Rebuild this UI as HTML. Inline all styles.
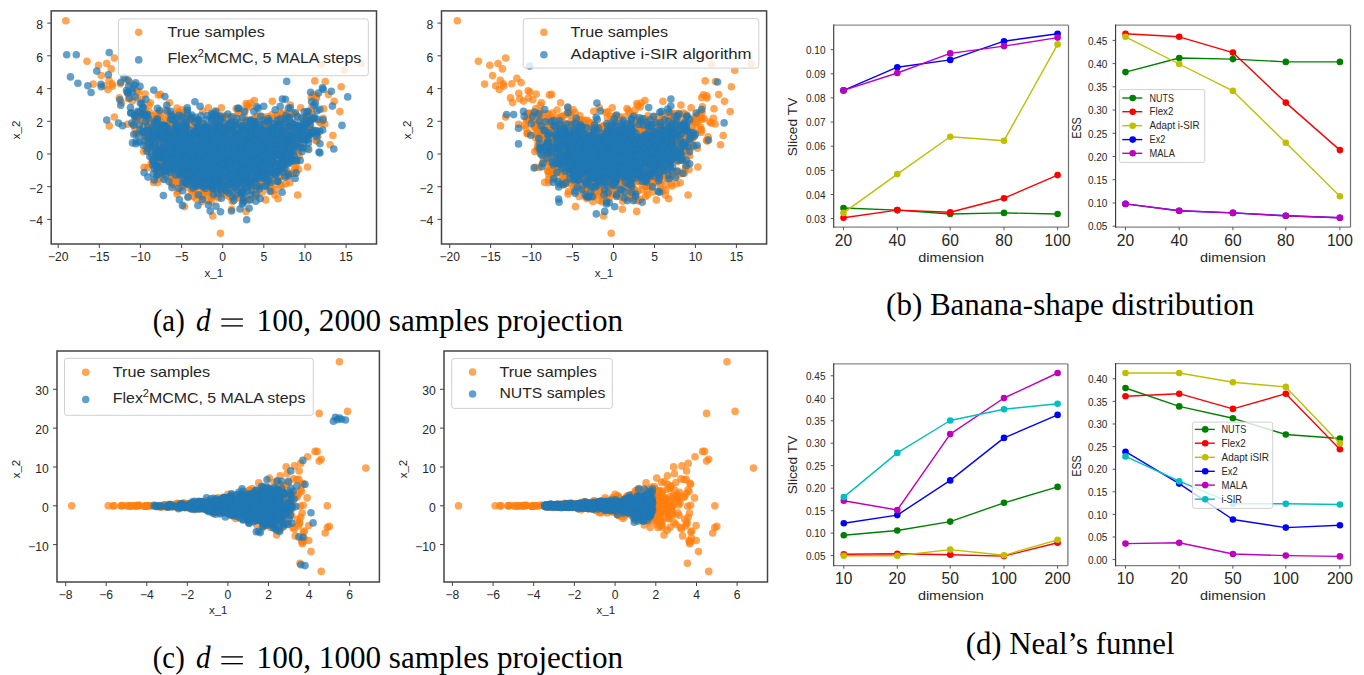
<!DOCTYPE html>
<html><head><meta charset="utf-8"><style>
html,body{margin:0;padding:0;background:#fff;width:1364px;height:675px;overflow:hidden}
svg{display:block}
text{font-family:"Liberation Sans", sans-serif}
.ser{font-family:"Liberation Serif", serif}
g circle{r:3.8px}
</style></head><body>
<svg width="1364" height="675" viewBox="0 0 1364 675">
<g fill="#ff7f0e" fill-opacity=".7"><circle cx="273.1" cy="158.7"/><circle cx="201" cy="195.7"/><circle cx="253.4" cy="178"/><circle cx="146.7" cy="146.1"/><circle cx="287.1" cy="130"/><circle cx="250.7" cy="129.1"/><circle cx="160.4" cy="130.6"/><circle cx="143.7" cy="126.1"/><circle cx="189.2" cy="158.5"/><circle cx="203.5" cy="147.4"/><circle cx="173.6" cy="179.6"/><circle cx="161.3" cy="150.9"/><circle cx="224.2" cy="134"/><circle cx="259.6" cy="178.2"/><circle cx="252.2" cy="155"/><circle cx="169.9" cy="136.6"/><circle cx="151.4" cy="136"/><circle cx="279.7" cy="125.9"/><circle cx="167.9" cy="168.3"/><circle cx="150" cy="130.2"/><circle cx="254.8" cy="196.6"/><circle cx="186.7" cy="120.2"/><circle cx="218.4" cy="198"/><circle cx="267.4" cy="122.8"/><circle cx="274.5" cy="184.6"/><circle cx="296.4" cy="151.7"/><circle cx="158" cy="171.7"/><circle cx="259" cy="175.5"/><circle cx="170.8" cy="159.3"/><circle cx="276.2" cy="141"/><circle cx="156.9" cy="159.8"/><circle cx="168.9" cy="158.8"/><circle cx="285" cy="123.9"/><circle cx="305.9" cy="119.8"/><circle cx="149.6" cy="119.6"/><circle cx="287.7" cy="141.4"/><circle cx="222" cy="181.5"/><circle cx="238.6" cy="112.4"/><circle cx="218.9" cy="186.5"/><circle cx="169.9" cy="162.4"/><circle cx="202.7" cy="181.4"/><circle cx="272.3" cy="101.2"/><circle cx="214.9" cy="112.5"/><circle cx="163.5" cy="147.9"/><circle cx="277.6" cy="149.5"/><circle cx="309.4" cy="112.1"/><circle cx="163.2" cy="167.2"/><circle cx="328.4" cy="94.6"/><circle cx="196.1" cy="183.2"/><circle cx="188.5" cy="135.2"/><circle cx="211.6" cy="197.2"/><circle cx="208.3" cy="127.7"/><circle cx="267.7" cy="123.5"/><circle cx="134.8" cy="127.7"/><circle cx="163.1" cy="143.7"/><circle cx="198.4" cy="183.9"/><circle cx="245" cy="200.5"/><circle cx="277.1" cy="178.4"/><circle cx="256.1" cy="169.3"/><circle cx="264.5" cy="143.7"/><circle cx="202.6" cy="177.9"/><circle cx="176.2" cy="136"/><circle cx="218.9" cy="179.8"/><circle cx="143.6" cy="151.6"/><circle cx="246.5" cy="138.3"/><circle cx="305.4" cy="122.2"/><circle cx="253.8" cy="119"/><circle cx="298" cy="153"/><circle cx="310.3" cy="127.3"/><circle cx="245.7" cy="124.3"/><circle cx="160.9" cy="113.1"/><circle cx="256.4" cy="186.2"/><circle cx="235.7" cy="132.2"/><circle cx="238.7" cy="139.1"/><circle cx="246.6" cy="180.3"/><circle cx="192.5" cy="189.6"/><circle cx="214.6" cy="128.4"/><circle cx="199.1" cy="174.5"/><circle cx="276.7" cy="140"/><circle cx="174.7" cy="179.3"/><circle cx="158.7" cy="144.4"/><circle cx="296.3" cy="143.2"/><circle cx="245.1" cy="132.4"/><circle cx="163.1" cy="169.8"/><circle cx="248.7" cy="176.6"/><circle cx="184" cy="112.9"/><circle cx="201.9" cy="201.5"/><circle cx="177.8" cy="170.1"/><circle cx="292.3" cy="114.4"/><circle cx="262.3" cy="116.9"/><circle cx="201.5" cy="175.1"/><circle cx="251.4" cy="141.5"/><circle cx="127.4" cy="124.3"/><circle cx="180.4" cy="158.1"/><circle cx="162.1" cy="171.4"/><circle cx="160.3" cy="117.7"/><circle cx="256.7" cy="138.4"/><circle cx="291.2" cy="160.4"/><circle cx="221.7" cy="178.9"/><circle cx="267.6" cy="129.9"/><circle cx="144.1" cy="167.2"/><circle cx="241" cy="185.9"/><circle cx="205.1" cy="147.4"/><circle cx="235.1" cy="141.8"/><circle cx="187.2" cy="159.3"/><circle cx="162" cy="148.9"/><circle cx="293.7" cy="173.4"/><circle cx="251.4" cy="121.2"/><circle cx="252" cy="157.6"/><circle cx="253.1" cy="129.1"/><circle cx="306" cy="116.4"/><circle cx="255.8" cy="169.7"/><circle cx="247.7" cy="126.9"/><circle cx="286.2" cy="175.9"/><circle cx="171.3" cy="132.4"/><circle cx="173.6" cy="125.7"/><circle cx="272.9" cy="150.6"/><circle cx="174.7" cy="141.5"/><circle cx="247.4" cy="177.4"/><circle cx="204.9" cy="191.9"/><circle cx="144.4" cy="137.7"/><circle cx="242" cy="192.9"/><circle cx="214" cy="188.1"/><circle cx="271.1" cy="166.8"/><circle cx="179.2" cy="113"/><circle cx="193.5" cy="172.6"/><circle cx="285.6" cy="125.6"/><circle cx="234.2" cy="140.1"/><circle cx="195.3" cy="126.2"/><circle cx="234.1" cy="116.7"/><circle cx="157.8" cy="167.3"/><circle cx="277.4" cy="148.8"/><circle cx="157.7" cy="123.3"/><circle cx="229" cy="116.9"/><circle cx="175.6" cy="165.5"/><circle cx="239" cy="136.5"/><circle cx="170.1" cy="154.7"/><circle cx="148.2" cy="119.4"/><circle cx="175.4" cy="146.6"/><circle cx="290" cy="136.8"/><circle cx="229.9" cy="134.5"/><circle cx="191.2" cy="178"/><circle cx="220.9" cy="181.8"/><circle cx="257.4" cy="115.7"/><circle cx="275" cy="164.2"/><circle cx="302.2" cy="126.1"/><circle cx="261" cy="146"/><circle cx="230.4" cy="132.2"/><circle cx="275.1" cy="142.3"/><circle cx="230.6" cy="178.6"/><circle cx="264.5" cy="120.8"/><circle cx="246" cy="211.4"/><circle cx="265.7" cy="154.5"/><circle cx="244.6" cy="128.8"/><circle cx="288.9" cy="137.7"/><circle cx="298.4" cy="147.6"/><circle cx="281.3" cy="157.1"/><circle cx="174.9" cy="145.3"/><circle cx="132.3" cy="101.1"/><circle cx="262.3" cy="191.9"/><circle cx="161" cy="141.9"/><circle cx="241.6" cy="126.8"/><circle cx="235.7" cy="141.7"/><circle cx="253.9" cy="172.3"/><circle cx="294.4" cy="146.8"/><circle cx="199.5" cy="192.1"/><circle cx="191.9" cy="130.5"/><circle cx="170.6" cy="120.8"/><circle cx="198.2" cy="180.4"/><circle cx="288.5" cy="136.9"/><circle cx="125.6" cy="78.4"/><circle cx="240.8" cy="140.9"/><circle cx="200.5" cy="175.7"/><circle cx="240.4" cy="186.8"/><circle cx="202.5" cy="196.6"/><circle cx="287.1" cy="136.8"/><circle cx="240.5" cy="164.7"/><circle cx="191.8" cy="181.8"/><circle cx="245" cy="133.5"/><circle cx="214.1" cy="130.7"/><circle cx="189.3" cy="132.4"/><circle cx="213.4" cy="125.5"/><circle cx="253.7" cy="181.8"/><circle cx="220.9" cy="177.5"/><circle cx="282.6" cy="147.5"/><circle cx="274.9" cy="140.6"/><circle cx="218.2" cy="127.7"/><circle cx="211.2" cy="201.8"/><circle cx="161.7" cy="174"/><circle cx="164.5" cy="166.4"/><circle cx="229.5" cy="192.8"/><circle cx="170.7" cy="116.3"/><circle cx="219.5" cy="122.8"/><circle cx="154.4" cy="130.2"/><circle cx="253.5" cy="120.9"/><circle cx="311.7" cy="112.6"/><circle cx="161.8" cy="135.3"/><circle cx="297.6" cy="195"/><circle cx="194.4" cy="181.8"/><circle cx="202.4" cy="183.2"/><circle cx="163.3" cy="129.9"/><circle cx="276.1" cy="136.5"/><circle cx="191.8" cy="192"/><circle cx="160.3" cy="150.5"/><circle cx="152.2" cy="158.9"/><circle cx="204.8" cy="185.7"/><circle cx="265.8" cy="172.5"/><circle cx="267.1" cy="169.8"/><circle cx="292.2" cy="141.3"/><circle cx="233.6" cy="187.1"/><circle cx="246.2" cy="181.2"/><circle cx="145.1" cy="94"/><circle cx="221.9" cy="192.8"/><circle cx="179.1" cy="163.3"/><circle cx="321" cy="123.1"/><circle cx="228.5" cy="182.9"/><circle cx="119.3" cy="97.9"/><circle cx="252" cy="128.5"/><circle cx="289.7" cy="120.5"/><circle cx="192.7" cy="121.7"/><circle cx="159" cy="119.8"/><circle cx="278.4" cy="143.2"/><circle cx="159.3" cy="137.9"/><circle cx="266.1" cy="136.7"/><circle cx="171.6" cy="138.1"/><circle cx="205.5" cy="180.6"/><circle cx="137.1" cy="120.8"/><circle cx="218.4" cy="126.2"/><circle cx="174.5" cy="183"/><circle cx="237.4" cy="139.8"/><circle cx="271.7" cy="114.9"/><circle cx="231.6" cy="209.3"/><circle cx="206.5" cy="184.9"/><circle cx="171.2" cy="129.6"/><circle cx="270.4" cy="126.7"/><circle cx="252.8" cy="122.3"/><circle cx="232.7" cy="183.7"/><circle cx="180.4" cy="180.2"/><circle cx="181" cy="170.8"/><circle cx="237.2" cy="164.6"/><circle cx="253" cy="159.2"/><circle cx="229.8" cy="129.9"/><circle cx="221.3" cy="179.9"/><circle cx="171.2" cy="137.6"/><circle cx="281.3" cy="186"/><circle cx="190.6" cy="120.4"/><circle cx="166" cy="151.6"/><circle cx="266.8" cy="144.5"/><circle cx="257" cy="173.1"/><circle cx="158.7" cy="142.3"/><circle cx="190.5" cy="171"/><circle cx="242.8" cy="164.3"/><circle cx="183.6" cy="159.1"/><circle cx="185.3" cy="124.3"/><circle cx="186.4" cy="126.9"/><circle cx="236.7" cy="197.9"/><circle cx="267.1" cy="116.8"/><circle cx="166.9" cy="152.4"/><circle cx="167.2" cy="141.7"/><circle cx="268.1" cy="155.5"/><circle cx="267" cy="156.6"/><circle cx="214" cy="182.8"/><circle cx="267.1" cy="130.4"/><circle cx="277.2" cy="161.5"/><circle cx="207.6" cy="194.2"/><circle cx="247.3" cy="200.8"/><circle cx="242.5" cy="134.2"/><circle cx="229.1" cy="128.6"/><circle cx="156.9" cy="134.4"/><circle cx="187.4" cy="125.6"/><circle cx="184.5" cy="206.6"/><circle cx="167.5" cy="125"/><circle cx="173" cy="184.7"/><circle cx="215.4" cy="127.7"/><circle cx="180.6" cy="167.6"/><circle cx="232.4" cy="185.5"/><circle cx="292.5" cy="144.7"/><circle cx="275.1" cy="190"/><circle cx="234.6" cy="130"/><circle cx="176.6" cy="152.5"/><circle cx="175.3" cy="126.5"/><circle cx="139.5" cy="116"/><circle cx="286.6" cy="133.3"/><circle cx="263.2" cy="144.6"/><circle cx="148.7" cy="127.2"/><circle cx="154.4" cy="132.9"/><circle cx="149.2" cy="111.8"/><circle cx="114.4" cy="58.1"/><circle cx="316.8" cy="141.1"/><circle cx="256.8" cy="171.3"/><circle cx="227.3" cy="173.3"/><circle cx="290.3" cy="150"/><circle cx="171.9" cy="170.5"/><circle cx="236.9" cy="132.6"/><circle cx="164.1" cy="136.9"/><circle cx="289.1" cy="140.6"/><circle cx="302.9" cy="130.6"/><circle cx="183.5" cy="128.3"/><circle cx="294.2" cy="125.8"/><circle cx="216" cy="196.5"/><circle cx="284.5" cy="133.4"/><circle cx="285.1" cy="124.8"/><circle cx="275.7" cy="164"/><circle cx="158" cy="171.2"/><circle cx="178.5" cy="141.7"/><circle cx="170.1" cy="135.2"/><circle cx="289.7" cy="182.7"/><circle cx="180.8" cy="160.3"/><circle cx="272.3" cy="118"/><circle cx="164.3" cy="133.8"/><circle cx="244.5" cy="126"/><circle cx="203.6" cy="147.4"/><circle cx="282.9" cy="145.1"/><circle cx="137.2" cy="98.1"/><circle cx="151" cy="119.5"/><circle cx="238.8" cy="165.2"/><circle cx="272.4" cy="140"/><circle cx="127.5" cy="93.3"/><circle cx="264.6" cy="172.3"/><circle cx="169.3" cy="159.8"/><circle cx="268.7" cy="170.1"/><circle cx="159.4" cy="143.9"/><circle cx="282.4" cy="137.6"/><circle cx="177.7" cy="145.7"/><circle cx="173.5" cy="164.8"/><circle cx="255.9" cy="135.9"/><circle cx="204.9" cy="137.1"/><circle cx="144.9" cy="128.3"/><circle cx="250.6" cy="134.3"/><circle cx="171.1" cy="167.6"/><circle cx="293.2" cy="131"/><circle cx="209.9" cy="191.4"/><circle cx="279.7" cy="166.8"/><circle cx="291.1" cy="131.5"/><circle cx="209.9" cy="139.7"/><circle cx="286.8" cy="161.8"/><circle cx="238.8" cy="132.3"/><circle cx="257.3" cy="128.2"/><circle cx="258.9" cy="185.7"/><circle cx="207.5" cy="138.2"/><circle cx="227" cy="135.3"/><circle cx="215.1" cy="182"/><circle cx="307" cy="148.3"/><circle cx="177.6" cy="191.5"/><circle cx="250.4" cy="134.7"/><circle cx="185.7" cy="120.8"/><circle cx="202.2" cy="179.8"/><circle cx="270.7" cy="159.7"/><circle cx="306.5" cy="119"/><circle cx="284" cy="120.3"/><circle cx="276.8" cy="120.2"/><circle cx="164.3" cy="172.3"/><circle cx="241.3" cy="167.9"/><circle cx="262.5" cy="142.9"/><circle cx="225.7" cy="132.6"/><circle cx="272.2" cy="161"/><circle cx="279.9" cy="124.4"/><circle cx="179.3" cy="173.4"/><circle cx="281.5" cy="140.9"/><circle cx="299.9" cy="143.6"/><circle cx="149.1" cy="105.3"/><circle cx="216.9" cy="182.2"/><circle cx="162.8" cy="141.6"/><circle cx="184.1" cy="184"/><circle cx="207.5" cy="177.2"/><circle cx="197.9" cy="178.9"/><circle cx="183.8" cy="156.1"/><circle cx="262.5" cy="125.5"/><circle cx="146.9" cy="147.2"/><circle cx="289" cy="135.3"/><circle cx="190.3" cy="177"/><circle cx="277.8" cy="157.1"/><circle cx="224.4" cy="116.1"/><circle cx="158.5" cy="163.3"/><circle cx="230.3" cy="187.9"/><circle cx="271.9" cy="147.3"/><circle cx="278.8" cy="172.5"/><circle cx="243.5" cy="176.5"/><circle cx="180.3" cy="127.2"/><circle cx="145.9" cy="149.8"/><circle cx="173.2" cy="170.5"/><circle cx="178.4" cy="131.4"/><circle cx="164" cy="154.6"/><circle cx="195.4" cy="172"/><circle cx="140.9" cy="118.1"/><circle cx="324.8" cy="124"/><circle cx="171.1" cy="182.7"/><circle cx="273.7" cy="175.3"/><circle cx="270.6" cy="158"/><circle cx="175.3" cy="176.9"/><circle cx="162.1" cy="155.1"/><circle cx="181.6" cy="132.5"/><circle cx="269.2" cy="149.1"/><circle cx="209.9" cy="137"/><circle cx="189.4" cy="172.2"/><circle cx="165.5" cy="133.7"/><circle cx="206.9" cy="177.3"/><circle cx="312" cy="106.7"/><circle cx="297.5" cy="135.5"/><circle cx="261.8" cy="147.8"/><circle cx="249.8" cy="199.3"/><circle cx="136.2" cy="133.6"/><circle cx="167.7" cy="131.5"/><circle cx="168.2" cy="146.2"/><circle cx="193.7" cy="173.6"/><circle cx="208.3" cy="139.6"/><circle cx="251.5" cy="184.9"/><circle cx="233.5" cy="132.7"/><circle cx="183.9" cy="145.5"/><circle cx="250.5" cy="103.1"/><circle cx="271.2" cy="179.4"/><circle cx="185" cy="131.8"/><circle cx="109" cy="80.4"/><circle cx="311.2" cy="119.3"/><circle cx="259" cy="170.6"/><circle cx="201.6" cy="177.9"/><circle cx="225.8" cy="133"/><circle cx="196.3" cy="120.2"/><circle cx="176.7" cy="123.7"/><circle cx="249.3" cy="174.3"/><circle cx="243.4" cy="190.9"/><circle cx="233.4" cy="177.7"/><circle cx="303.2" cy="122.6"/><circle cx="265.6" cy="132.9"/><circle cx="292.1" cy="151.1"/><circle cx="237.6" cy="168.5"/><circle cx="173.1" cy="183.4"/><circle cx="268.7" cy="166.4"/><circle cx="212.3" cy="130.7"/><circle cx="152" cy="137.1"/><circle cx="151.7" cy="127.2"/><circle cx="181.4" cy="147.2"/><circle cx="266.9" cy="170.8"/><circle cx="283.1" cy="118.9"/><circle cx="226.3" cy="133.5"/><circle cx="269.9" cy="188.8"/><circle cx="212.3" cy="127"/><circle cx="310.9" cy="117.4"/><circle cx="196.1" cy="198.8"/><circle cx="241.7" cy="126.3"/><circle cx="263.6" cy="139.7"/><circle cx="172.5" cy="153"/><circle cx="232.8" cy="181.5"/><circle cx="174.6" cy="150.7"/><circle cx="220.7" cy="185.9"/><circle cx="280.6" cy="184.2"/><circle cx="280.9" cy="113.5"/><circle cx="137.2" cy="133.2"/><circle cx="274" cy="173.5"/><circle cx="311.2" cy="130.3"/><circle cx="168.6" cy="125.2"/><circle cx="325.2" cy="81.6"/><circle cx="287.6" cy="159.2"/><circle cx="257.8" cy="186.2"/><circle cx="323.1" cy="118.2"/><circle cx="226.6" cy="137.5"/><circle cx="167" cy="164.3"/><circle cx="179.7" cy="115.4"/><circle cx="277.4" cy="115.6"/><circle cx="181.5" cy="125.4"/><circle cx="259.8" cy="183.8"/><circle cx="157.8" cy="132.7"/><circle cx="238.6" cy="171.2"/><circle cx="133.5" cy="125.1"/><circle cx="177.5" cy="170.4"/><circle cx="249" cy="132"/><circle cx="162.9" cy="160.7"/><circle cx="135.9" cy="133.5"/><circle cx="187.5" cy="156.3"/><circle cx="190" cy="134.7"/><circle cx="253.8" cy="171"/><circle cx="184.8" cy="159.3"/><circle cx="164.6" cy="139.2"/><circle cx="281.6" cy="149.1"/><circle cx="254.7" cy="172.2"/><circle cx="272.7" cy="131.6"/><circle cx="252.9" cy="141.3"/><circle cx="171.3" cy="168.3"/><circle cx="264.6" cy="149.8"/><circle cx="239.7" cy="165.9"/><circle cx="282.6" cy="158.5"/><circle cx="276.7" cy="142.5"/><circle cx="260.9" cy="173.9"/><circle cx="216.6" cy="127.1"/><circle cx="279.1" cy="167.1"/><circle cx="160.5" cy="128.3"/><circle cx="184.3" cy="157.7"/><circle cx="183.2" cy="140.1"/><circle cx="144.6" cy="108.5"/><circle cx="311.3" cy="97.5"/><circle cx="244.2" cy="110"/><circle cx="167.2" cy="126.7"/><circle cx="166.1" cy="110"/><circle cx="146.9" cy="142.8"/><circle cx="181.3" cy="148.9"/><circle cx="253.4" cy="135.8"/><circle cx="239.6" cy="137"/><circle cx="140" cy="117.3"/><circle cx="112.4" cy="86.1"/><circle cx="209.3" cy="191.4"/><circle cx="174.2" cy="145.1"/><circle cx="316.1" cy="140.3"/><circle cx="227.8" cy="137"/><circle cx="181.9" cy="143.1"/><circle cx="246.1" cy="134.6"/><circle cx="239" cy="139.6"/><circle cx="225" cy="125.8"/><circle cx="145.4" cy="113.4"/><circle cx="317.8" cy="136.9"/><circle cx="256.9" cy="194.7"/><circle cx="220.4" cy="126.9"/><circle cx="151.2" cy="163.8"/><circle cx="170.2" cy="174.6"/><circle cx="278.5" cy="157.4"/><circle cx="108" cy="89.5"/><circle cx="321.1" cy="64.2"/><circle cx="180.4" cy="177.1"/><circle cx="166.7" cy="145.8"/><circle cx="234" cy="134.5"/><circle cx="281.5" cy="145.8"/><circle cx="220.4" cy="186.3"/><circle cx="265.8" cy="151.6"/><circle cx="173.9" cy="162.8"/><circle cx="280.3" cy="176.5"/><circle cx="287.2" cy="144.7"/><circle cx="285.8" cy="183.8"/><circle cx="175.2" cy="136.1"/><circle cx="174.6" cy="146.9"/><circle cx="243.6" cy="129.7"/><circle cx="163.7" cy="124.1"/><circle cx="221.7" cy="133.4"/><circle cx="247.1" cy="176.9"/><circle cx="135.7" cy="114"/><circle cx="231.4" cy="122.7"/><circle cx="222.2" cy="186.6"/><circle cx="148.9" cy="115"/><circle cx="298.5" cy="169.6"/><circle cx="157.8" cy="174.4"/><circle cx="249.6" cy="106.9"/><circle cx="274.7" cy="159.7"/><circle cx="234.9" cy="180.1"/><circle cx="181" cy="163.6"/><circle cx="234.5" cy="141.5"/><circle cx="282.7" cy="158.5"/><circle cx="303.2" cy="121.8"/><circle cx="232.1" cy="187.3"/><circle cx="166.6" cy="169.1"/><circle cx="205" cy="170.2"/><circle cx="292.2" cy="145.1"/><circle cx="251.3" cy="189.7"/><circle cx="261.2" cy="148.3"/><circle cx="211.1" cy="190.6"/><circle cx="235" cy="139.1"/><circle cx="197.3" cy="174.6"/><circle cx="168.5" cy="118.1"/><circle cx="281.3" cy="133.8"/><circle cx="180" cy="149.1"/><circle cx="265.2" cy="123.6"/><circle cx="212.8" cy="216"/><circle cx="275.9" cy="155"/><circle cx="252" cy="157.7"/><circle cx="281.3" cy="134.5"/><circle cx="278.1" cy="198.7"/><circle cx="261.5" cy="185.6"/><circle cx="165.8" cy="150.4"/><circle cx="257.5" cy="178"/><circle cx="239.9" cy="141.1"/><circle cx="203.6" cy="191.5"/><circle cx="232.2" cy="131.9"/><circle cx="205.2" cy="146"/><circle cx="245.1" cy="128.3"/><circle cx="143.8" cy="123.1"/><circle cx="153.4" cy="135"/><circle cx="202.8" cy="111.2"/><circle cx="244" cy="115.7"/><circle cx="287.3" cy="171"/><circle cx="177.2" cy="160"/><circle cx="160.5" cy="158.9"/><circle cx="229.4" cy="178.9"/><circle cx="187.7" cy="155.3"/><circle cx="231.1" cy="139"/><circle cx="252.7" cy="153.4"/><circle cx="173.6" cy="135.2"/><circle cx="142.9" cy="127.1"/><circle cx="215" cy="189.3"/><circle cx="292.6" cy="135.4"/><circle cx="302.4" cy="118.2"/><circle cx="259.8" cy="174.1"/><circle cx="280.4" cy="136.4"/><circle cx="294" cy="146.3"/><circle cx="208.4" cy="107.7"/><circle cx="171.3" cy="134.1"/><circle cx="208.3" cy="200.5"/><circle cx="150.1" cy="131.9"/><circle cx="252.7" cy="136.6"/><circle cx="162.7" cy="136.1"/><circle cx="216.2" cy="126.1"/><circle cx="179.6" cy="165.8"/><circle cx="175.2" cy="155.4"/><circle cx="177.9" cy="142.3"/><circle cx="323.7" cy="108.8"/><circle cx="178.4" cy="140.4"/><circle cx="121.4" cy="102.6"/><circle cx="160.6" cy="140.4"/><circle cx="172.7" cy="132.5"/><circle cx="242.4" cy="181.5"/><circle cx="169.5" cy="102.7"/><circle cx="247.6" cy="137.8"/><circle cx="185.7" cy="140.8"/><circle cx="177" cy="194.1"/><circle cx="257" cy="169.5"/><circle cx="129.8" cy="82.6"/><circle cx="252.6" cy="168.4"/><circle cx="307.5" cy="167"/><circle cx="296.4" cy="163.3"/><circle cx="243.2" cy="136.4"/><circle cx="177.3" cy="141.9"/><circle cx="253.3" cy="156.9"/><circle cx="167.6" cy="159.8"/><circle cx="166.7" cy="141.1"/><circle cx="279.9" cy="123.8"/><circle cx="303.5" cy="136.4"/><circle cx="220.7" cy="132.1"/><circle cx="281.7" cy="129.4"/><circle cx="281.4" cy="125.7"/><circle cx="251.5" cy="156.1"/><circle cx="188.2" cy="196.5"/><circle cx="135.3" cy="120"/><circle cx="205.9" cy="145"/><circle cx="239.8" cy="122.2"/><circle cx="250.4" cy="172.5"/><circle cx="257" cy="126.2"/><circle cx="188.9" cy="123.1"/><circle cx="223" cy="182.3"/><circle cx="160.5" cy="162.8"/><circle cx="310.6" cy="132.4"/><circle cx="299.2" cy="155.8"/><circle cx="220.5" cy="177.6"/><circle cx="267.2" cy="164.7"/><circle cx="288.5" cy="124.5"/><circle cx="185.5" cy="133.2"/><circle cx="114.3" cy="117"/><circle cx="270.4" cy="130"/><circle cx="146.1" cy="114.4"/><circle cx="263.2" cy="177.6"/><circle cx="259.5" cy="124.7"/><circle cx="148" cy="167.5"/><circle cx="267.8" cy="134.9"/><circle cx="229.6" cy="182.7"/><circle cx="266.6" cy="165.7"/><circle cx="265.7" cy="199.9"/><circle cx="186" cy="179.8"/><circle cx="137" cy="90.7"/><circle cx="216.6" cy="117.5"/><circle cx="177.3" cy="177.4"/><circle cx="240.7" cy="194.7"/><circle cx="149.4" cy="135.6"/><circle cx="247.1" cy="191.3"/><circle cx="139.3" cy="113.5"/><circle cx="160.5" cy="94.4"/><circle cx="155.7" cy="113.9"/><circle cx="271.7" cy="149"/><circle cx="189.3" cy="183.8"/><circle cx="93.2" cy="84.1"/><circle cx="235.9" cy="124.4"/><circle cx="276.2" cy="144.6"/><circle cx="270.1" cy="163.8"/><circle cx="148" cy="139.8"/><circle cx="195" cy="128.2"/><circle cx="287.6" cy="113.3"/><circle cx="195.7" cy="186.9"/><circle cx="287.1" cy="148.7"/><circle cx="223.1" cy="193.8"/><circle cx="153.6" cy="182.4"/><circle cx="313.8" cy="118.8"/><circle cx="182.6" cy="186.9"/><circle cx="292.9" cy="159.1"/><circle cx="172.1" cy="127.9"/><circle cx="265.5" cy="182.3"/><circle cx="172.2" cy="150.8"/><circle cx="178.2" cy="142.5"/><circle cx="262.4" cy="130.5"/><circle cx="210.9" cy="139.1"/><circle cx="249.6" cy="156.9"/><circle cx="290.7" cy="173.8"/><circle cx="274.9" cy="195.1"/><circle cx="281.8" cy="129.2"/><circle cx="273.4" cy="147.1"/><circle cx="156.5" cy="171.1"/><circle cx="273" cy="168.8"/><circle cx="236.2" cy="108.6"/><circle cx="217.6" cy="178.8"/><circle cx="178.1" cy="145.9"/><circle cx="157.3" cy="119.9"/><circle cx="177" cy="108"/><circle cx="174.4" cy="141.8"/><circle cx="189.1" cy="177"/><circle cx="216.7" cy="179.6"/><circle cx="277.2" cy="125.5"/><circle cx="247.3" cy="105.6"/><circle cx="179.2" cy="158.9"/><circle cx="236.2" cy="195.7"/><circle cx="227.6" cy="119.2"/><circle cx="203.5" cy="124.2"/><circle cx="180.3" cy="165.5"/><circle cx="203.5" cy="127.8"/><circle cx="173.3" cy="150.6"/><circle cx="248.5" cy="138.4"/><circle cx="162.2" cy="150.3"/><circle cx="264.5" cy="154.1"/><circle cx="172.3" cy="131.7"/><circle cx="144.9" cy="134"/><circle cx="174.1" cy="164.4"/><circle cx="207.7" cy="183.1"/><circle cx="248.2" cy="176"/><circle cx="283.1" cy="141.1"/><circle cx="279.4" cy="144.3"/><circle cx="270.6" cy="175.3"/><circle cx="204.8" cy="170.3"/><circle cx="154.1" cy="140.4"/><circle cx="319.6" cy="122"/><circle cx="281.6" cy="159.8"/><circle cx="255" cy="182.2"/><circle cx="292.2" cy="151.6"/><circle cx="179.7" cy="129.5"/><circle cx="294.5" cy="135.3"/><circle cx="246.1" cy="103.5"/><circle cx="279.3" cy="156.3"/><circle cx="255" cy="186.1"/><circle cx="203.4" cy="194.2"/><circle cx="184" cy="145.3"/><circle cx="280.8" cy="136.1"/><circle cx="239.6" cy="170.9"/><circle cx="252.3" cy="138.5"/><circle cx="201.3" cy="183.8"/><circle cx="300.9" cy="138.7"/><circle cx="238.4" cy="190.6"/><circle cx="237.7" cy="110.6"/><circle cx="185.9" cy="132.9"/><circle cx="175.1" cy="114.3"/><circle cx="232.4" cy="184.2"/><circle cx="278.8" cy="125.6"/><circle cx="242" cy="165.1"/><circle cx="178.7" cy="111.7"/><circle cx="245.1" cy="176.2"/><circle cx="264.8" cy="158.8"/><circle cx="237.2" cy="187.7"/><circle cx="193.4" cy="174.9"/><circle cx="158.8" cy="126.1"/><circle cx="254.9" cy="137.6"/><circle cx="268" cy="137.3"/><circle cx="296" cy="114.9"/><circle cx="175.4" cy="163.8"/><circle cx="250.2" cy="130.9"/><circle cx="292.9" cy="144.9"/><circle cx="221.1" cy="183.2"/><circle cx="147" cy="124.7"/><circle cx="168.8" cy="145.7"/><circle cx="194.7" cy="176"/><circle cx="174.4" cy="133.8"/><circle cx="266" cy="171.6"/><circle cx="254.3" cy="100.5"/><circle cx="228.8" cy="176.2"/><circle cx="295.2" cy="167.1"/><circle cx="255.6" cy="172.7"/><circle cx="203.9" cy="130.7"/><circle cx="189" cy="159.3"/><circle cx="272.8" cy="132.3"/><circle cx="228.7" cy="127.8"/><circle cx="232.2" cy="136.3"/><circle cx="257.8" cy="132.7"/><circle cx="174.7" cy="128.3"/><circle cx="256.2" cy="173.1"/><circle cx="205.6" cy="145.4"/><circle cx="214.7" cy="131.8"/><circle cx="173" cy="183.8"/><circle cx="163.4" cy="178.6"/><circle cx="219" cy="184.5"/><circle cx="150.8" cy="152.1"/><circle cx="182" cy="154.3"/><circle cx="178.9" cy="166.7"/><circle cx="180.4" cy="120.9"/><circle cx="191.4" cy="133"/><circle cx="229.4" cy="178.8"/><circle cx="228.2" cy="177.6"/><circle cx="287.2" cy="155.5"/><circle cx="211.9" cy="183.5"/><circle cx="173.6" cy="176"/><circle cx="184.5" cy="139"/><circle cx="147" cy="135.3"/><circle cx="220" cy="116.3"/><circle cx="159.5" cy="146.1"/><circle cx="206.5" cy="148.1"/><circle cx="210.2" cy="137.2"/><circle cx="241.9" cy="133.2"/><circle cx="204.5" cy="175"/><circle cx="282.8" cy="153.4"/><circle cx="240.3" cy="197.5"/><circle cx="171.6" cy="179.5"/><circle cx="246" cy="142"/><circle cx="167.3" cy="144.3"/><circle cx="174.5" cy="154.1"/><circle cx="300.7" cy="107.8"/><circle cx="151.1" cy="130.2"/><circle cx="270.6" cy="157"/><circle cx="253.2" cy="182.1"/><circle cx="147.3" cy="132.7"/><circle cx="279.6" cy="151.1"/><circle cx="266.9" cy="165.6"/><circle cx="152" cy="115.7"/><circle cx="178" cy="124.4"/><circle cx="193.7" cy="196.6"/><circle cx="295.9" cy="149.6"/><circle cx="225.6" cy="187.1"/><circle cx="210.8" cy="126.3"/><circle cx="182.3" cy="137.4"/><circle cx="280.4" cy="135.9"/><circle cx="208.7" cy="137.8"/><circle cx="290.4" cy="105.1"/><circle cx="205.8" cy="176.1"/><circle cx="273.6" cy="134.2"/><circle cx="245.7" cy="139.2"/><circle cx="266.4" cy="160.5"/><circle cx="262.7" cy="126.6"/><circle cx="230.7" cy="138.2"/><circle cx="246" cy="122.1"/><circle cx="218.9" cy="133"/><circle cx="285.8" cy="145.8"/><circle cx="138.3" cy="113.4"/><circle cx="182.2" cy="136.7"/><circle cx="193.5" cy="120.3"/><circle cx="264.7" cy="140.4"/><circle cx="197.1" cy="128.6"/><circle cx="251.6" cy="125"/><circle cx="265.8" cy="161.1"/><circle cx="174" cy="149.3"/><circle cx="247.3" cy="181.1"/><circle cx="169.9" cy="159.8"/><circle cx="155.1" cy="146.6"/><circle cx="243.5" cy="188.9"/><circle cx="220.1" cy="129.9"/><circle cx="225.9" cy="125.8"/><circle cx="180.1" cy="129.7"/><circle cx="339.9" cy="111.6"/><circle cx="179.6" cy="151.9"/><circle cx="161.6" cy="145.8"/><circle cx="282.9" cy="138.7"/><circle cx="294.7" cy="169.7"/><circle cx="225.8" cy="174.8"/><circle cx="182.9" cy="144.2"/><circle cx="158.3" cy="94.9"/><circle cx="136.9" cy="118.8"/><circle cx="167.6" cy="146.3"/><circle cx="277.5" cy="147.6"/><circle cx="159.7" cy="125.9"/><circle cx="198.3" cy="122.2"/><circle cx="217" cy="111.7"/><circle cx="194" cy="180.9"/><circle cx="291.6" cy="149.1"/><circle cx="228.4" cy="183.4"/><circle cx="192.9" cy="189.5"/><circle cx="177.8" cy="154.3"/><circle cx="153.3" cy="159.5"/><circle cx="179.8" cy="125.3"/><circle cx="172.8" cy="167.8"/><circle cx="273" cy="140.8"/><circle cx="157.5" cy="179.2"/><circle cx="293.1" cy="113.1"/><circle cx="184.4" cy="184.6"/><circle cx="165.9" cy="155.5"/><circle cx="273.5" cy="143.9"/><circle cx="227.5" cy="132.4"/><circle cx="268" cy="152.5"/><circle cx="308.1" cy="120.8"/><circle cx="273.2" cy="155.3"/><circle cx="181.4" cy="165.5"/><circle cx="188.3" cy="178.4"/><circle cx="256.2" cy="190.1"/><circle cx="206" cy="148.5"/><circle cx="170.9" cy="166.7"/><circle cx="182.2" cy="109.9"/><circle cx="231.5" cy="127.8"/><circle cx="136.6" cy="113.4"/><circle cx="229.9" cy="196.9"/><circle cx="180.4" cy="140.3"/><circle cx="234.2" cy="178.9"/><circle cx="205.4" cy="184.4"/><circle cx="269.6" cy="184.3"/><circle cx="166" cy="117.6"/><circle cx="246.2" cy="142"/><circle cx="205.4" cy="185.4"/><circle cx="158.3" cy="170.5"/><circle cx="284.4" cy="118.5"/><circle cx="173.8" cy="154.9"/><circle cx="263.3" cy="136.3"/><circle cx="147.5" cy="132.9"/><circle cx="214.1" cy="181"/><circle cx="139.3" cy="116"/><circle cx="156" cy="135.6"/><circle cx="169.4" cy="156.7"/><circle cx="267.7" cy="164.2"/><circle cx="299.9" cy="147.4"/><circle cx="179.5" cy="162"/><circle cx="306.1" cy="123.7"/><circle cx="120.4" cy="83.8"/><circle cx="224.8" cy="116.4"/><circle cx="245.5" cy="137.4"/><circle cx="158.1" cy="160.9"/><circle cx="236" cy="138.6"/><circle cx="194" cy="189.5"/><circle cx="243.8" cy="193.2"/><circle cx="203.3" cy="144.4"/><circle cx="160.6" cy="128"/><circle cx="286.6" cy="142.9"/><circle cx="264.4" cy="124.8"/><circle cx="204.4" cy="127.6"/><circle cx="287.5" cy="137.6"/><circle cx="249.4" cy="169.2"/><circle cx="220.7" cy="176.1"/><circle cx="180" cy="184"/><circle cx="270.5" cy="126.2"/><circle cx="154.3" cy="137.9"/><circle cx="264.7" cy="158.9"/><circle cx="188.6" cy="119.9"/><circle cx="104.4" cy="85.8"/><circle cx="171" cy="161.1"/><circle cx="158" cy="141.5"/><circle cx="171.8" cy="116.4"/><circle cx="316.3" cy="95.9"/><circle cx="208.7" cy="134.6"/><circle cx="164" cy="160"/><circle cx="235" cy="131.5"/><circle cx="285" cy="172.1"/><circle cx="201.6" cy="175.3"/><circle cx="217.9" cy="129.8"/><circle cx="168.7" cy="158.2"/><circle cx="206.5" cy="176.2"/><circle cx="219.5" cy="188.9"/><circle cx="141.7" cy="99.8"/><circle cx="221.4" cy="107.7"/><circle cx="278.5" cy="145.9"/><circle cx="144.8" cy="124.6"/><circle cx="189.1" cy="115.8"/><circle cx="165.8" cy="141.6"/><circle cx="166.2" cy="138.6"/><circle cx="168.4" cy="166.8"/><circle cx="180.2" cy="158.4"/><circle cx="256.6" cy="133.3"/><circle cx="254.2" cy="118.9"/><circle cx="240" cy="123"/><circle cx="277.6" cy="117.1"/><circle cx="270" cy="155.3"/><circle cx="274.8" cy="157.7"/><circle cx="248.6" cy="129.1"/><circle cx="265.4" cy="178.4"/><circle cx="237.3" cy="185.2"/><circle cx="252" cy="121.5"/><circle cx="150.4" cy="102.7"/><circle cx="310.1" cy="129.4"/><circle cx="146.8" cy="132"/><circle cx="286.1" cy="117"/><circle cx="260.9" cy="124.8"/><circle cx="269.3" cy="145.4"/><circle cx="226.3" cy="186.4"/><circle cx="266.2" cy="161.7"/><circle cx="279.1" cy="177.7"/><circle cx="175" cy="155.6"/><circle cx="154.8" cy="126.6"/><circle cx="292.5" cy="123.8"/><circle cx="266.3" cy="142.7"/><circle cx="277.7" cy="135.1"/><circle cx="274.7" cy="161.2"/><circle cx="228.2" cy="174.5"/><circle cx="159.5" cy="133.4"/><circle cx="138.8" cy="92.1"/><circle cx="170.1" cy="172.3"/><circle cx="232.6" cy="127.9"/><circle cx="271.7" cy="191.2"/><circle cx="330.1" cy="144.8"/><circle cx="282.7" cy="113.3"/><circle cx="161.5" cy="121.8"/><circle cx="128.5" cy="98.7"/><circle cx="157.6" cy="182.6"/><circle cx="225.9" cy="195"/><circle cx="245.9" cy="140.8"/><circle cx="268.2" cy="125.1"/><circle cx="255.8" cy="157.4"/><circle cx="306.9" cy="115.8"/><circle cx="246.1" cy="119.8"/><circle cx="301.4" cy="139.8"/><circle cx="232.2" cy="201.3"/><circle cx="212.8" cy="183.7"/><circle cx="199.8" cy="127.7"/><circle cx="242" cy="169"/><circle cx="282.5" cy="126.7"/><circle cx="269.9" cy="145.7"/><circle cx="201.5" cy="123"/><circle cx="156.4" cy="136.9"/><circle cx="267.1" cy="147.9"/><circle cx="261.1" cy="129.8"/><circle cx="208.5" cy="192"/><circle cx="156.2" cy="154.1"/><circle cx="313.1" cy="94.9"/><circle cx="158" cy="114.6"/><circle cx="256.9" cy="176.8"/><circle cx="237.8" cy="130.6"/><circle cx="269.1" cy="174.8"/><circle cx="196.7" cy="178.2"/><circle cx="217.6" cy="194.8"/><circle cx="293" cy="124.4"/><circle cx="189.9" cy="188.2"/><circle cx="269.4" cy="154.2"/><circle cx="287.7" cy="139.4"/><circle cx="263.2" cy="146.5"/><circle cx="168.3" cy="132.7"/><circle cx="249.1" cy="172.1"/><circle cx="250.8" cy="170.7"/><circle cx="180.2" cy="151.7"/><circle cx="165.9" cy="162.4"/><circle cx="65.8" cy="20.8"/><circle cx="87" cy="61.2"/><circle cx="98.5" cy="65.3"/><circle cx="106.7" cy="63.5"/><circle cx="101.3" cy="75.6"/><circle cx="111.2" cy="68.9"/><circle cx="112.1" cy="83.7"/><circle cx="109.2" cy="125.9"/><circle cx="220.4" cy="233.3"/><circle cx="344.4" cy="70.2"/><circle cx="360.9" cy="63.5"/><circle cx="341.2" cy="86.8"/><circle cx="314.8" cy="80.9"/><circle cx="334.2" cy="101.3"/><circle cx="332.9" cy="135.5"/><circle cx="316.5" cy="97.9"/></g>
<g fill="#1f77b4" fill-opacity=".7"><circle cx="265.7" cy="177.4"/><circle cx="252.5" cy="140.7"/><circle cx="289.3" cy="143.3"/><circle cx="173.1" cy="151"/><circle cx="168.4" cy="167"/><circle cx="218.3" cy="164.5"/><circle cx="243.1" cy="202.4"/><circle cx="144.1" cy="172.6"/><circle cx="228.7" cy="162.6"/><circle cx="185.4" cy="173.2"/><circle cx="295.7" cy="137.9"/><circle cx="261.7" cy="162.5"/><circle cx="220.3" cy="154.1"/><circle cx="249.8" cy="168.1"/><circle cx="208.5" cy="204.9"/><circle cx="218" cy="167.6"/><circle cx="197.8" cy="137.6"/><circle cx="198.3" cy="120.1"/><circle cx="192.7" cy="164.4"/><circle cx="157.1" cy="155"/><circle cx="256.6" cy="149.3"/><circle cx="167.1" cy="156"/><circle cx="212.5" cy="171.7"/><circle cx="297.5" cy="116.6"/><circle cx="239.5" cy="181.9"/><circle cx="199.1" cy="165.4"/><circle cx="261.9" cy="174"/><circle cx="217.4" cy="146.3"/><circle cx="247.1" cy="133.1"/><circle cx="143.3" cy="145.3"/><circle cx="208.4" cy="154.7"/><circle cx="245.4" cy="141.3"/><circle cx="207.1" cy="163.6"/><circle cx="240.8" cy="183.2"/><circle cx="263" cy="138.2"/><circle cx="273.3" cy="145.3"/><circle cx="289.4" cy="126.4"/><circle cx="267.1" cy="160.3"/><circle cx="270.6" cy="141.4"/><circle cx="267.8" cy="170.5"/><circle cx="315.4" cy="103.1"/><circle cx="247.5" cy="187.8"/><circle cx="185.3" cy="182.7"/><circle cx="158.8" cy="151.1"/><circle cx="186.4" cy="140.5"/><circle cx="238" cy="133.2"/><circle cx="242.2" cy="127.4"/><circle cx="159.5" cy="157.8"/><circle cx="145.2" cy="135.7"/><circle cx="209.7" cy="153.1"/><circle cx="220.7" cy="132.3"/><circle cx="250.3" cy="120"/><circle cx="273.2" cy="162.7"/><circle cx="247.9" cy="154.1"/><circle cx="177.7" cy="133.7"/><circle cx="232.4" cy="179.7"/><circle cx="250" cy="169.2"/><circle cx="247.1" cy="173.6"/><circle cx="150.6" cy="145.4"/><circle cx="192.5" cy="163"/><circle cx="160.5" cy="157.9"/><circle cx="270.9" cy="156.4"/><circle cx="234" cy="149.7"/><circle cx="163.8" cy="150.2"/><circle cx="263.4" cy="167.8"/><circle cx="225.9" cy="135.9"/><circle cx="191" cy="117.4"/><circle cx="132.8" cy="88.8"/><circle cx="193.5" cy="134.7"/><circle cx="224.7" cy="135.7"/><circle cx="264.7" cy="175.3"/><circle cx="221.7" cy="169.3"/><circle cx="212" cy="165.2"/><circle cx="244.9" cy="168.8"/><circle cx="308.1" cy="111.2"/><circle cx="208.6" cy="150"/><circle cx="157.8" cy="167.8"/><circle cx="278" cy="149.9"/><circle cx="249.8" cy="129.9"/><circle cx="277.5" cy="120.1"/><circle cx="220.3" cy="158.6"/><circle cx="179.8" cy="175"/><circle cx="259.1" cy="130.8"/><circle cx="253.7" cy="140.8"/><circle cx="187" cy="166"/><circle cx="162.1" cy="136.7"/><circle cx="241.2" cy="193.4"/><circle cx="215.7" cy="128"/><circle cx="197.4" cy="153.3"/><circle cx="201" cy="170.6"/><circle cx="154.2" cy="180"/><circle cx="290.3" cy="107.9"/><circle cx="217.3" cy="154.2"/><circle cx="170.4" cy="153.3"/><circle cx="246.6" cy="143.6"/><circle cx="249.8" cy="158.3"/><circle cx="233.2" cy="160.7"/><circle cx="238.4" cy="145.8"/><circle cx="194.7" cy="151.4"/><circle cx="135.7" cy="82.9"/><circle cx="169.7" cy="147.5"/><circle cx="218.2" cy="138.9"/><circle cx="174.8" cy="155.4"/><circle cx="236.2" cy="153.8"/><circle cx="266.1" cy="142.1"/><circle cx="241.3" cy="151.9"/><circle cx="231.9" cy="117.1"/><circle cx="256.8" cy="166.8"/><circle cx="239.3" cy="171.8"/><circle cx="175.7" cy="159.2"/><circle cx="275.8" cy="148.8"/><circle cx="175.9" cy="124.8"/><circle cx="225.3" cy="151.2"/><circle cx="206.7" cy="126.2"/><circle cx="181.1" cy="150.2"/><circle cx="163.2" cy="139.7"/><circle cx="210.8" cy="129.5"/><circle cx="236.9" cy="151.4"/><circle cx="250.4" cy="195.1"/><circle cx="256.9" cy="106.8"/><circle cx="267.8" cy="162.2"/><circle cx="256.6" cy="157"/><circle cx="189.2" cy="155.2"/><circle cx="225.1" cy="123.9"/><circle cx="153.6" cy="146.7"/><circle cx="308.6" cy="133.3"/><circle cx="176.7" cy="168.6"/><circle cx="130.5" cy="107.5"/><circle cx="285.2" cy="138.7"/><circle cx="239.5" cy="142.9"/><circle cx="211.6" cy="113.6"/><circle cx="274.8" cy="150.3"/><circle cx="255.4" cy="134.3"/><circle cx="259.4" cy="189"/><circle cx="266.9" cy="150.3"/><circle cx="213.7" cy="156"/><circle cx="233.8" cy="147.5"/><circle cx="233.2" cy="166.7"/><circle cx="195.2" cy="131.1"/><circle cx="270" cy="172.4"/><circle cx="197.2" cy="155.7"/><circle cx="153.8" cy="90.1"/><circle cx="285.4" cy="119.4"/><circle cx="175.8" cy="175.3"/><circle cx="207.6" cy="155.3"/><circle cx="247.5" cy="160"/><circle cx="190.8" cy="156.3"/><circle cx="210.7" cy="159"/><circle cx="226.8" cy="161.5"/><circle cx="227.4" cy="137.5"/><circle cx="221.5" cy="126.8"/><circle cx="248.6" cy="139.6"/><circle cx="276.9" cy="143.2"/><circle cx="192.3" cy="171.5"/><circle cx="239" cy="133.4"/><circle cx="298.6" cy="125.7"/><circle cx="222.2" cy="158.9"/><circle cx="186.2" cy="173.4"/><circle cx="210.8" cy="183.9"/><circle cx="288.5" cy="176"/><circle cx="235.2" cy="182.6"/><circle cx="199.2" cy="144.4"/><circle cx="302.1" cy="151.4"/><circle cx="168.1" cy="139.5"/><circle cx="258.1" cy="149.7"/><circle cx="264.5" cy="173.8"/><circle cx="208.6" cy="147"/><circle cx="255" cy="158.7"/><circle cx="201.7" cy="136.9"/><circle cx="228.9" cy="192.7"/><circle cx="198.8" cy="147.2"/><circle cx="147.9" cy="177.1"/><circle cx="212.7" cy="159.9"/><circle cx="255.6" cy="123.6"/><circle cx="280.2" cy="143.2"/><circle cx="225.6" cy="157.4"/><circle cx="143.1" cy="113.3"/><circle cx="214.6" cy="150.2"/><circle cx="184.7" cy="147.5"/><circle cx="250.8" cy="146.5"/><circle cx="292.3" cy="126.2"/><circle cx="235.8" cy="185.5"/><circle cx="306.4" cy="134.3"/><circle cx="285" cy="177.1"/><circle cx="251.3" cy="144.9"/><circle cx="231.3" cy="159.3"/><circle cx="167.6" cy="131.2"/><circle cx="270" cy="161.2"/><circle cx="284.3" cy="140"/><circle cx="148.5" cy="138.4"/><circle cx="255.1" cy="147.1"/><circle cx="266.9" cy="131.6"/><circle cx="297.1" cy="129.3"/><circle cx="188.7" cy="163.5"/><circle cx="190.8" cy="144.6"/><circle cx="231.4" cy="179.3"/><circle cx="185.3" cy="127.2"/><circle cx="172" cy="158.9"/><circle cx="183.5" cy="138.5"/><circle cx="202.2" cy="142.2"/><circle cx="186.1" cy="122.9"/><circle cx="209.1" cy="172.9"/><circle cx="280.2" cy="147.1"/><circle cx="265.9" cy="161.3"/><circle cx="259.4" cy="158.7"/><circle cx="164.9" cy="125.6"/><circle cx="310.7" cy="134.4"/><circle cx="208" cy="132.7"/><circle cx="268.5" cy="134.8"/><circle cx="223" cy="136.4"/><circle cx="170" cy="144"/><circle cx="242.2" cy="177.4"/><circle cx="260.6" cy="146.6"/><circle cx="246.8" cy="143"/><circle cx="145.5" cy="121.6"/><circle cx="290.2" cy="131.1"/><circle cx="259" cy="186.4"/><circle cx="217.5" cy="124.7"/><circle cx="198.5" cy="137.2"/><circle cx="310.4" cy="124"/><circle cx="240.9" cy="176.2"/><circle cx="287.7" cy="150.5"/><circle cx="248" cy="154.6"/><circle cx="214" cy="145.7"/><circle cx="133.8" cy="134.2"/><circle cx="229.9" cy="138.3"/><circle cx="161.7" cy="130.2"/><circle cx="134.7" cy="115.5"/><circle cx="277.1" cy="154.1"/><circle cx="255.8" cy="201.2"/><circle cx="252.5" cy="159.6"/><circle cx="228.1" cy="129.3"/><circle cx="243.4" cy="200.4"/><circle cx="232.4" cy="128.8"/><circle cx="256.4" cy="167.9"/><circle cx="262.6" cy="151.3"/><circle cx="199.8" cy="158.6"/><circle cx="274.1" cy="137.6"/><circle cx="258.1" cy="146.3"/><circle cx="202.6" cy="199.5"/><circle cx="228.7" cy="182.7"/><circle cx="132.1" cy="91.9"/><circle cx="205.2" cy="188.4"/><circle cx="231.1" cy="143.9"/><circle cx="204.9" cy="149.1"/><circle cx="157.4" cy="118.7"/><circle cx="285.6" cy="164.5"/><circle cx="218.2" cy="142.9"/><circle cx="189.9" cy="170.2"/><circle cx="223.6" cy="149.4"/><circle cx="195.1" cy="164.8"/><circle cx="248.6" cy="140.5"/><circle cx="261.4" cy="151"/><circle cx="122.5" cy="125.8"/><circle cx="263.1" cy="157.3"/><circle cx="228.5" cy="176.8"/><circle cx="270.2" cy="162.6"/><circle cx="241" cy="138.5"/><circle cx="290.4" cy="123.3"/><circle cx="288.3" cy="174"/><circle cx="230.7" cy="129"/><circle cx="147.8" cy="126.2"/><circle cx="180.5" cy="128.5"/><circle cx="264.1" cy="154.6"/><circle cx="263.7" cy="106.2"/><circle cx="253.4" cy="142.8"/><circle cx="257" cy="143.2"/><circle cx="255.3" cy="168.6"/><circle cx="255.2" cy="174.1"/><circle cx="166.5" cy="130.7"/><circle cx="217.8" cy="134.3"/><circle cx="207.2" cy="171.1"/><circle cx="157.4" cy="108.2"/><circle cx="230.7" cy="140.7"/><circle cx="285.4" cy="99.2"/><circle cx="197.8" cy="127.2"/><circle cx="204.9" cy="137.5"/><circle cx="199.2" cy="173"/><circle cx="209.7" cy="176.2"/><circle cx="197.9" cy="162.4"/><circle cx="145.8" cy="99.3"/><circle cx="236.9" cy="118.2"/><circle cx="263.4" cy="178.8"/><circle cx="268.8" cy="145.1"/><circle cx="178" cy="163.9"/><circle cx="214.8" cy="137.4"/><circle cx="298.8" cy="135.2"/><circle cx="216.5" cy="168.3"/><circle cx="264.1" cy="154.2"/><circle cx="262.6" cy="132.5"/><circle cx="318.5" cy="93.1"/><circle cx="243.3" cy="164.8"/><circle cx="172.8" cy="146.7"/><circle cx="205.9" cy="181.6"/><circle cx="209.2" cy="166.2"/><circle cx="168.8" cy="140.5"/><circle cx="272.8" cy="159.1"/><circle cx="179.4" cy="199.8"/><circle cx="170.9" cy="168.6"/><circle cx="290.9" cy="135.8"/><circle cx="189" cy="158"/><circle cx="240" cy="170.4"/><circle cx="196.6" cy="169.1"/><circle cx="215.3" cy="177.2"/><circle cx="198.5" cy="119.7"/><circle cx="188.8" cy="171.4"/><circle cx="172.2" cy="147"/><circle cx="262.4" cy="159.3"/><circle cx="250.1" cy="165.4"/><circle cx="181.6" cy="152.6"/><circle cx="265.8" cy="177.7"/><circle cx="187.3" cy="110.2"/><circle cx="248.6" cy="125.8"/><circle cx="282.7" cy="130.7"/><circle cx="193.3" cy="132.7"/><circle cx="183.9" cy="161.5"/><circle cx="317.2" cy="131.1"/><circle cx="207.3" cy="127.5"/><circle cx="170.7" cy="157.3"/><circle cx="256.2" cy="178.8"/><circle cx="221.2" cy="165.8"/><circle cx="131" cy="112.9"/><circle cx="179.4" cy="165.5"/><circle cx="155.7" cy="153.1"/><circle cx="177.6" cy="141.2"/><circle cx="183.3" cy="159.8"/><circle cx="251.3" cy="171.9"/><circle cx="243.5" cy="198.2"/><circle cx="200.3" cy="180.8"/><circle cx="170.5" cy="172.4"/><circle cx="234.5" cy="125.1"/><circle cx="241.2" cy="127.8"/><circle cx="263.5" cy="160.9"/><circle cx="216.9" cy="148.9"/><circle cx="235" cy="187.6"/><circle cx="170.5" cy="119.7"/><circle cx="219" cy="131.7"/><circle cx="254.5" cy="162.8"/><circle cx="240.1" cy="125.2"/><circle cx="176.8" cy="149.4"/><circle cx="247.4" cy="155.2"/><circle cx="239.9" cy="162.9"/><circle cx="301" cy="130.4"/><circle cx="245.3" cy="180.6"/><circle cx="197.9" cy="205.4"/><circle cx="221.7" cy="139.9"/><circle cx="199.7" cy="133.6"/><circle cx="290.6" cy="141.1"/><circle cx="246.7" cy="219.7"/><circle cx="210.7" cy="133.9"/><circle cx="212.2" cy="188.8"/><circle cx="277.5" cy="181.2"/><circle cx="258.2" cy="127.7"/><circle cx="221.4" cy="173.2"/><circle cx="147.1" cy="151.2"/><circle cx="255.1" cy="126.3"/><circle cx="214.8" cy="174.1"/><circle cx="280.5" cy="155.2"/><circle cx="204" cy="137.5"/><circle cx="232.8" cy="126.3"/><circle cx="236" cy="175"/><circle cx="238.1" cy="136.3"/><circle cx="209.9" cy="145.6"/><circle cx="244.2" cy="171.8"/><circle cx="231.7" cy="123.8"/><circle cx="296.8" cy="143.8"/><circle cx="206.1" cy="166.1"/><circle cx="212.6" cy="118.4"/><circle cx="278.6" cy="124.1"/><circle cx="265.8" cy="185.7"/><circle cx="215.2" cy="143.8"/><circle cx="147" cy="115.7"/><circle cx="260.4" cy="127.6"/><circle cx="311.1" cy="132.9"/><circle cx="217" cy="116.9"/><circle cx="285.5" cy="145.3"/><circle cx="261.5" cy="139.2"/><circle cx="198.4" cy="194.7"/><circle cx="189.8" cy="159.7"/><circle cx="214.4" cy="164.7"/><circle cx="276.9" cy="155.4"/><circle cx="233.3" cy="135.3"/><circle cx="178.6" cy="140.9"/><circle cx="284.9" cy="149.9"/><circle cx="181.6" cy="145.5"/><circle cx="220.2" cy="189.5"/><circle cx="212.6" cy="188.1"/><circle cx="191.8" cy="115"/><circle cx="159.6" cy="155.5"/><circle cx="303.1" cy="144.6"/><circle cx="187.9" cy="141.2"/><circle cx="126.5" cy="90.6"/><circle cx="230.4" cy="157.9"/><circle cx="279.7" cy="169.6"/><circle cx="284.3" cy="143.1"/><circle cx="288.4" cy="117.1"/><circle cx="286" cy="115.3"/><circle cx="225.6" cy="174.5"/><circle cx="187.7" cy="179.2"/><circle cx="308.2" cy="116.3"/><circle cx="224.1" cy="164"/><circle cx="128.2" cy="93"/><circle cx="282.3" cy="151.1"/><circle cx="242.3" cy="140.7"/><circle cx="284.8" cy="168.4"/><circle cx="236.7" cy="172.3"/><circle cx="170.5" cy="111.4"/><circle cx="246.9" cy="164.2"/><circle cx="224.9" cy="138.7"/><circle cx="185.7" cy="166.4"/><circle cx="199.2" cy="138"/><circle cx="254.5" cy="152.7"/><circle cx="207.9" cy="164.5"/><circle cx="174.2" cy="131.7"/><circle cx="200.9" cy="163.9"/><circle cx="284.3" cy="131"/><circle cx="169" cy="134.2"/><circle cx="220.5" cy="119.5"/><circle cx="179.5" cy="156.6"/><circle cx="172.1" cy="136.7"/><circle cx="155.4" cy="143.5"/><circle cx="176.1" cy="127.5"/><circle cx="216.4" cy="162"/><circle cx="164" cy="179.4"/><circle cx="282.9" cy="144.4"/><circle cx="181.6" cy="132.8"/><circle cx="156.2" cy="135.4"/><circle cx="272.2" cy="168.3"/><circle cx="191" cy="136.2"/><circle cx="255.1" cy="127.2"/><circle cx="259.2" cy="173.8"/><circle cx="203.9" cy="183.3"/><circle cx="247.2" cy="131.1"/><circle cx="182.7" cy="190.8"/><circle cx="232.7" cy="156.8"/><circle cx="237.1" cy="164.2"/><circle cx="183" cy="169.8"/><circle cx="305" cy="126.5"/><circle cx="161.6" cy="149.9"/><circle cx="252.1" cy="130.3"/><circle cx="212.6" cy="138"/><circle cx="279" cy="126.6"/><circle cx="184.6" cy="131.8"/><circle cx="143.1" cy="108.1"/><circle cx="237.8" cy="163"/><circle cx="153.5" cy="160.3"/><circle cx="241.5" cy="192.9"/><circle cx="201.5" cy="147.2"/><circle cx="171.7" cy="167.7"/><circle cx="118.5" cy="123.1"/><circle cx="300.6" cy="139.2"/><circle cx="202" cy="165.4"/><circle cx="237.9" cy="108.3"/><circle cx="217.1" cy="157.5"/><circle cx="224.5" cy="132.6"/><circle cx="184.7" cy="118.3"/><circle cx="323.2" cy="89.4"/><circle cx="332.4" cy="106.1"/><circle cx="233.3" cy="138"/><circle cx="294" cy="142.8"/><circle cx="186.8" cy="173.7"/><circle cx="267.2" cy="143.1"/><circle cx="173.2" cy="148.5"/><circle cx="167.1" cy="158.1"/><circle cx="234.8" cy="141.5"/><circle cx="139.3" cy="125.1"/><circle cx="291.7" cy="157.3"/><circle cx="251.8" cy="163.2"/><circle cx="249" cy="177.7"/><circle cx="184.3" cy="133"/><circle cx="183" cy="149.5"/><circle cx="260.7" cy="142.3"/><circle cx="228.1" cy="184.6"/><circle cx="220.3" cy="161.3"/><circle cx="200.2" cy="130.8"/><circle cx="279.7" cy="127.1"/><circle cx="161.4" cy="156.9"/><circle cx="187.2" cy="137.8"/><circle cx="159.7" cy="166"/><circle cx="167.9" cy="163.4"/><circle cx="180.2" cy="155.5"/><circle cx="264.2" cy="170.1"/><circle cx="296.9" cy="160.1"/><circle cx="237" cy="177"/><circle cx="156" cy="132.6"/><circle cx="197.7" cy="177"/><circle cx="217.1" cy="177.6"/><circle cx="211.6" cy="119.5"/><circle cx="207.4" cy="143.5"/><circle cx="244" cy="162.6"/><circle cx="142.8" cy="107"/><circle cx="231.6" cy="158.9"/><circle cx="252.3" cy="124.3"/><circle cx="223.8" cy="156.5"/><circle cx="217.4" cy="180.8"/><circle cx="195.8" cy="152.8"/><circle cx="227" cy="149.8"/><circle cx="194.6" cy="140.8"/><circle cx="273.2" cy="123.8"/><circle cx="272.6" cy="148"/><circle cx="249.3" cy="154.4"/><circle cx="273.3" cy="128.1"/><circle cx="235.1" cy="181.3"/><circle cx="229.4" cy="139.7"/><circle cx="156.5" cy="167.8"/><circle cx="165.6" cy="151.3"/><circle cx="235.8" cy="122.6"/><circle cx="280.7" cy="156.7"/><circle cx="204.1" cy="161.5"/><circle cx="269.7" cy="143.7"/><circle cx="268.2" cy="141.9"/><circle cx="305.7" cy="139.6"/><circle cx="191.7" cy="149.2"/><circle cx="210.1" cy="164.4"/><circle cx="236" cy="160.2"/><circle cx="235.7" cy="194.7"/><circle cx="201.4" cy="154.6"/><circle cx="171.3" cy="114.9"/><circle cx="319.7" cy="131.3"/><circle cx="224.4" cy="127.8"/><circle cx="257.2" cy="150.7"/><circle cx="314.1" cy="105.3"/><circle cx="262.8" cy="159.2"/><circle cx="234.6" cy="125.6"/><circle cx="223.9" cy="168"/><circle cx="197.1" cy="174.7"/><circle cx="194.7" cy="157"/><circle cx="207.7" cy="139.9"/><circle cx="180.3" cy="133.4"/><circle cx="232.1" cy="163.6"/><circle cx="198.2" cy="164.9"/><circle cx="155.4" cy="150.2"/><circle cx="262.7" cy="130.7"/><circle cx="218.9" cy="182.2"/><circle cx="304.3" cy="111.8"/><circle cx="238.4" cy="156.6"/><circle cx="260.8" cy="129.5"/><circle cx="156.8" cy="175.6"/><circle cx="249.3" cy="147.6"/><circle cx="156.2" cy="152.8"/><circle cx="203" cy="186.7"/><circle cx="207.6" cy="177.7"/><circle cx="319" cy="152"/><circle cx="221.8" cy="146.4"/><circle cx="155.3" cy="121.4"/><circle cx="158.4" cy="166.4"/><circle cx="215.3" cy="123.2"/><circle cx="270.2" cy="153.1"/><circle cx="158.4" cy="174.1"/><circle cx="228.2" cy="149.4"/><circle cx="257.5" cy="136.6"/><circle cx="173.2" cy="163.4"/><circle cx="300.4" cy="130.4"/><circle cx="242.5" cy="155.2"/><circle cx="159.1" cy="133.8"/><circle cx="233" cy="127.9"/><circle cx="187.3" cy="162"/><circle cx="191.4" cy="177.9"/><circle cx="169.6" cy="129.1"/><circle cx="197.5" cy="130.5"/><circle cx="157.2" cy="137.2"/><circle cx="189" cy="138.1"/><circle cx="251" cy="135.3"/><circle cx="155.2" cy="164.5"/><circle cx="229.7" cy="170.3"/><circle cx="215.2" cy="132.6"/><circle cx="246" cy="187.2"/><circle cx="247.7" cy="147.8"/><circle cx="222.1" cy="135"/><circle cx="230.2" cy="156.8"/><circle cx="190.8" cy="119.3"/><circle cx="256.7" cy="179.6"/><circle cx="195.3" cy="131.9"/><circle cx="261.9" cy="153.7"/><circle cx="260.9" cy="168.4"/><circle cx="187.2" cy="107.9"/><circle cx="243" cy="125.9"/><circle cx="186.7" cy="151.9"/><circle cx="188.2" cy="148.6"/><circle cx="227.1" cy="152"/><circle cx="177.5" cy="141.5"/><circle cx="304.4" cy="139.4"/><circle cx="259.8" cy="155.1"/><circle cx="154.7" cy="123.9"/><circle cx="234.7" cy="142.4"/><circle cx="304.6" cy="127.6"/><circle cx="218.2" cy="150.9"/><circle cx="236.8" cy="169.7"/><circle cx="213.3" cy="173.7"/><circle cx="246.7" cy="121.3"/><circle cx="198.8" cy="170.1"/><circle cx="184" cy="153.9"/><circle cx="203.5" cy="184.7"/><circle cx="246.6" cy="179.4"/><circle cx="183.5" cy="162.3"/><circle cx="226.3" cy="190.9"/><circle cx="137.7" cy="111.2"/><circle cx="269.7" cy="152.3"/><circle cx="206.3" cy="178"/><circle cx="194.3" cy="174"/><circle cx="223" cy="176.6"/><circle cx="190.1" cy="185.1"/><circle cx="195.2" cy="168.9"/><circle cx="301.6" cy="138"/><circle cx="217.1" cy="178.2"/><circle cx="210.8" cy="131.4"/><circle cx="128.2" cy="80.3"/><circle cx="231.3" cy="130.2"/><circle cx="257.8" cy="145.8"/><circle cx="203.6" cy="132.8"/><circle cx="246.6" cy="173.3"/><circle cx="216" cy="206.2"/><circle cx="235.7" cy="148.2"/><circle cx="264" cy="169.5"/><circle cx="240.2" cy="162.2"/><circle cx="205.8" cy="173.3"/><circle cx="155.6" cy="133.5"/><circle cx="226.8" cy="144.1"/><circle cx="216.2" cy="160.9"/><circle cx="132.5" cy="142.9"/><circle cx="151.2" cy="137.3"/><circle cx="295.4" cy="122.2"/><circle cx="225.7" cy="143.3"/><circle cx="276.7" cy="150.4"/><circle cx="284.6" cy="149.8"/><circle cx="193.5" cy="138.8"/><circle cx="286.1" cy="151.4"/><circle cx="320" cy="143.7"/><circle cx="243" cy="143.4"/><circle cx="203.5" cy="155.1"/><circle cx="250.2" cy="121"/><circle cx="267" cy="180"/><circle cx="228" cy="145.8"/><circle cx="255.9" cy="134.6"/><circle cx="238.6" cy="135.9"/><circle cx="159.7" cy="110.6"/><circle cx="300.2" cy="160.5"/><circle cx="222" cy="176.9"/><circle cx="322.4" cy="87.9"/><circle cx="238.6" cy="134.9"/><circle cx="211" cy="139.6"/><circle cx="232.8" cy="173.4"/><circle cx="282.6" cy="135.8"/><circle cx="204.1" cy="130.2"/><circle cx="227.7" cy="149.5"/><circle cx="161" cy="172.4"/><circle cx="166.6" cy="148.8"/><circle cx="219" cy="149.2"/><circle cx="185.2" cy="144"/><circle cx="232.4" cy="174.3"/><circle cx="245.8" cy="185.8"/><circle cx="164.9" cy="96.6"/><circle cx="250" cy="199.9"/><circle cx="194.9" cy="101.8"/><circle cx="169.2" cy="133.7"/><circle cx="194.3" cy="142.5"/><circle cx="289.5" cy="117.8"/><circle cx="223.5" cy="134.3"/><circle cx="286.8" cy="158.7"/><circle cx="271.7" cy="152.3"/><circle cx="163.3" cy="125.1"/><circle cx="212.3" cy="185.1"/><circle cx="295" cy="160.8"/><circle cx="242.1" cy="176.6"/><circle cx="268.8" cy="180.5"/><circle cx="205.7" cy="174.8"/><circle cx="275.2" cy="173.6"/><circle cx="281.5" cy="134.8"/><circle cx="273.4" cy="127.8"/><circle cx="272.3" cy="160"/><circle cx="201.4" cy="159.4"/><circle cx="311.6" cy="101.5"/><circle cx="230" cy="153.2"/><circle cx="253.9" cy="111.6"/><circle cx="150.8" cy="141.9"/><circle cx="143.1" cy="131.7"/><circle cx="157.1" cy="120"/><circle cx="269" cy="163.2"/><circle cx="212.8" cy="169.7"/><circle cx="257.7" cy="138.5"/><circle cx="172.2" cy="151.1"/><circle cx="197.4" cy="126.5"/><circle cx="175.6" cy="137.6"/><circle cx="218.7" cy="143.4"/><circle cx="203.9" cy="132.5"/><circle cx="186.1" cy="152.2"/><circle cx="204.2" cy="182.5"/><circle cx="172.6" cy="154.8"/><circle cx="180.3" cy="148.8"/><circle cx="236.9" cy="133.4"/><circle cx="163.6" cy="134.5"/><circle cx="211.3" cy="173.4"/><circle cx="241.5" cy="148.9"/><circle cx="255.9" cy="194.4"/><circle cx="263.3" cy="120.4"/><circle cx="221.3" cy="162.9"/><circle cx="222.3" cy="183.9"/><circle cx="268.2" cy="121.4"/><circle cx="258.3" cy="175.8"/><circle cx="296.4" cy="146"/><circle cx="269.1" cy="166.6"/><circle cx="189.6" cy="167.8"/><circle cx="162.2" cy="127"/><circle cx="165.7" cy="175.4"/><circle cx="186.1" cy="171.8"/><circle cx="165.2" cy="152"/><circle cx="139.3" cy="112.1"/><circle cx="256" cy="164.7"/><circle cx="254.7" cy="154"/><circle cx="291.4" cy="136.2"/><circle cx="199.4" cy="167.2"/><circle cx="167.1" cy="127.1"/><circle cx="194.4" cy="151.2"/><circle cx="275" cy="138.1"/><circle cx="308.5" cy="142.9"/><circle cx="274.4" cy="162.7"/><circle cx="234.1" cy="137.3"/><circle cx="211.9" cy="130.2"/><circle cx="231.9" cy="169.7"/><circle cx="143.9" cy="114.5"/><circle cx="245.5" cy="166.7"/><circle cx="254" cy="147.7"/><circle cx="216.1" cy="131.3"/><circle cx="222.4" cy="118"/><circle cx="151.6" cy="140.3"/><circle cx="254" cy="128.7"/><circle cx="197.4" cy="185.9"/><circle cx="290.3" cy="135.5"/><circle cx="185.8" cy="125.1"/><circle cx="219.8" cy="145.8"/><circle cx="282.1" cy="192.2"/><circle cx="212.5" cy="142.9"/><circle cx="203.2" cy="139.3"/><circle cx="222.9" cy="150.1"/><circle cx="188.8" cy="149.9"/><circle cx="263.6" cy="173.1"/><circle cx="260.8" cy="173"/><circle cx="272.5" cy="154.6"/><circle cx="228.1" cy="181.8"/><circle cx="224.5" cy="188.1"/><circle cx="228.4" cy="183.7"/><circle cx="270.4" cy="128.6"/><circle cx="221.1" cy="155.9"/><circle cx="305" cy="124.3"/><circle cx="199" cy="145.7"/><circle cx="178" cy="126.8"/><circle cx="256.7" cy="133.4"/><circle cx="242.8" cy="156.8"/><circle cx="226.5" cy="164.8"/><circle cx="308.4" cy="135.8"/><circle cx="291.7" cy="160.9"/><circle cx="241.2" cy="170.8"/><circle cx="199.7" cy="173.5"/><circle cx="224.1" cy="133.9"/><circle cx="191.9" cy="181"/><circle cx="169.1" cy="146.5"/><circle cx="185.5" cy="134.5"/><circle cx="231.9" cy="179.7"/><circle cx="178.8" cy="188.3"/><circle cx="166.1" cy="163.9"/><circle cx="266.1" cy="130.7"/><circle cx="193.4" cy="145.5"/><circle cx="264.5" cy="162.4"/><circle cx="234.1" cy="177.2"/><circle cx="206.2" cy="134.5"/><circle cx="303.4" cy="148"/><circle cx="262.6" cy="177.6"/><circle cx="231.1" cy="124.5"/><circle cx="160" cy="128.5"/><circle cx="295.2" cy="112.8"/><circle cx="281.9" cy="157.7"/><circle cx="264.4" cy="144.7"/><circle cx="243.6" cy="152.8"/><circle cx="258.1" cy="108.4"/><circle cx="183.5" cy="156.9"/><circle cx="194.8" cy="159.5"/><circle cx="260.5" cy="166.4"/><circle cx="224.1" cy="166.1"/><circle cx="195.2" cy="178.5"/><circle cx="237.7" cy="146.1"/><circle cx="171.8" cy="146.8"/><circle cx="308.7" cy="138.8"/><circle cx="235.2" cy="173.6"/><circle cx="181.9" cy="162.4"/><circle cx="229.5" cy="172"/><circle cx="267.2" cy="151.8"/><circle cx="245" cy="149.7"/><circle cx="306.9" cy="140"/><circle cx="163.9" cy="147.5"/><circle cx="288.4" cy="134.8"/><circle cx="293.6" cy="151"/><circle cx="173" cy="169.6"/><circle cx="164.1" cy="159.1"/><circle cx="153.9" cy="136.8"/><circle cx="139.3" cy="142"/><circle cx="226.1" cy="129"/><circle cx="270.8" cy="182.5"/><circle cx="202.9" cy="149.1"/><circle cx="243.5" cy="190.3"/><circle cx="236.7" cy="167.9"/><circle cx="210.2" cy="181.7"/><circle cx="216.2" cy="132.2"/><circle cx="240.7" cy="162.6"/><circle cx="251.6" cy="129.7"/><circle cx="232.1" cy="142.6"/><circle cx="229.3" cy="124.1"/><circle cx="219.8" cy="156.3"/><circle cx="184.7" cy="175"/><circle cx="165.9" cy="161.6"/><circle cx="207.1" cy="133.9"/><circle cx="220" cy="173"/><circle cx="207.1" cy="185.4"/><circle cx="316.7" cy="133.5"/><circle cx="273.4" cy="129.5"/><circle cx="180.8" cy="145.3"/><circle cx="264.9" cy="166.4"/><circle cx="271.8" cy="133.8"/><circle cx="241.8" cy="191.3"/><circle cx="275.2" cy="109.9"/><circle cx="158.8" cy="150.3"/><circle cx="156.1" cy="165.2"/><circle cx="225.8" cy="144.1"/><circle cx="202.8" cy="168.5"/><circle cx="256.4" cy="176.4"/><circle cx="279.8" cy="130.1"/><circle cx="227.8" cy="154.9"/><circle cx="223.5" cy="142.7"/><circle cx="190.5" cy="178.5"/><circle cx="188.7" cy="174"/><circle cx="192.9" cy="143.2"/><circle cx="187.9" cy="145.1"/><circle cx="219.3" cy="171.7"/><circle cx="124" cy="77.2"/><circle cx="186.4" cy="158.9"/><circle cx="181.5" cy="154.2"/><circle cx="222" cy="151.9"/><circle cx="160.6" cy="156.2"/><circle cx="194.5" cy="160"/><circle cx="316.8" cy="136.7"/><circle cx="165.4" cy="170.5"/><circle cx="230.4" cy="190.2"/><circle cx="172" cy="145.8"/><circle cx="142.3" cy="114.6"/><circle cx="181.4" cy="169.2"/><circle cx="211.8" cy="156.9"/><circle cx="269.3" cy="152.3"/><circle cx="207.5" cy="137.8"/><circle cx="299.1" cy="126.4"/><circle cx="219.7" cy="173.9"/><circle cx="209.2" cy="153.4"/><circle cx="207.4" cy="126"/><circle cx="261.6" cy="166.2"/><circle cx="196.6" cy="146.4"/><circle cx="186.1" cy="127.5"/><circle cx="134.4" cy="85.1"/><circle cx="241.2" cy="179.5"/><circle cx="168.9" cy="181.6"/><circle cx="238.3" cy="184.3"/><circle cx="140" cy="86.4"/><circle cx="179.9" cy="149.5"/><circle cx="261.7" cy="154.7"/><circle cx="233.8" cy="200.6"/><circle cx="158.5" cy="145.8"/><circle cx="281.4" cy="168.9"/><circle cx="200.1" cy="106.3"/><circle cx="185.9" cy="138.7"/><circle cx="186.2" cy="182.4"/><circle cx="205.1" cy="149.8"/><circle cx="260.1" cy="134.7"/><circle cx="178.9" cy="135.4"/><circle cx="136.3" cy="141.1"/><circle cx="257" cy="140.4"/><circle cx="243" cy="167.4"/><circle cx="243.9" cy="150.3"/><circle cx="177.1" cy="130.3"/><circle cx="201.5" cy="185.4"/><circle cx="223" cy="144.2"/><circle cx="180.2" cy="161"/><circle cx="176.9" cy="117.7"/><circle cx="194.5" cy="182"/><circle cx="264.7" cy="123.9"/><circle cx="313.8" cy="118.6"/><circle cx="246.1" cy="157.5"/><circle cx="288.8" cy="141.5"/><circle cx="247.5" cy="173.4"/><circle cx="198.8" cy="162.4"/><circle cx="285" cy="143.6"/><circle cx="212.4" cy="158.7"/><circle cx="228.7" cy="124.7"/><circle cx="133.6" cy="125.1"/><circle cx="311.9" cy="130.4"/><circle cx="253.5" cy="164.5"/><circle cx="189.5" cy="147.4"/><circle cx="151.6" cy="154.8"/><circle cx="186.1" cy="136.4"/><circle cx="239.8" cy="164.9"/><circle cx="301.6" cy="132.9"/><circle cx="231.2" cy="121.7"/><circle cx="234.6" cy="162.6"/><circle cx="196.9" cy="132.7"/><circle cx="212.5" cy="115"/><circle cx="236.2" cy="170.1"/><circle cx="270.8" cy="130"/><circle cx="253.9" cy="168.9"/><circle cx="212.2" cy="140.6"/><circle cx="273.8" cy="138.3"/><circle cx="208" cy="143.3"/><circle cx="288.6" cy="163.8"/><circle cx="174.6" cy="156.1"/><circle cx="294.4" cy="125.4"/><circle cx="222.5" cy="141.5"/><circle cx="317" cy="110.7"/><circle cx="272.3" cy="128"/><circle cx="227.1" cy="137.7"/><circle cx="208.1" cy="162.8"/><circle cx="175.9" cy="127.4"/><circle cx="174.6" cy="142.2"/><circle cx="240.8" cy="160"/><circle cx="277.5" cy="152.7"/><circle cx="232.6" cy="152.1"/><circle cx="228.2" cy="168.5"/><circle cx="188.5" cy="153.3"/><circle cx="273" cy="160.6"/><circle cx="269.7" cy="137.3"/><circle cx="178.4" cy="133.3"/><circle cx="164.6" cy="171.1"/><circle cx="293" cy="138.2"/><circle cx="275.4" cy="175.2"/><circle cx="239.7" cy="148.6"/><circle cx="285" cy="122.3"/><circle cx="205.5" cy="156.6"/><circle cx="238.1" cy="153.5"/><circle cx="282.4" cy="99.1"/><circle cx="239.2" cy="180"/><circle cx="274.4" cy="145.2"/><circle cx="283.8" cy="137.7"/><circle cx="191.3" cy="174.6"/><circle cx="272.6" cy="133.7"/><circle cx="162.2" cy="166.2"/><circle cx="218.3" cy="135.6"/><circle cx="279.2" cy="170.7"/><circle cx="213.3" cy="136.9"/><circle cx="260.2" cy="198.6"/><circle cx="174.9" cy="144.4"/><circle cx="309.5" cy="121.4"/><circle cx="244.4" cy="167.4"/><circle cx="208.7" cy="130.8"/><circle cx="227.8" cy="114.1"/><circle cx="173.4" cy="166.9"/><circle cx="152.7" cy="128.9"/><circle cx="280.2" cy="163"/><circle cx="176.8" cy="141"/><circle cx="192.9" cy="156.4"/><circle cx="190.3" cy="168.8"/><circle cx="214.7" cy="172.8"/><circle cx="282" cy="159.3"/><circle cx="203.9" cy="177.2"/><circle cx="220.1" cy="143.9"/><circle cx="208.7" cy="133.3"/><circle cx="268.7" cy="131.5"/><circle cx="273.4" cy="134.4"/><circle cx="276.8" cy="155"/><circle cx="165.7" cy="139.6"/><circle cx="175.2" cy="162.4"/><circle cx="148.4" cy="118.5"/><circle cx="247.3" cy="128.1"/><circle cx="280" cy="165.6"/><circle cx="294.1" cy="156"/><circle cx="197" cy="159"/><circle cx="232.3" cy="132.5"/><circle cx="150.5" cy="147.3"/><circle cx="214.8" cy="188.1"/><circle cx="217.7" cy="171.3"/><circle cx="218.8" cy="166.8"/><circle cx="288.4" cy="153.6"/><circle cx="265.9" cy="138.2"/><circle cx="290.9" cy="152.2"/><circle cx="177.8" cy="153"/><circle cx="250.1" cy="148.7"/><circle cx="277" cy="137.1"/><circle cx="212.4" cy="153.3"/><circle cx="213.3" cy="151.8"/><circle cx="195.1" cy="186.1"/><circle cx="229.5" cy="184.6"/><circle cx="210.4" cy="159.3"/><circle cx="183.4" cy="163"/><circle cx="204.7" cy="168"/><circle cx="272.7" cy="153.5"/><circle cx="120.7" cy="105.3"/><circle cx="182.5" cy="182.7"/><circle cx="210.9" cy="179.5"/><circle cx="297.6" cy="130.1"/><circle cx="159.8" cy="153.8"/><circle cx="173.3" cy="158.4"/><circle cx="218.5" cy="139.2"/><circle cx="202" cy="145.1"/><circle cx="243.3" cy="159.9"/><circle cx="236.3" cy="157"/><circle cx="207.1" cy="166.1"/><circle cx="214.3" cy="178.4"/><circle cx="333.8" cy="149"/><circle cx="230.6" cy="164.3"/><circle cx="276.4" cy="124.9"/><circle cx="169.3" cy="160.4"/><circle cx="231.1" cy="150.2"/><circle cx="235.9" cy="166"/><circle cx="227.3" cy="167.8"/><circle cx="131.8" cy="123"/><circle cx="203.7" cy="134.4"/><circle cx="281" cy="165.2"/><circle cx="257" cy="155.4"/><circle cx="143.8" cy="140.9"/><circle cx="235.2" cy="184.6"/><circle cx="195.7" cy="117.2"/><circle cx="179" cy="165.4"/><circle cx="152.6" cy="160.8"/><circle cx="211.8" cy="145.2"/><circle cx="292.2" cy="144.9"/><circle cx="256.5" cy="170.7"/><circle cx="237.8" cy="142.1"/><circle cx="196.6" cy="171.2"/><circle cx="100.9" cy="84.3"/><circle cx="200.9" cy="115.7"/><circle cx="217.8" cy="124.7"/><circle cx="213.5" cy="162.6"/><circle cx="256.2" cy="177"/><circle cx="225" cy="141.2"/><circle cx="255.2" cy="122"/><circle cx="239.1" cy="134.2"/><circle cx="195.3" cy="146.3"/><circle cx="166.4" cy="154.2"/><circle cx="222" cy="185.4"/><circle cx="235.5" cy="178.8"/><circle cx="208.5" cy="171"/><circle cx="213.1" cy="185.6"/><circle cx="278.2" cy="163.5"/><circle cx="202.3" cy="181.1"/><circle cx="256.5" cy="160.7"/><circle cx="145" cy="115.4"/><circle cx="301.1" cy="136"/><circle cx="267.4" cy="150"/><circle cx="168.8" cy="170.1"/><circle cx="267.6" cy="147.5"/><circle cx="203.1" cy="149.9"/><circle cx="215.3" cy="155.9"/><circle cx="180" cy="162.1"/><circle cx="186.8" cy="180.9"/><circle cx="204.7" cy="141.8"/><circle cx="224.3" cy="156.8"/><circle cx="175" cy="140.5"/><circle cx="191.6" cy="151.6"/><circle cx="184.4" cy="153.5"/><circle cx="195" cy="122.6"/><circle cx="286.6" cy="139.8"/><circle cx="154.3" cy="161.8"/><circle cx="166.7" cy="105.2"/><circle cx="200.2" cy="144.3"/><circle cx="237.4" cy="182.8"/><circle cx="172.5" cy="119.1"/><circle cx="259.6" cy="130.8"/><circle cx="243.8" cy="145.7"/><circle cx="227.6" cy="161.8"/><circle cx="181.3" cy="167.3"/><circle cx="272.6" cy="154.8"/><circle cx="251.4" cy="183.7"/><circle cx="297.1" cy="127.1"/><circle cx="255.1" cy="143.1"/><circle cx="262.8" cy="156.7"/><circle cx="202.3" cy="140.4"/><circle cx="297.1" cy="134.3"/><circle cx="201.8" cy="158.9"/><circle cx="249.1" cy="208.2"/><circle cx="224.2" cy="160"/><circle cx="283" cy="145.4"/><circle cx="191.8" cy="154.4"/><circle cx="240.5" cy="172.6"/><circle cx="203.8" cy="154.3"/><circle cx="164.7" cy="134.4"/><circle cx="203.3" cy="184.1"/><circle cx="210.8" cy="179.2"/><circle cx="243.5" cy="164.3"/><circle cx="246.7" cy="136.4"/><circle cx="183.2" cy="177.9"/><circle cx="206.5" cy="183.8"/><circle cx="210.5" cy="180.3"/><circle cx="195.7" cy="184"/><circle cx="287.4" cy="128.6"/><circle cx="259.7" cy="172.5"/><circle cx="213.4" cy="194.8"/><circle cx="161.2" cy="158.3"/><circle cx="244.7" cy="111.6"/><circle cx="140" cy="129.9"/><circle cx="322.7" cy="130"/><circle cx="217.2" cy="153.1"/><circle cx="218.3" cy="139"/><circle cx="246.6" cy="179.9"/><circle cx="161.6" cy="137.8"/><circle cx="220.2" cy="164.7"/><circle cx="249.8" cy="131.9"/><circle cx="178.9" cy="115.4"/><circle cx="246.3" cy="175"/><circle cx="269.6" cy="157.8"/><circle cx="147.4" cy="114.2"/><circle cx="197" cy="137.1"/><circle cx="241.4" cy="158.6"/><circle cx="282.5" cy="145.1"/><circle cx="270.1" cy="191.3"/><circle cx="201.2" cy="145.9"/><circle cx="203" cy="168.1"/><circle cx="157.4" cy="139.5"/><circle cx="193" cy="187.9"/><circle cx="174.1" cy="142.8"/><circle cx="248.5" cy="182.3"/><circle cx="283.1" cy="165"/><circle cx="265.4" cy="148.3"/><circle cx="150.8" cy="137.4"/><circle cx="292.7" cy="140.7"/><circle cx="161.4" cy="157.2"/><circle cx="262.1" cy="169.7"/><circle cx="274.9" cy="168.5"/><circle cx="230" cy="143.6"/><circle cx="244.1" cy="193"/><circle cx="164.5" cy="167.7"/><circle cx="174.1" cy="120.6"/><circle cx="269.5" cy="170"/><circle cx="188.9" cy="173.2"/><circle cx="193.8" cy="166"/><circle cx="152.4" cy="130.9"/><circle cx="270" cy="142.3"/><circle cx="283.2" cy="151.1"/><circle cx="198" cy="140.2"/><circle cx="222.9" cy="165.2"/><circle cx="249.6" cy="181.8"/><circle cx="229.7" cy="173"/><circle cx="317.4" cy="119.3"/><circle cx="203.6" cy="127.6"/><circle cx="257.4" cy="122.1"/><circle cx="198.9" cy="175.3"/><circle cx="279.6" cy="133.7"/><circle cx="210.3" cy="158.5"/><circle cx="180.4" cy="127.2"/><circle cx="252.1" cy="143.8"/><circle cx="205.3" cy="159.9"/><circle cx="211.8" cy="120.5"/><circle cx="242.5" cy="145.5"/><circle cx="234.7" cy="145.1"/><circle cx="289.8" cy="126.4"/><circle cx="280.2" cy="106.4"/><circle cx="162.8" cy="136.2"/><circle cx="283.1" cy="158.7"/><circle cx="148" cy="148.7"/><circle cx="242.2" cy="183"/><circle cx="144.4" cy="131.7"/><circle cx="232.6" cy="197.1"/><circle cx="210.2" cy="211.1"/><circle cx="142.5" cy="131.9"/><circle cx="270.7" cy="145.7"/><circle cx="219.5" cy="121.3"/><circle cx="217.1" cy="184.3"/><circle cx="282.7" cy="155.3"/><circle cx="268.2" cy="118.9"/><circle cx="162" cy="126.6"/><circle cx="159.4" cy="157.1"/><circle cx="280.1" cy="166.8"/><circle cx="187.5" cy="113"/><circle cx="215.9" cy="115.1"/><circle cx="250.7" cy="148.2"/><circle cx="247.5" cy="135.9"/><circle cx="291.8" cy="151.7"/><circle cx="262.4" cy="145.1"/><circle cx="226.6" cy="173.3"/><circle cx="231.5" cy="211"/><circle cx="303.5" cy="123.1"/><circle cx="119.9" cy="99.8"/><circle cx="300.6" cy="147.8"/><circle cx="209.1" cy="177.3"/><circle cx="176.7" cy="137.7"/><circle cx="301.1" cy="138.5"/><circle cx="276.9" cy="142.5"/><circle cx="245" cy="151.9"/><circle cx="250.8" cy="122"/><circle cx="189.1" cy="133.2"/><circle cx="226.6" cy="176.9"/><circle cx="189.8" cy="137.5"/><circle cx="194" cy="137.3"/><circle cx="268.7" cy="150.8"/><circle cx="200.5" cy="151.7"/><circle cx="212.7" cy="166.9"/><circle cx="129.5" cy="98.1"/><circle cx="180.9" cy="173.2"/><circle cx="323.1" cy="119.9"/><circle cx="205.1" cy="160.6"/><circle cx="154.4" cy="123.5"/><circle cx="220.4" cy="116.1"/><circle cx="199.8" cy="151.9"/><circle cx="208.4" cy="141"/><circle cx="201.1" cy="157.7"/><circle cx="259.5" cy="162.8"/><circle cx="229.6" cy="123.8"/><circle cx="183.6" cy="145"/><circle cx="314.6" cy="130.3"/><circle cx="223" cy="129.6"/><circle cx="253.3" cy="152.4"/><circle cx="154.4" cy="168.7"/><circle cx="244.8" cy="142.8"/><circle cx="312.6" cy="132.9"/><circle cx="256" cy="158.9"/><circle cx="183.4" cy="123.8"/><circle cx="254.3" cy="121.5"/><circle cx="189.9" cy="129.7"/><circle cx="203.8" cy="152.8"/><circle cx="301.8" cy="118.1"/><circle cx="198.2" cy="131.5"/><circle cx="142" cy="103.5"/><circle cx="228.2" cy="148.8"/><circle cx="250.6" cy="137.7"/><circle cx="232.8" cy="153.4"/><circle cx="280.5" cy="118.7"/><circle cx="260.6" cy="116"/><circle cx="258.9" cy="139.5"/><circle cx="206.5" cy="119.2"/><circle cx="163.5" cy="126.9"/><circle cx="291.4" cy="142.4"/><circle cx="277.9" cy="181.2"/><circle cx="273.5" cy="171.1"/><circle cx="176.2" cy="161"/><circle cx="242.4" cy="203.9"/><circle cx="265.3" cy="135.2"/><circle cx="185.3" cy="141.6"/><circle cx="212.9" cy="132.1"/><circle cx="174.4" cy="141.4"/><circle cx="228.7" cy="162.1"/><circle cx="140.4" cy="103.2"/><circle cx="241.3" cy="130.9"/><circle cx="207.9" cy="148.6"/><circle cx="169" cy="152.7"/><circle cx="254" cy="154.3"/><circle cx="236.8" cy="154.6"/><circle cx="236.6" cy="151.2"/><circle cx="221.4" cy="198.3"/><circle cx="238.9" cy="108.4"/><circle cx="290" cy="155.2"/><circle cx="231.6" cy="145.2"/><circle cx="233.9" cy="137"/><circle cx="205.3" cy="131.3"/><circle cx="251.5" cy="184.7"/><circle cx="214.2" cy="126"/><circle cx="217.2" cy="161.6"/><circle cx="188" cy="197.2"/><circle cx="194.7" cy="168.8"/><circle cx="179.3" cy="122.4"/><circle cx="284.1" cy="152.1"/><circle cx="248.6" cy="166.8"/><circle cx="167.6" cy="139.4"/><circle cx="272.8" cy="128.6"/><circle cx="208.8" cy="158.2"/><circle cx="208.2" cy="182.1"/><circle cx="213.6" cy="114.6"/><circle cx="161.6" cy="135.7"/><circle cx="205.8" cy="184.7"/><circle cx="213.2" cy="136.9"/><circle cx="136" cy="143.8"/><circle cx="250" cy="160.2"/><circle cx="219.3" cy="177.1"/><circle cx="240.1" cy="142.6"/><circle cx="249.6" cy="170.3"/><circle cx="263.2" cy="140.5"/><circle cx="224.8" cy="175.9"/><circle cx="228.5" cy="178"/><circle cx="252" cy="148.4"/><circle cx="250.3" cy="181"/><circle cx="164.3" cy="125.8"/><circle cx="127.5" cy="92.3"/><circle cx="199.5" cy="128.6"/><circle cx="157.2" cy="122.6"/><circle cx="260.5" cy="146"/><circle cx="283.3" cy="161.7"/><circle cx="173.8" cy="160"/><circle cx="181.8" cy="150.3"/><circle cx="192.7" cy="162.1"/><circle cx="187.7" cy="167.2"/><circle cx="215.5" cy="111.1"/><circle cx="174" cy="131.7"/><circle cx="263.4" cy="153.7"/><circle cx="215.9" cy="180.7"/><circle cx="256.9" cy="186.4"/><circle cx="282.1" cy="125.1"/><circle cx="241.7" cy="147.7"/><circle cx="247" cy="142.5"/><circle cx="220.5" cy="211.8"/><circle cx="314.5" cy="117.3"/><circle cx="276.9" cy="172.7"/><circle cx="221.8" cy="177.9"/><circle cx="265.2" cy="186.2"/><circle cx="135.1" cy="96.8"/><circle cx="230.3" cy="167.6"/><circle cx="165.4" cy="159.4"/><circle cx="278.8" cy="155.1"/><circle cx="160.6" cy="132.8"/><circle cx="257.8" cy="137.7"/><circle cx="288.4" cy="108.2"/><circle cx="248.3" cy="136.3"/><circle cx="236.1" cy="174.2"/><circle cx="172.2" cy="152.6"/><circle cx="218.5" cy="132"/><circle cx="260.7" cy="136.6"/><circle cx="234.8" cy="184.9"/><circle cx="284.8" cy="160.3"/><circle cx="295.1" cy="178.5"/><circle cx="250" cy="153.9"/><circle cx="162.1" cy="125.5"/><circle cx="181.6" cy="151.8"/><circle cx="224.5" cy="169.7"/><circle cx="271.2" cy="160.8"/><circle cx="235.9" cy="158.2"/><circle cx="231.7" cy="168.7"/><circle cx="261.8" cy="150.1"/><circle cx="171.9" cy="187.6"/><circle cx="196.5" cy="151.2"/><circle cx="267.5" cy="163.2"/><circle cx="192.7" cy="146.5"/><circle cx="289.3" cy="162.1"/><circle cx="306.9" cy="112.1"/><circle cx="134.6" cy="116.4"/><circle cx="156.6" cy="125.9"/><circle cx="274.1" cy="141.9"/><circle cx="186.7" cy="183.9"/><circle cx="249" cy="135.9"/><circle cx="236" cy="164.9"/><circle cx="184.2" cy="167.4"/><circle cx="159.7" cy="149.4"/><circle cx="269.4" cy="120.8"/><circle cx="282.3" cy="131.5"/><circle cx="221.8" cy="186.1"/><circle cx="180.6" cy="134.5"/><circle cx="242.4" cy="117.7"/><circle cx="189" cy="142.4"/><circle cx="152.9" cy="165.2"/><circle cx="196.8" cy="179.9"/><circle cx="155.3" cy="132.2"/><circle cx="256.6" cy="177.8"/><circle cx="246.7" cy="146.8"/><circle cx="307.2" cy="132.4"/><circle cx="270.1" cy="166.8"/><circle cx="138.3" cy="135"/><circle cx="274" cy="151.6"/><circle cx="212" cy="145.5"/><circle cx="283.1" cy="165"/><circle cx="185" cy="145.5"/><circle cx="294.5" cy="131"/><circle cx="221.6" cy="191.3"/><circle cx="305.5" cy="119.2"/><circle cx="208.7" cy="172.1"/><circle cx="148.6" cy="130.5"/><circle cx="281.4" cy="144.8"/><circle cx="209.3" cy="166.1"/><circle cx="292.6" cy="145.7"/><circle cx="214.9" cy="140.2"/><circle cx="303.2" cy="126.3"/><circle cx="130.7" cy="113"/><circle cx="319.8" cy="109.4"/><circle cx="137.3" cy="118.2"/><circle cx="173.2" cy="133.2"/><circle cx="236.7" cy="189.2"/><circle cx="214.1" cy="169.5"/><circle cx="250" cy="159.5"/><circle cx="264" cy="164.2"/><circle cx="275.5" cy="148.7"/><circle cx="149.8" cy="156.5"/><circle cx="178" cy="144.3"/><circle cx="165.2" cy="127.7"/><circle cx="261.6" cy="165.1"/><circle cx="204.9" cy="163.2"/><circle cx="195.8" cy="139.6"/><circle cx="172.1" cy="157.7"/><circle cx="251.6" cy="190.8"/><circle cx="271.3" cy="174.9"/><circle cx="205.6" cy="145.4"/><circle cx="221.7" cy="186.2"/><circle cx="242.3" cy="174.2"/><circle cx="128.6" cy="86"/><circle cx="199.8" cy="155.1"/><circle cx="257.3" cy="141.5"/><circle cx="184.1" cy="137.7"/><circle cx="276.7" cy="132.9"/><circle cx="282.9" cy="171.9"/><circle cx="182.8" cy="173.7"/><circle cx="278.9" cy="138.8"/><circle cx="153.3" cy="173.9"/><circle cx="178.3" cy="172.8"/><circle cx="153.8" cy="137.1"/><circle cx="238.1" cy="181.6"/><circle cx="235" cy="142.4"/><circle cx="163.4" cy="195.6"/><circle cx="273.1" cy="135.6"/><circle cx="296" cy="172.9"/><circle cx="228.1" cy="153"/><circle cx="237.9" cy="138.1"/><circle cx="258.5" cy="150.6"/><circle cx="308.6" cy="149.4"/><circle cx="252.1" cy="161.2"/><circle cx="181.1" cy="137.1"/><circle cx="310.4" cy="120.3"/><circle cx="307.5" cy="122.8"/><circle cx="216.1" cy="158.3"/><circle cx="184.5" cy="134.1"/><circle cx="164.3" cy="144.7"/><circle cx="148.8" cy="143"/><circle cx="217.7" cy="193.3"/><circle cx="169.7" cy="148.6"/><circle cx="166.8" cy="137"/><circle cx="172.4" cy="116.9"/><circle cx="246.4" cy="161.1"/><circle cx="147.7" cy="132.9"/><circle cx="207.3" cy="115.6"/><circle cx="258.5" cy="161.9"/><circle cx="205" cy="172.8"/><circle cx="275" cy="139.6"/><circle cx="319.9" cy="152.9"/><circle cx="241.4" cy="153.5"/><circle cx="288.7" cy="153.9"/><circle cx="264.4" cy="175.8"/><circle cx="242.1" cy="141.4"/><circle cx="214.1" cy="147"/><circle cx="310.6" cy="92.2"/><circle cx="190.8" cy="162.2"/><circle cx="202.7" cy="123.4"/><circle cx="256.8" cy="130.3"/><circle cx="196.8" cy="172.2"/><circle cx="262.7" cy="132.9"/><circle cx="294.6" cy="146.7"/><circle cx="168.9" cy="138.2"/><circle cx="200.9" cy="174.5"/><circle cx="216.8" cy="134.5"/><circle cx="240.8" cy="130.6"/><circle cx="166.9" cy="167.7"/><circle cx="199.8" cy="126.8"/><circle cx="279" cy="150.3"/><circle cx="262.6" cy="133"/><circle cx="244.9" cy="134"/><circle cx="278.4" cy="127.3"/><circle cx="220.8" cy="148.9"/><circle cx="167.3" cy="111"/><circle cx="189.7" cy="163.7"/><circle cx="211.3" cy="150.4"/><circle cx="182.4" cy="116.3"/><circle cx="251.3" cy="165.4"/><circle cx="177.2" cy="159.7"/><circle cx="263.6" cy="137.7"/><circle cx="177.3" cy="136.6"/><circle cx="180.7" cy="131.7"/><circle cx="252.1" cy="175.4"/><circle cx="223.8" cy="170.9"/><circle cx="232.4" cy="174.1"/><circle cx="266.1" cy="168.5"/><circle cx="186.8" cy="159.3"/><circle cx="164.1" cy="144"/><circle cx="271.2" cy="170.8"/><circle cx="292.7" cy="124.2"/><circle cx="221.5" cy="184.1"/><circle cx="147.5" cy="130.3"/><circle cx="66.7" cy="54.7"/><circle cx="76.3" cy="54.7"/><circle cx="70.5" cy="76.9"/><circle cx="77.9" cy="83.2"/><circle cx="87.8" cy="85.8"/><circle cx="91.1" cy="92.5"/><circle cx="109.2" cy="52.6"/><circle cx="96.8" cy="71.1"/><circle cx="108.4" cy="74.7"/><circle cx="101.3" cy="86.8"/><circle cx="120.7" cy="82.2"/><circle cx="286.7" cy="81.4"/><circle cx="347.7" cy="96.9"/><circle cx="331.3" cy="91.2"/><circle cx="342" cy="125.4"/><circle cx="240" cy="209"/><circle cx="182.4" cy="205.4"/><circle cx="106.7" cy="120"/></g>
<rect x="51.2" y="10.9" width="325.3" height="233.1" fill="none" stroke="#444" stroke-width="1.5"/>
<path d="M58.2 244v4M99.3 244v4M140.4 244v4M181.6 244v4M222.7 244v4M263.8 244v4M305 244v4M346.1 244v4" stroke="#444" stroke-width="1.0"/>
<text x="58.2" y="260.8" font-size="12.1" text-anchor="middle" fill="#262626" >−20</text>
<text x="99.3" y="260.8" font-size="12.1" text-anchor="middle" fill="#262626" >−15</text>
<text x="140.4" y="260.8" font-size="12.1" text-anchor="middle" fill="#262626" >−10</text>
<text x="181.6" y="260.8" font-size="12.1" text-anchor="middle" fill="#262626" >−5</text>
<text x="222.7" y="260.8" font-size="12.1" text-anchor="middle" fill="#262626" >0</text>
<text x="263.8" y="260.8" font-size="12.1" text-anchor="middle" fill="#262626" >5</text>
<text x="305" y="260.8" font-size="12.1" text-anchor="middle" fill="#262626" >10</text>
<text x="346.1" y="260.8" font-size="12.1" text-anchor="middle" fill="#262626" >15</text>
<path d="M51.2 219.4h-4M51.2 186.7h-4M51.2 154h-4M51.2 121.3h-4M51.2 88.6h-4M51.2 55.8h-4M51.2 23.1h-4" stroke="#444" stroke-width="1.0"/>
<text x="42.9" y="225.3" font-size="12.1" text-anchor="end" fill="#262626" >−4</text>
<text x="42.9" y="192.6" font-size="12.1" text-anchor="end" fill="#262626" >−2</text>
<text x="42.9" y="159.9" font-size="12.1" text-anchor="end" fill="#262626" >0</text>
<text x="42.9" y="127.2" font-size="12.1" text-anchor="end" fill="#262626" >2</text>
<text x="42.9" y="94.5" font-size="12.1" text-anchor="end" fill="#262626" >4</text>
<text x="42.9" y="61.7" font-size="12.1" text-anchor="end" fill="#262626" >6</text>
<text x="42.9" y="29" font-size="12.1" text-anchor="end" fill="#262626" >8</text>
<text x="213.8" y="276.7" font-size="11.5" text-anchor="middle" fill="#262626" >x_1</text>
<text x="20" y="129.9" font-size="11.5" text-anchor="middle" fill="#262626" transform="rotate(-90 20 129.9)">x_2</text>
<rect x="118.5" y="18.9" width="249.8" height="56.8" rx="2.5" fill="#fff" fill-opacity="0.8" stroke="#d0d0d0" stroke-width="1"/>
<circle cx="138.7" cy="32.2" r="3.8" fill="#ff7f0e" fill-opacity="0.7"/>
<text x="167.4" y="36.7" font-size="14.5" text-anchor="start" fill="#262626" textLength="97.4" lengthAdjust="spacingAndGlyphs" >True samples</text>
<circle cx="138.7" cy="59.9" r="3.8" fill="#1f77b4" fill-opacity="0.7"/>
<text x="167.4" y="63" font-size="14.5" text-anchor="start" fill="#262626" textLength="194" lengthAdjust="spacingAndGlyphs" >Flex<tspan font-size="10" dy="-6">2</tspan><tspan dy="6">MCMC, 5 MALA steps</tspan></text>
<g fill="#ff7f0e" fill-opacity=".7"><circle cx="669.2" cy="145.2"/><circle cx="591.9" cy="195.7"/><circle cx="644.1" cy="178"/><circle cx="537.9" cy="146.1"/><circle cx="677.7" cy="130"/><circle cx="641.4" cy="129.1"/><circle cx="551.5" cy="130.6"/><circle cx="586" cy="162.9"/><circle cx="534.9" cy="126.1"/><circle cx="580.2" cy="158.5"/><circle cx="564.6" cy="179.6"/><circle cx="552.4" cy="150.9"/><circle cx="615" cy="134"/><circle cx="650.2" cy="178.2"/><circle cx="629.3" cy="180.8"/><circle cx="580.2" cy="163.7"/><circle cx="658.5" cy="144"/><circle cx="560.9" cy="136.6"/><circle cx="579.2" cy="142.3"/><circle cx="542.5" cy="136"/><circle cx="670.2" cy="125.9"/><circle cx="647.2" cy="164"/><circle cx="559" cy="168.3"/><circle cx="541.1" cy="130.2"/><circle cx="645.5" cy="196.6"/><circle cx="577.6" cy="120.2"/><circle cx="638" cy="136.7"/><circle cx="609.2" cy="198"/><circle cx="658" cy="122.8"/><circle cx="638.3" cy="171"/><circle cx="665.1" cy="184.6"/><circle cx="686.8" cy="151.7"/><circle cx="549.1" cy="171.7"/><circle cx="649.7" cy="175.5"/><circle cx="665" cy="152.3"/><circle cx="666.8" cy="141"/><circle cx="548" cy="159.8"/><circle cx="601.1" cy="155.6"/><circle cx="559.9" cy="158.8"/><circle cx="675.5" cy="123.9"/><circle cx="696.4" cy="119.8"/><circle cx="540.7" cy="119.6"/><circle cx="678.2" cy="141.4"/><circle cx="612.8" cy="181.5"/><circle cx="629.4" cy="112.4"/><circle cx="609.7" cy="186.5"/><circle cx="560.9" cy="162.4"/><circle cx="593.6" cy="181.4"/><circle cx="662.9" cy="101.2"/><circle cx="605.7" cy="112.5"/><circle cx="554.5" cy="147.9"/><circle cx="668.1" cy="149.5"/><circle cx="699.8" cy="112.1"/><circle cx="554.2" cy="167.2"/><circle cx="667.7" cy="154"/><circle cx="718.7" cy="94.6"/><circle cx="579.9" cy="151.3"/><circle cx="587" cy="183.2"/><circle cx="579.5" cy="135.2"/><circle cx="602.4" cy="197.2"/><circle cx="599.2" cy="127.7"/><circle cx="658.3" cy="123.5"/><circle cx="525.9" cy="127.7"/><circle cx="554.1" cy="143.7"/><circle cx="589.3" cy="183.9"/><circle cx="635.7" cy="200.5"/><circle cx="667.6" cy="178.4"/><circle cx="646.7" cy="169.3"/><circle cx="655.1" cy="143.7"/><circle cx="583.5" cy="164"/><circle cx="593.5" cy="177.9"/><circle cx="567.2" cy="136"/><circle cx="609.7" cy="179.8"/><circle cx="534.7" cy="151.6"/><circle cx="610.5" cy="173.3"/><circle cx="637.2" cy="138.3"/><circle cx="695.8" cy="122.2"/><circle cx="644.5" cy="119"/><circle cx="688.5" cy="153"/><circle cx="700.7" cy="127.3"/><circle cx="580" cy="172.6"/><circle cx="636.4" cy="124.3"/><circle cx="552" cy="113.1"/><circle cx="582.9" cy="157.1"/><circle cx="638.8" cy="167.2"/><circle cx="647" cy="186.2"/><circle cx="626.4" cy="132.2"/><circle cx="595.2" cy="136.2"/><circle cx="593.2" cy="140.7"/><circle cx="637.3" cy="180.3"/><circle cx="559.1" cy="152"/><circle cx="582.3" cy="139.8"/><circle cx="583.4" cy="189.6"/><circle cx="605.4" cy="128.4"/><circle cx="590" cy="174.5"/><circle cx="569.7" cy="162.6"/><circle cx="667.2" cy="140"/><circle cx="565.7" cy="179.3"/><circle cx="549.8" cy="144.4"/><circle cx="686.8" cy="143.2"/><circle cx="551.1" cy="156.2"/><circle cx="635.8" cy="132.4"/><circle cx="554.1" cy="169.8"/><circle cx="625.8" cy="133.2"/><circle cx="654.3" cy="169.7"/><circle cx="632.6" cy="173.2"/><circle cx="624.2" cy="175.1"/><circle cx="652.4" cy="137.6"/><circle cx="639.4" cy="176.6"/><circle cx="575" cy="112.9"/><circle cx="592.8" cy="201.5"/><circle cx="568.8" cy="170.1"/><circle cx="682.8" cy="114.4"/><circle cx="652.9" cy="116.9"/><circle cx="592.4" cy="175.1"/><circle cx="518.6" cy="124.3"/><circle cx="571.3" cy="158.1"/><circle cx="553.1" cy="171.4"/><circle cx="551.4" cy="117.7"/><circle cx="681.7" cy="160.4"/><circle cx="612.5" cy="178.9"/><circle cx="658.2" cy="129.9"/><circle cx="535.2" cy="167.2"/><circle cx="631.7" cy="185.9"/><circle cx="578.1" cy="159.3"/><circle cx="553" cy="148.9"/><circle cx="653.9" cy="163.4"/><circle cx="684.2" cy="173.4"/><circle cx="642.1" cy="121.2"/><circle cx="652" cy="132.7"/><circle cx="643.8" cy="129.1"/><circle cx="696.4" cy="116.4"/><circle cx="638.4" cy="126.9"/><circle cx="676.7" cy="175.9"/><circle cx="562.3" cy="132.4"/><circle cx="564.6" cy="125.7"/><circle cx="638.1" cy="177.4"/><circle cx="595.8" cy="191.9"/><circle cx="535.6" cy="137.7"/><circle cx="585.3" cy="166"/><circle cx="632.7" cy="192.9"/><circle cx="604.9" cy="188.1"/><circle cx="661.7" cy="166.8"/><circle cx="570.2" cy="113"/><circle cx="584.5" cy="172.6"/><circle cx="676.1" cy="125.6"/><circle cx="593.8" cy="135"/><circle cx="586.2" cy="126.2"/><circle cx="624.8" cy="116.7"/><circle cx="548.9" cy="167.3"/><circle cx="668" cy="148.8"/><circle cx="592.5" cy="137.5"/><circle cx="548.7" cy="123.3"/><circle cx="619.7" cy="116.9"/><circle cx="566.6" cy="165.5"/><circle cx="629.8" cy="136.5"/><circle cx="561.1" cy="154.7"/><circle cx="621.4" cy="170.2"/><circle cx="539.3" cy="119.4"/><circle cx="566.4" cy="146.6"/><circle cx="680.5" cy="136.8"/><circle cx="620.6" cy="134.5"/><circle cx="582.2" cy="178"/><circle cx="576.5" cy="165.9"/><circle cx="611.7" cy="181.8"/><circle cx="648.1" cy="115.7"/><circle cx="582.5" cy="158.4"/><circle cx="665.6" cy="164.2"/><circle cx="577.7" cy="149.3"/><circle cx="692.6" cy="126.1"/><circle cx="650" cy="136.1"/><circle cx="621.1" cy="132.2"/><circle cx="627.4" cy="173.6"/><circle cx="665.7" cy="142.3"/><circle cx="581.1" cy="147"/><circle cx="655.1" cy="120.8"/><circle cx="636.7" cy="211.4"/><circle cx="628.7" cy="174.4"/><circle cx="635.3" cy="128.8"/><circle cx="679.4" cy="137.7"/><circle cx="688.9" cy="147.6"/><circle cx="671.9" cy="157.1"/><circle cx="565.9" cy="145.3"/><circle cx="523.5" cy="101.1"/><circle cx="652.9" cy="191.9"/><circle cx="552.1" cy="141.9"/><circle cx="632.3" cy="126.8"/><circle cx="644.6" cy="172.3"/><circle cx="589.4" cy="135.6"/><circle cx="684.9" cy="146.8"/><circle cx="609.3" cy="175.9"/><circle cx="590.4" cy="192.1"/><circle cx="582.8" cy="130.5"/><circle cx="561.6" cy="120.8"/><circle cx="589.1" cy="180.4"/><circle cx="679.1" cy="136.9"/><circle cx="516.9" cy="78.4"/><circle cx="631.5" cy="140.9"/><circle cx="631.2" cy="186.8"/><circle cx="593.4" cy="196.6"/><circle cx="677.6" cy="136.8"/><circle cx="582.8" cy="181.8"/><circle cx="635.7" cy="133.5"/><circle cx="605" cy="130.7"/><circle cx="580.3" cy="132.4"/><circle cx="604.2" cy="125.5"/><circle cx="644.4" cy="181.8"/><circle cx="611.7" cy="177.5"/><circle cx="673.1" cy="147.5"/><circle cx="665.5" cy="140.6"/><circle cx="609" cy="127.7"/><circle cx="596.3" cy="156"/><circle cx="602.1" cy="201.8"/><circle cx="652.3" cy="161.6"/><circle cx="552.8" cy="174"/><circle cx="555.5" cy="166.4"/><circle cx="620.3" cy="192.8"/><circle cx="561.7" cy="116.3"/><circle cx="610.3" cy="122.8"/><circle cx="545.5" cy="130.2"/><circle cx="644.1" cy="120.9"/><circle cx="702.1" cy="112.6"/><circle cx="552.8" cy="135.3"/><circle cx="688" cy="195"/><circle cx="585.3" cy="181.8"/><circle cx="593.3" cy="183.2"/><circle cx="554.3" cy="129.9"/><circle cx="582.7" cy="192"/><circle cx="602.2" cy="177.5"/><circle cx="551.4" cy="150.5"/><circle cx="543.3" cy="158.9"/><circle cx="595.6" cy="185.7"/><circle cx="656.4" cy="172.5"/><circle cx="668.8" cy="153.3"/><circle cx="631.9" cy="172.2"/><circle cx="598.6" cy="180.9"/><circle cx="657.7" cy="169.8"/><circle cx="682.7" cy="141.3"/><circle cx="624.4" cy="187.1"/><circle cx="636.9" cy="181.2"/><circle cx="536.2" cy="94"/><circle cx="612.8" cy="192.8"/><circle cx="711.3" cy="123.1"/><circle cx="643" cy="167.1"/><circle cx="619.3" cy="182.9"/><circle cx="510.5" cy="97.9"/><circle cx="642.7" cy="128.5"/><circle cx="680.2" cy="120.5"/><circle cx="583.7" cy="121.7"/><circle cx="641.5" cy="165.1"/><circle cx="550.1" cy="119.8"/><circle cx="669" cy="143.2"/><circle cx="645.8" cy="163.3"/><circle cx="550.4" cy="137.9"/><circle cx="656.7" cy="136.7"/><circle cx="562.6" cy="138.1"/><circle cx="596.4" cy="180.6"/><circle cx="528.3" cy="120.8"/><circle cx="609.2" cy="126.2"/><circle cx="565.5" cy="183"/><circle cx="656.5" cy="171.7"/><circle cx="662.3" cy="114.9"/><circle cx="622.3" cy="209.3"/><circle cx="597.3" cy="184.9"/><circle cx="562.3" cy="129.6"/><circle cx="661" cy="126.7"/><circle cx="643.5" cy="122.3"/><circle cx="623.5" cy="183.7"/><circle cx="571.3" cy="180.2"/><circle cx="571.9" cy="170.8"/><circle cx="620.6" cy="129.9"/><circle cx="656" cy="165.8"/><circle cx="601.7" cy="155.6"/><circle cx="612.1" cy="179.9"/><circle cx="562.2" cy="137.6"/><circle cx="671.9" cy="186"/><circle cx="581.5" cy="120.4"/><circle cx="557.1" cy="151.6"/><circle cx="665.7" cy="140.2"/><circle cx="657.4" cy="144.5"/><circle cx="647.6" cy="173.1"/><circle cx="549.7" cy="142.3"/><circle cx="581.5" cy="171"/><circle cx="574.5" cy="159.1"/><circle cx="576.3" cy="124.3"/><circle cx="577.4" cy="126.9"/><circle cx="627.5" cy="197.9"/><circle cx="657.7" cy="116.8"/><circle cx="557.9" cy="152.4"/><circle cx="558.3" cy="141.7"/><circle cx="604.8" cy="182.8"/><circle cx="657.7" cy="130.4"/><circle cx="667.8" cy="161.5"/><circle cx="598.4" cy="194.2"/><circle cx="638" cy="200.8"/><circle cx="633.3" cy="134.2"/><circle cx="619.9" cy="128.6"/><circle cx="548" cy="134.4"/><circle cx="578.3" cy="125.6"/><circle cx="575.5" cy="206.6"/><circle cx="558.6" cy="125"/><circle cx="564" cy="184.7"/><circle cx="575.9" cy="162"/><circle cx="606.2" cy="127.7"/><circle cx="623.1" cy="185.5"/><circle cx="683" cy="144.7"/><circle cx="665.7" cy="190"/><circle cx="625.3" cy="130"/><circle cx="566.3" cy="126.5"/><circle cx="530.7" cy="116"/><circle cx="677.1" cy="133.3"/><circle cx="539.9" cy="127.2"/><circle cx="545.5" cy="132.9"/><circle cx="540.3" cy="111.8"/><circle cx="505.7" cy="58.1"/><circle cx="707.2" cy="141.1"/><circle cx="647.5" cy="171.3"/><circle cx="618" cy="173.3"/><circle cx="680.8" cy="150"/><circle cx="562.9" cy="170.5"/><circle cx="555.2" cy="136.9"/><circle cx="679.6" cy="140.6"/><circle cx="693.3" cy="130.6"/><circle cx="574.5" cy="128.3"/><circle cx="684.7" cy="125.8"/><circle cx="606.8" cy="196.5"/><circle cx="675.1" cy="133.4"/><circle cx="675.6" cy="124.8"/><circle cx="666.3" cy="164"/><circle cx="549.1" cy="171.2"/><circle cx="575.6" cy="150.9"/><circle cx="569.5" cy="141.7"/><circle cx="561.1" cy="135.2"/><circle cx="680.3" cy="182.7"/><circle cx="571.8" cy="160.3"/><circle cx="608.5" cy="171.8"/><circle cx="662.9" cy="118"/><circle cx="555.4" cy="133.8"/><circle cx="635.2" cy="126"/><circle cx="632.8" cy="177"/><circle cx="673.4" cy="145.1"/><circle cx="528.4" cy="98.1"/><circle cx="542.1" cy="119.5"/><circle cx="564.8" cy="157.4"/><circle cx="663" cy="140"/><circle cx="518.8" cy="93.3"/><circle cx="655.2" cy="172.3"/><circle cx="560.3" cy="159.8"/><circle cx="659.3" cy="170.1"/><circle cx="550.5" cy="143.9"/><circle cx="672.9" cy="137.6"/><circle cx="568.1" cy="151.6"/><circle cx="564.6" cy="164.8"/><circle cx="646.6" cy="135.9"/><circle cx="576.8" cy="171"/><circle cx="623.2" cy="174.6"/><circle cx="536" cy="128.3"/><circle cx="597.3" cy="155.6"/><circle cx="641.3" cy="134.3"/><circle cx="562.2" cy="167.6"/><circle cx="683.7" cy="131"/><circle cx="600.7" cy="191.4"/><circle cx="670.3" cy="166.8"/><circle cx="681.6" cy="131.5"/><circle cx="577" cy="152.9"/><circle cx="585.2" cy="165.7"/><circle cx="600.7" cy="139.7"/><circle cx="677.3" cy="161.8"/><circle cx="627.7" cy="178"/><circle cx="648" cy="128.2"/><circle cx="649.5" cy="185.7"/><circle cx="598.4" cy="138.2"/><circle cx="617.8" cy="135.3"/><circle cx="605.9" cy="182"/><circle cx="697.4" cy="148.3"/><circle cx="568.6" cy="191.5"/><circle cx="641.1" cy="134.7"/><circle cx="576.7" cy="120.8"/><circle cx="593.1" cy="179.8"/><circle cx="582.2" cy="167"/><circle cx="661.3" cy="159.7"/><circle cx="697" cy="119"/><circle cx="674.5" cy="120.3"/><circle cx="667.4" cy="120.2"/><circle cx="555.4" cy="172.3"/><circle cx="616.4" cy="132.6"/><circle cx="662.8" cy="161"/><circle cx="670.4" cy="124.4"/><circle cx="570.3" cy="173.4"/><circle cx="672" cy="140.9"/><circle cx="600.5" cy="133.6"/><circle cx="690.4" cy="143.6"/><circle cx="540.2" cy="105.3"/><circle cx="607.8" cy="182.2"/><circle cx="606.3" cy="176.6"/><circle cx="553.9" cy="141.6"/><circle cx="575" cy="184"/><circle cx="598.3" cy="177.2"/><circle cx="588.8" cy="178.9"/><circle cx="574.8" cy="156.1"/><circle cx="653.1" cy="125.5"/><circle cx="602.9" cy="135.6"/><circle cx="538" cy="147.2"/><circle cx="679.5" cy="135.3"/><circle cx="581.2" cy="177"/><circle cx="668.3" cy="157.1"/><circle cx="615.2" cy="116.1"/><circle cx="549.6" cy="163.3"/><circle cx="621.1" cy="187.9"/><circle cx="662.4" cy="147.3"/><circle cx="669.3" cy="172.5"/><circle cx="567.3" cy="160.8"/><circle cx="634.2" cy="176.5"/><circle cx="583.1" cy="167.5"/><circle cx="571.2" cy="127.2"/><circle cx="537" cy="149.8"/><circle cx="564.2" cy="170.5"/><circle cx="569.4" cy="131.4"/><circle cx="555.1" cy="154.6"/><circle cx="586.3" cy="172"/><circle cx="532.1" cy="118.1"/><circle cx="715.2" cy="124"/><circle cx="579.3" cy="162.6"/><circle cx="562.1" cy="182.7"/><circle cx="664.3" cy="175.3"/><circle cx="566.4" cy="176.9"/><circle cx="553.1" cy="155.1"/><circle cx="572.5" cy="132.5"/><circle cx="580.4" cy="172.2"/><circle cx="556.6" cy="133.7"/><circle cx="597.8" cy="177.3"/><circle cx="702.4" cy="106.7"/><circle cx="688" cy="135.5"/><circle cx="640.5" cy="199.3"/><circle cx="527.4" cy="133.6"/><circle cx="558.8" cy="131.5"/><circle cx="559.3" cy="146.2"/><circle cx="584.6" cy="173.6"/><circle cx="599.2" cy="139.6"/><circle cx="642.2" cy="184.9"/><circle cx="574.8" cy="145.5"/><circle cx="641.2" cy="103.1"/><circle cx="661.8" cy="179.4"/><circle cx="575.9" cy="131.8"/><circle cx="500.3" cy="80.4"/><circle cx="701.6" cy="119.3"/><circle cx="649.7" cy="170.6"/><circle cx="592.5" cy="177.9"/><circle cx="616.6" cy="133"/><circle cx="587.2" cy="120.2"/><circle cx="567.7" cy="123.7"/><circle cx="653.2" cy="137.6"/><circle cx="640" cy="174.3"/><circle cx="634.2" cy="190.9"/><circle cx="693.6" cy="122.6"/><circle cx="656.3" cy="132.9"/><circle cx="682.6" cy="151.1"/><circle cx="564.1" cy="183.4"/><circle cx="659.3" cy="166.4"/><circle cx="603.2" cy="130.7"/><circle cx="543.1" cy="137.1"/><circle cx="542.8" cy="127.2"/><circle cx="572.4" cy="147.2"/><circle cx="657.5" cy="170.8"/><circle cx="673.6" cy="118.9"/><circle cx="617.1" cy="133.5"/><circle cx="660.5" cy="188.8"/><circle cx="635.2" cy="175.1"/><circle cx="603.2" cy="127"/><circle cx="701.4" cy="117.4"/><circle cx="587" cy="198.8"/><circle cx="624.3" cy="166"/><circle cx="632.4" cy="126.3"/><circle cx="654.2" cy="139.7"/><circle cx="563.5" cy="153"/><circle cx="623.5" cy="181.5"/><circle cx="565.6" cy="150.7"/><circle cx="611.5" cy="185.9"/><circle cx="671.2" cy="184.2"/><circle cx="671.5" cy="113.5"/><circle cx="528.4" cy="133.2"/><circle cx="596.7" cy="158.3"/><circle cx="664.6" cy="173.5"/><circle cx="701.6" cy="130.3"/><circle cx="559.6" cy="125.2"/><circle cx="715.5" cy="81.6"/><circle cx="678.1" cy="159.2"/><circle cx="648.4" cy="186.2"/><circle cx="713.4" cy="118.2"/><circle cx="617.4" cy="137.5"/><circle cx="594.7" cy="140.1"/><circle cx="558" cy="164.3"/><circle cx="609.6" cy="173.7"/><circle cx="570.7" cy="115.4"/><circle cx="668" cy="115.6"/><circle cx="572.5" cy="125.4"/><circle cx="650.5" cy="183.8"/><circle cx="548.8" cy="132.7"/><circle cx="524.7" cy="125.1"/><circle cx="568.5" cy="170.4"/><circle cx="639.7" cy="132"/><circle cx="554" cy="160.7"/><circle cx="527.1" cy="133.5"/><circle cx="588.2" cy="137.6"/><circle cx="581" cy="134.7"/><circle cx="653.7" cy="164.1"/><circle cx="644.5" cy="171"/><circle cx="575.7" cy="159.3"/><circle cx="555.7" cy="139.2"/><circle cx="594.3" cy="141.1"/><circle cx="672.2" cy="149.1"/><circle cx="645.4" cy="172.2"/><circle cx="663.3" cy="131.6"/><circle cx="562.3" cy="168.3"/><circle cx="582.6" cy="158.2"/><circle cx="673.1" cy="158.5"/><circle cx="651.5" cy="173.9"/><circle cx="607.4" cy="127.1"/><circle cx="669.7" cy="167.1"/><circle cx="583.1" cy="154.1"/><circle cx="551.6" cy="128.3"/><circle cx="575.2" cy="157.7"/><circle cx="574.1" cy="140.1"/><circle cx="535.7" cy="108.5"/><circle cx="701.7" cy="97.5"/><circle cx="634.9" cy="110"/><circle cx="558.3" cy="126.7"/><circle cx="596.9" cy="159.3"/><circle cx="557.1" cy="110"/><circle cx="538" cy="142.8"/><circle cx="572.3" cy="148.9"/><circle cx="644" cy="135.8"/><circle cx="630.4" cy="137"/><circle cx="531.1" cy="117.3"/><circle cx="503.7" cy="86.1"/><circle cx="600.2" cy="191.4"/><circle cx="589.1" cy="136"/><circle cx="565.2" cy="145.1"/><circle cx="577.7" cy="170.5"/><circle cx="706.5" cy="140.3"/><circle cx="618.6" cy="137"/><circle cx="572.9" cy="143.1"/><circle cx="635.1" cy="171"/><circle cx="636.8" cy="134.6"/><circle cx="615.8" cy="125.8"/><circle cx="536.5" cy="113.4"/><circle cx="708.1" cy="136.9"/><circle cx="647.5" cy="194.7"/><circle cx="611.2" cy="126.9"/><circle cx="542.3" cy="163.8"/><circle cx="561.3" cy="174.6"/><circle cx="669" cy="157.4"/><circle cx="499.3" cy="89.5"/><circle cx="649.1" cy="165.3"/><circle cx="619.4" cy="172.8"/><circle cx="608.1" cy="174.2"/><circle cx="711.5" cy="64.2"/><circle cx="571.4" cy="177.1"/><circle cx="557.7" cy="145.8"/><circle cx="624.7" cy="134.5"/><circle cx="672" cy="145.8"/><circle cx="611.2" cy="186.3"/><circle cx="565" cy="162.8"/><circle cx="670.8" cy="176.5"/><circle cx="677.7" cy="144.7"/><circle cx="676.3" cy="183.8"/><circle cx="566.2" cy="136.1"/><circle cx="565.6" cy="146.9"/><circle cx="604.3" cy="177.3"/><circle cx="634.4" cy="129.7"/><circle cx="554.8" cy="124.1"/><circle cx="612.5" cy="133.4"/><circle cx="637.8" cy="176.9"/><circle cx="608.5" cy="174"/><circle cx="526.9" cy="114"/><circle cx="622.2" cy="122.7"/><circle cx="613" cy="186.6"/><circle cx="540.1" cy="115"/><circle cx="689" cy="169.6"/><circle cx="548.8" cy="174.4"/><circle cx="640.2" cy="106.9"/><circle cx="645" cy="163.9"/><circle cx="665.2" cy="159.7"/><circle cx="625.7" cy="180.1"/><circle cx="673.2" cy="158.5"/><circle cx="584.4" cy="161.4"/><circle cx="693.7" cy="121.8"/><circle cx="622.9" cy="187.3"/><circle cx="557.6" cy="169.1"/><circle cx="682.7" cy="145.1"/><circle cx="642" cy="189.7"/><circle cx="571.6" cy="133"/><circle cx="601.9" cy="190.6"/><circle cx="641.9" cy="165.1"/><circle cx="576.1" cy="164.1"/><circle cx="588.3" cy="174.6"/><circle cx="559.6" cy="118.1"/><circle cx="671.9" cy="133.8"/><circle cx="655.8" cy="123.6"/><circle cx="603.6" cy="216"/><circle cx="666.5" cy="155"/><circle cx="671.8" cy="134.5"/><circle cx="668.7" cy="198.7"/><circle cx="652.1" cy="185.6"/><circle cx="556.9" cy="150.4"/><circle cx="648.2" cy="178"/><circle cx="594.5" cy="191.5"/><circle cx="622.9" cy="131.9"/><circle cx="635.8" cy="128.3"/><circle cx="535" cy="123.1"/><circle cx="544.5" cy="135"/><circle cx="593.7" cy="111.2"/><circle cx="634.7" cy="115.7"/><circle cx="677.8" cy="171"/><circle cx="551.6" cy="158.9"/><circle cx="620.2" cy="178.9"/><circle cx="578.6" cy="155.3"/><circle cx="621.9" cy="139"/><circle cx="564.6" cy="135.2"/><circle cx="534" cy="127.1"/><circle cx="605.8" cy="189.3"/><circle cx="577.6" cy="163.8"/><circle cx="683.1" cy="135.4"/><circle cx="692.9" cy="118.2"/><circle cx="646.5" cy="166.2"/><circle cx="650.4" cy="174.1"/><circle cx="671" cy="136.4"/><circle cx="684.5" cy="146.3"/><circle cx="599.3" cy="107.7"/><circle cx="597.6" cy="131.1"/><circle cx="599.2" cy="200.5"/><circle cx="541.2" cy="131.9"/><circle cx="643.3" cy="136.6"/><circle cx="553.8" cy="136.1"/><circle cx="607" cy="126.1"/><circle cx="570.6" cy="165.8"/><circle cx="566.2" cy="155.4"/><circle cx="603.9" cy="137.4"/><circle cx="568.9" cy="142.3"/><circle cx="714" cy="108.8"/><circle cx="590.8" cy="132.7"/><circle cx="569.4" cy="140.4"/><circle cx="512.6" cy="102.6"/><circle cx="551.6" cy="140.4"/><circle cx="563.7" cy="132.5"/><circle cx="633.1" cy="181.5"/><circle cx="631" cy="179.9"/><circle cx="649.2" cy="165"/><circle cx="600.7" cy="157.3"/><circle cx="560.6" cy="102.7"/><circle cx="567.4" cy="141.3"/><circle cx="576.7" cy="140.8"/><circle cx="568" cy="194.1"/><circle cx="647.6" cy="169.5"/><circle cx="606.5" cy="135.1"/><circle cx="521.1" cy="82.6"/><circle cx="643.2" cy="168.4"/><circle cx="697.9" cy="167"/><circle cx="686.8" cy="163.3"/><circle cx="633.9" cy="136.4"/><circle cx="568.3" cy="141.9"/><circle cx="558.6" cy="159.8"/><circle cx="557.8" cy="141.1"/><circle cx="670.4" cy="123.8"/><circle cx="693.9" cy="136.4"/><circle cx="611.5" cy="132.1"/><circle cx="672.2" cy="129.4"/><circle cx="671.9" cy="125.7"/><circle cx="626.9" cy="179.2"/><circle cx="581.8" cy="150.3"/><circle cx="579.1" cy="196.5"/><circle cx="526.5" cy="120"/><circle cx="630.5" cy="122.2"/><circle cx="641.1" cy="172.5"/><circle cx="647.6" cy="126.2"/><circle cx="579.8" cy="123.1"/><circle cx="613.8" cy="182.3"/><circle cx="599.2" cy="180.2"/><circle cx="576.9" cy="167.9"/><circle cx="551.6" cy="162.8"/><circle cx="577.1" cy="172.4"/><circle cx="701" cy="132.4"/><circle cx="689.6" cy="155.8"/><circle cx="581.3" cy="168.8"/><circle cx="611.4" cy="177.6"/><circle cx="679" cy="124.5"/><circle cx="576.5" cy="133.2"/><circle cx="505.6" cy="117"/><circle cx="661" cy="130"/><circle cx="537.2" cy="114.4"/><circle cx="616" cy="173.7"/><circle cx="653.8" cy="177.6"/><circle cx="650.1" cy="124.7"/><circle cx="539.1" cy="167.5"/><circle cx="658.4" cy="134.9"/><circle cx="620.4" cy="182.7"/><circle cx="656.3" cy="199.9"/><circle cx="601" cy="181.2"/><circle cx="577" cy="179.8"/><circle cx="528.2" cy="90.7"/><circle cx="607.4" cy="117.5"/><circle cx="568.3" cy="177.4"/><circle cx="642" cy="162.6"/><circle cx="631.4" cy="194.7"/><circle cx="581.3" cy="167.1"/><circle cx="540.5" cy="135.6"/><circle cx="637.8" cy="191.3"/><circle cx="592" cy="136.7"/><circle cx="530.5" cy="113.5"/><circle cx="551.6" cy="94.4"/><circle cx="623.5" cy="164.4"/><circle cx="546.7" cy="113.9"/><circle cx="662.3" cy="149"/><circle cx="580.2" cy="183.8"/><circle cx="484.6" cy="84.1"/><circle cx="626.6" cy="124.4"/><circle cx="660.7" cy="163.8"/><circle cx="591.2" cy="172.9"/><circle cx="609.4" cy="173.4"/><circle cx="624.9" cy="165.2"/><circle cx="539.2" cy="139.8"/><circle cx="585.9" cy="128.2"/><circle cx="678.1" cy="113.3"/><circle cx="586.6" cy="186.9"/><circle cx="677.6" cy="148.7"/><circle cx="613.9" cy="193.8"/><circle cx="544.7" cy="182.4"/><circle cx="704.2" cy="118.8"/><circle cx="573.6" cy="186.9"/><circle cx="683.3" cy="159.1"/><circle cx="591.6" cy="134.9"/><circle cx="563.1" cy="127.9"/><circle cx="656.1" cy="182.3"/><circle cx="563.2" cy="150.8"/><circle cx="569.2" cy="142.5"/><circle cx="653" cy="130.5"/><circle cx="601.7" cy="139.1"/><circle cx="681.2" cy="173.8"/><circle cx="665.5" cy="195.1"/><circle cx="672.4" cy="129.2"/><circle cx="663.9" cy="147.1"/><circle cx="547.6" cy="171.1"/><circle cx="663.6" cy="168.8"/><circle cx="627" cy="108.6"/><circle cx="548.4" cy="119.9"/><circle cx="568" cy="108"/><circle cx="580.1" cy="177"/><circle cx="601.4" cy="178.1"/><circle cx="607.5" cy="179.6"/><circle cx="667.8" cy="125.5"/><circle cx="638" cy="105.6"/><circle cx="570.2" cy="158.9"/><circle cx="627" cy="195.7"/><circle cx="618.4" cy="119.2"/><circle cx="594.4" cy="124.2"/><circle cx="594.3" cy="127.8"/><circle cx="655.8" cy="167.4"/><circle cx="564.3" cy="150.6"/><circle cx="639.2" cy="138.4"/><circle cx="593.9" cy="136.3"/><circle cx="593.8" cy="138.4"/><circle cx="553.2" cy="150.3"/><circle cx="563.3" cy="131.7"/><circle cx="536" cy="134"/><circle cx="565.1" cy="164.4"/><circle cx="598.6" cy="183.1"/><circle cx="638.9" cy="176"/><circle cx="673.7" cy="141.1"/><circle cx="598.9" cy="154.4"/><circle cx="669.9" cy="144.3"/><circle cx="661.2" cy="175.3"/><circle cx="545.2" cy="140.4"/><circle cx="709.9" cy="122"/><circle cx="672.1" cy="159.8"/><circle cx="645.6" cy="182.2"/><circle cx="682.7" cy="151.6"/><circle cx="570.7" cy="129.5"/><circle cx="685" cy="135.3"/><circle cx="636.8" cy="103.5"/><circle cx="669.9" cy="156.3"/><circle cx="576.6" cy="171.4"/><circle cx="645.6" cy="186.1"/><circle cx="594.2" cy="194.2"/><circle cx="621.9" cy="168.5"/><circle cx="574.9" cy="145.3"/><circle cx="671.3" cy="136.1"/><circle cx="630.3" cy="170.9"/><circle cx="643" cy="138.5"/><circle cx="592.2" cy="183.8"/><circle cx="691.4" cy="138.7"/><circle cx="629.1" cy="190.6"/><circle cx="628.4" cy="110.6"/><circle cx="576.8" cy="132.9"/><circle cx="566.1" cy="114.3"/><circle cx="623.1" cy="184.2"/><circle cx="669.4" cy="125.6"/><circle cx="569.7" cy="111.7"/><circle cx="628" cy="187.7"/><circle cx="584.3" cy="174.9"/><circle cx="549.9" cy="126.1"/><circle cx="645.6" cy="137.6"/><circle cx="658.6" cy="137.3"/><circle cx="686.5" cy="114.9"/><circle cx="566.4" cy="163.8"/><circle cx="575.6" cy="150.6"/><circle cx="578.6" cy="150.3"/><circle cx="640.9" cy="130.9"/><circle cx="683.4" cy="144.9"/><circle cx="611.9" cy="183.2"/><circle cx="538.1" cy="124.7"/><circle cx="559.9" cy="145.7"/><circle cx="585.7" cy="176"/><circle cx="565.5" cy="133.8"/><circle cx="656.6" cy="171.6"/><circle cx="591.5" cy="172.7"/><circle cx="631.3" cy="138.4"/><circle cx="645" cy="100.5"/><circle cx="619.6" cy="176.2"/><circle cx="685.7" cy="167.1"/><circle cx="646.3" cy="172.7"/><circle cx="594.8" cy="130.7"/><circle cx="579.9" cy="159.3"/><circle cx="663.4" cy="132.3"/><circle cx="608" cy="133.9"/><circle cx="648.7" cy="162.5"/><circle cx="619.5" cy="127.8"/><circle cx="654.5" cy="173.9"/><circle cx="622.9" cy="136.3"/><circle cx="648.5" cy="132.7"/><circle cx="565.7" cy="128.3"/><circle cx="578.5" cy="137.4"/><circle cx="646.9" cy="173.1"/><circle cx="605.5" cy="131.8"/><circle cx="564" cy="183.8"/><circle cx="554.5" cy="178.6"/><circle cx="609.8" cy="184.5"/><circle cx="541.9" cy="152.1"/><circle cx="573" cy="154.3"/><circle cx="569.9" cy="166.7"/><circle cx="571.4" cy="120.9"/><circle cx="582.4" cy="133"/><circle cx="620.2" cy="178.8"/><circle cx="619" cy="177.6"/><circle cx="677.8" cy="155.5"/><circle cx="596" cy="135.7"/><circle cx="602.7" cy="183.5"/><circle cx="564.6" cy="176"/><circle cx="622.9" cy="177"/><circle cx="575.4" cy="139"/><circle cx="538.1" cy="135.3"/><circle cx="610.8" cy="116.3"/><circle cx="550.6" cy="146.1"/><circle cx="592" cy="132.5"/><circle cx="632.6" cy="133.2"/><circle cx="595.4" cy="175"/><circle cx="673.4" cy="153.4"/><circle cx="631.1" cy="197.5"/><circle cx="562.6" cy="179.5"/><circle cx="558.3" cy="144.3"/><circle cx="691.1" cy="107.8"/><circle cx="542.2" cy="130.2"/><circle cx="643.9" cy="182.1"/><circle cx="538.4" cy="132.7"/><circle cx="601.2" cy="178"/><circle cx="670.2" cy="151.1"/><circle cx="657.5" cy="165.6"/><circle cx="543.1" cy="115.7"/><circle cx="562.9" cy="149.9"/><circle cx="569" cy="124.4"/><circle cx="584.7" cy="196.6"/><circle cx="686.3" cy="149.6"/><circle cx="616.4" cy="187.1"/><circle cx="601.7" cy="126.3"/><circle cx="573.3" cy="137.4"/><circle cx="671" cy="135.9"/><circle cx="599.5" cy="137.8"/><circle cx="680.9" cy="105.1"/><circle cx="596.7" cy="176.1"/><circle cx="664.2" cy="134.2"/><circle cx="653.4" cy="126.6"/><circle cx="621.5" cy="138.2"/><circle cx="636.7" cy="122.1"/><circle cx="609.7" cy="133"/><circle cx="676.3" cy="145.8"/><circle cx="529.5" cy="113.4"/><circle cx="573.1" cy="136.7"/><circle cx="670" cy="154.7"/><circle cx="584.5" cy="120.3"/><circle cx="655.3" cy="140.4"/><circle cx="588" cy="128.6"/><circle cx="642.3" cy="125"/><circle cx="606.2" cy="175.1"/><circle cx="656.4" cy="161.1"/><circle cx="565" cy="149.3"/><circle cx="638" cy="181.1"/><circle cx="561" cy="159.8"/><circle cx="546.2" cy="146.6"/><circle cx="634.2" cy="188.9"/><circle cx="611" cy="129.9"/><circle cx="616.7" cy="125.8"/><circle cx="571.1" cy="129.7"/><circle cx="730.2" cy="111.6"/><circle cx="552.7" cy="145.8"/><circle cx="673.4" cy="138.7"/><circle cx="685.1" cy="169.7"/><circle cx="559.8" cy="152"/><circle cx="616.6" cy="174.8"/><circle cx="549.4" cy="94.9"/><circle cx="528" cy="118.8"/><circle cx="558.6" cy="146.3"/><circle cx="578.7" cy="153.1"/><circle cx="550.8" cy="125.9"/><circle cx="589.2" cy="122.2"/><circle cx="607.8" cy="111.7"/><circle cx="584.9" cy="180.9"/><circle cx="682.1" cy="149.1"/><circle cx="619.2" cy="183.4"/><circle cx="583.9" cy="189.5"/><circle cx="568.8" cy="154.3"/><circle cx="544.4" cy="159.5"/><circle cx="570.7" cy="125.3"/><circle cx="563.8" cy="167.8"/><circle cx="663.6" cy="140.8"/><circle cx="548.5" cy="179.2"/><circle cx="683.6" cy="113.1"/><circle cx="575.4" cy="184.6"/><circle cx="557" cy="155.5"/><circle cx="664.1" cy="143.9"/><circle cx="652.2" cy="135.8"/><circle cx="618.3" cy="132.4"/><circle cx="698.6" cy="120.8"/><circle cx="663.8" cy="155.3"/><circle cx="634.7" cy="170.9"/><circle cx="579.3" cy="178.4"/><circle cx="646.9" cy="190.1"/><circle cx="562" cy="166.7"/><circle cx="573.2" cy="109.9"/><circle cx="622.3" cy="127.8"/><circle cx="527.8" cy="113.4"/><circle cx="620.7" cy="196.9"/><circle cx="571.4" cy="140.3"/><circle cx="625" cy="178.9"/><circle cx="596.3" cy="184.4"/><circle cx="660.2" cy="184.3"/><circle cx="557" cy="117.6"/><circle cx="601" cy="131.9"/><circle cx="567.3" cy="156.5"/><circle cx="596.3" cy="185.4"/><circle cx="549.3" cy="170.5"/><circle cx="591.9" cy="134.2"/><circle cx="675" cy="118.5"/><circle cx="564.8" cy="154.9"/><circle cx="653.9" cy="136.3"/><circle cx="538.6" cy="132.9"/><circle cx="530.5" cy="116"/><circle cx="547.1" cy="135.6"/><circle cx="664" cy="147.3"/><circle cx="579.6" cy="170.2"/><circle cx="560.4" cy="156.7"/><circle cx="658.3" cy="164.2"/><circle cx="690.4" cy="147.4"/><circle cx="650" cy="166.3"/><circle cx="696.5" cy="123.7"/><circle cx="511.7" cy="83.8"/><circle cx="615.6" cy="116.4"/><circle cx="636.2" cy="137.4"/><circle cx="549.2" cy="160.9"/><circle cx="585.8" cy="166.5"/><circle cx="584.9" cy="189.5"/><circle cx="634.5" cy="193.2"/><circle cx="551.7" cy="128"/><circle cx="677.1" cy="142.9"/><circle cx="655" cy="124.8"/><circle cx="582.4" cy="156.5"/><circle cx="595.2" cy="127.6"/><circle cx="678" cy="137.6"/><circle cx="640.1" cy="169.2"/><circle cx="611.5" cy="176.1"/><circle cx="571" cy="184"/><circle cx="661.1" cy="126.2"/><circle cx="545.4" cy="137.9"/><circle cx="579.5" cy="119.9"/><circle cx="495.7" cy="85.8"/><circle cx="549.1" cy="141.5"/><circle cx="603.9" cy="138"/><circle cx="623.8" cy="170.5"/><circle cx="667.1" cy="152.1"/><circle cx="562.9" cy="116.4"/><circle cx="706.7" cy="95.9"/><circle cx="599.6" cy="134.6"/><circle cx="555.1" cy="160"/><circle cx="625.8" cy="131.5"/><circle cx="675.6" cy="172.1"/><circle cx="592.5" cy="175.3"/><circle cx="608.7" cy="129.8"/><circle cx="559.7" cy="158.2"/><circle cx="597.3" cy="176.2"/><circle cx="610.3" cy="188.9"/><circle cx="532.8" cy="99.8"/><circle cx="612.2" cy="107.7"/><circle cx="669" cy="145.9"/><circle cx="535.9" cy="124.6"/><circle cx="580" cy="115.8"/><circle cx="556.9" cy="141.6"/><circle cx="557.3" cy="138.6"/><circle cx="559.5" cy="166.8"/><circle cx="571.1" cy="158.4"/><circle cx="633.2" cy="176.5"/><circle cx="647.2" cy="133.3"/><circle cx="644.8" cy="118.9"/><circle cx="585.5" cy="156.7"/><circle cx="630.8" cy="123"/><circle cx="668.2" cy="117.1"/><circle cx="665.4" cy="157.7"/><circle cx="639.3" cy="129.1"/><circle cx="656" cy="178.4"/><circle cx="589.8" cy="130.4"/><circle cx="628.1" cy="185.2"/><circle cx="642.6" cy="121.5"/><circle cx="667.7" cy="152.1"/><circle cx="627.9" cy="174.2"/><circle cx="541.5" cy="102.7"/><circle cx="617" cy="136"/><circle cx="700.5" cy="129.4"/><circle cx="538" cy="132"/><circle cx="676.6" cy="117"/><circle cx="651.5" cy="124.8"/><circle cx="620.7" cy="168.9"/><circle cx="659.9" cy="145.4"/><circle cx="617.1" cy="186.4"/><circle cx="656.8" cy="161.7"/><circle cx="669.6" cy="177.7"/><circle cx="566" cy="155.6"/><circle cx="545.9" cy="126.6"/><circle cx="683" cy="123.8"/><circle cx="656.9" cy="142.7"/><circle cx="665.3" cy="161.2"/><circle cx="550.5" cy="133.4"/><circle cx="529.9" cy="92.1"/><circle cx="561.2" cy="172.3"/><circle cx="623.4" cy="127.9"/><circle cx="662.3" cy="191.2"/><circle cx="720.5" cy="144.8"/><circle cx="673.2" cy="113.3"/><circle cx="552.6" cy="121.8"/><circle cx="519.7" cy="98.7"/><circle cx="548.7" cy="182.6"/><circle cx="593.7" cy="141.8"/><circle cx="616.6" cy="195"/><circle cx="636.6" cy="140.8"/><circle cx="658.8" cy="125.1"/><circle cx="697.4" cy="115.8"/><circle cx="573" cy="148"/><circle cx="636.8" cy="119.8"/><circle cx="691.9" cy="139.8"/><circle cx="622.9" cy="201.3"/><circle cx="603.6" cy="183.7"/><circle cx="653.8" cy="169.7"/><circle cx="590.7" cy="127.7"/><circle cx="632.7" cy="169"/><circle cx="673.1" cy="126.7"/><circle cx="660.5" cy="145.7"/><circle cx="592.4" cy="123"/><circle cx="653.2" cy="169.6"/><circle cx="547.5" cy="136.9"/><circle cx="651.8" cy="129.8"/><circle cx="599.3" cy="192"/><circle cx="600.7" cy="133.2"/><circle cx="547.3" cy="154.1"/><circle cx="703.5" cy="94.9"/><circle cx="549.1" cy="114.6"/><circle cx="647.6" cy="176.8"/><circle cx="582" cy="147.5"/><circle cx="628.5" cy="130.6"/><circle cx="659.7" cy="174.8"/><circle cx="587.6" cy="178.2"/><circle cx="635" cy="171.2"/><circle cx="608.4" cy="194.8"/><circle cx="629.1" cy="172.8"/><circle cx="577.8" cy="142.2"/><circle cx="683.5" cy="124.4"/><circle cx="580.9" cy="188.2"/><circle cx="605.1" cy="174.5"/><circle cx="678.2" cy="139.4"/><circle cx="559.3" cy="132.7"/><circle cx="639.8" cy="172.1"/><circle cx="556.9" cy="162.4"/><circle cx="457.3" cy="20.8"/><circle cx="478.4" cy="61.2"/><circle cx="489.8" cy="65.3"/><circle cx="498" cy="63.5"/><circle cx="492.6" cy="75.6"/><circle cx="502.4" cy="68.9"/><circle cx="503.3" cy="83.7"/><circle cx="500.5" cy="125.9"/><circle cx="611.2" cy="233.3"/><circle cx="734.7" cy="70.2"/><circle cx="751.1" cy="63.5"/><circle cx="731.4" cy="86.8"/><circle cx="705.2" cy="80.9"/><circle cx="724.5" cy="101.3"/><circle cx="723.2" cy="135.5"/><circle cx="706.9" cy="97.9"/></g>
<g fill="#1f77b4" fill-opacity=".7"><circle cx="621.8" cy="171"/><circle cx="621" cy="171.6"/><circle cx="595.3" cy="178.1"/><circle cx="631.3" cy="144.7"/><circle cx="669.1" cy="133.9"/><circle cx="654.8" cy="153.7"/><circle cx="588.5" cy="171.2"/><circle cx="566" cy="182.9"/><circle cx="591.8" cy="168.6"/><circle cx="523.5" cy="111.4"/><circle cx="608" cy="134.2"/><circle cx="566.8" cy="161.5"/><circle cx="587.4" cy="171.9"/><circle cx="594.9" cy="187.2"/><circle cx="604.1" cy="194.9"/><circle cx="633.3" cy="200.6"/><circle cx="658.6" cy="181"/><circle cx="611.6" cy="134"/><circle cx="671.6" cy="135.7"/><circle cx="653" cy="135.7"/><circle cx="586.9" cy="169.7"/><circle cx="579.8" cy="161.1"/><circle cx="598.4" cy="173"/><circle cx="576.3" cy="135.3"/><circle cx="610.4" cy="164.1"/><circle cx="638.5" cy="172"/><circle cx="625.4" cy="182.6"/><circle cx="631" cy="132.7"/><circle cx="648.2" cy="136.3"/><circle cx="676.7" cy="119.8"/><circle cx="677.5" cy="127"/><circle cx="670.8" cy="106"/><circle cx="648.1" cy="126.2"/><circle cx="627.4" cy="163.9"/><circle cx="675.3" cy="157.3"/><circle cx="695.4" cy="134.3"/><circle cx="689.1" cy="132.2"/><circle cx="669.6" cy="160.2"/><circle cx="631.1" cy="178.9"/><circle cx="616.6" cy="140.6"/><circle cx="565.1" cy="142.5"/><circle cx="632.6" cy="159.3"/><circle cx="634" cy="149.6"/><circle cx="644.7" cy="155.6"/><circle cx="569.3" cy="155.1"/><circle cx="590.2" cy="170.9"/><circle cx="569.8" cy="162.3"/><circle cx="686.6" cy="127.3"/><circle cx="596.9" cy="146.1"/><circle cx="606.4" cy="203.9"/><circle cx="680.3" cy="142.9"/><circle cx="669.8" cy="157.5"/><circle cx="642.2" cy="202.3"/><circle cx="618.9" cy="168.7"/><circle cx="644.2" cy="146.4"/><circle cx="657.1" cy="153.8"/><circle cx="592" cy="160.2"/><circle cx="689.9" cy="139.5"/><circle cx="563.8" cy="144.4"/><circle cx="654.3" cy="160.2"/><circle cx="618.7" cy="171.4"/><circle cx="624.3" cy="136.1"/><circle cx="591.4" cy="148.2"/><circle cx="601.6" cy="175.8"/><circle cx="573" cy="173.6"/><circle cx="565.5" cy="139.6"/><circle cx="642.1" cy="151.7"/><circle cx="640.1" cy="176.6"/><circle cx="668.7" cy="174.9"/><circle cx="586.5" cy="184.5"/><circle cx="684.6" cy="122.6"/><circle cx="680" cy="129.3"/><circle cx="587.3" cy="168.3"/><circle cx="626.8" cy="168.4"/><circle cx="658.2" cy="191.5"/><circle cx="623.2" cy="141.4"/><circle cx="593.3" cy="140.9"/><circle cx="563" cy="158.8"/><circle cx="560.5" cy="163.5"/><circle cx="656.5" cy="159.8"/><circle cx="610.2" cy="151.6"/><circle cx="573.7" cy="174.4"/><circle cx="651.8" cy="124.7"/><circle cx="565.4" cy="158.7"/><circle cx="588.2" cy="197"/><circle cx="632.3" cy="135.2"/><circle cx="621.2" cy="125.9"/><circle cx="613.7" cy="132.3"/><circle cx="586.3" cy="139.1"/><circle cx="673.8" cy="144"/><circle cx="650.6" cy="158.3"/><circle cx="648.4" cy="152.9"/><circle cx="650.6" cy="136.2"/><circle cx="559.5" cy="162.5"/><circle cx="611.4" cy="136.4"/><circle cx="585.9" cy="166.6"/><circle cx="559.7" cy="120.9"/><circle cx="627.1" cy="159.2"/><circle cx="594" cy="166.1"/><circle cx="575.4" cy="165.6"/><circle cx="574.9" cy="147.4"/><circle cx="631.2" cy="166.9"/><circle cx="669.8" cy="131"/><circle cx="616.2" cy="153.6"/><circle cx="658.6" cy="147.3"/><circle cx="673.1" cy="133.8"/><circle cx="662.9" cy="130.3"/><circle cx="666.1" cy="131.4"/><circle cx="633.8" cy="153"/><circle cx="631.7" cy="130.4"/><circle cx="632.1" cy="178.6"/><circle cx="629.6" cy="138.7"/><circle cx="602.4" cy="140.4"/><circle cx="540.5" cy="147.2"/><circle cx="612.4" cy="182.8"/><circle cx="584.5" cy="149"/><circle cx="660.1" cy="155.5"/><circle cx="605.2" cy="147.5"/><circle cx="620.1" cy="189.2"/><circle cx="582.7" cy="138.2"/><circle cx="596.3" cy="129.5"/><circle cx="616.3" cy="171.5"/><circle cx="557.2" cy="163.3"/><circle cx="628.8" cy="128.2"/><circle cx="612.5" cy="144.9"/><circle cx="569.2" cy="148.6"/><circle cx="637.4" cy="138.3"/><circle cx="595.5" cy="165.5"/><circle cx="607.3" cy="131.3"/><circle cx="557.1" cy="156.9"/><circle cx="682.9" cy="173.2"/><circle cx="653.6" cy="137.8"/><circle cx="659.6" cy="134.6"/><circle cx="618.7" cy="170.9"/><circle cx="653.6" cy="116.2"/><circle cx="631.7" cy="127.6"/><circle cx="641.4" cy="164.4"/><circle cx="610.7" cy="159.5"/><circle cx="557.6" cy="137.3"/><circle cx="658.1" cy="144.6"/><circle cx="539.1" cy="148.5"/><circle cx="608.6" cy="151.9"/><circle cx="574.9" cy="191"/><circle cx="641.4" cy="154.4"/><circle cx="637.6" cy="159.1"/><circle cx="597.7" cy="143.4"/><circle cx="672.5" cy="158.9"/><circle cx="630.9" cy="184.8"/><circle cx="597.7" cy="181.2"/><circle cx="538.8" cy="138.2"/><circle cx="564.3" cy="128.8"/><circle cx="660.4" cy="125.8"/><circle cx="614.7" cy="181.1"/><circle cx="605.4" cy="167.9"/><circle cx="682.7" cy="144.7"/><circle cx="593.3" cy="164.7"/><circle cx="597.8" cy="149.5"/><circle cx="640.3" cy="173.5"/><circle cx="590.1" cy="178.1"/><circle cx="592.2" cy="171"/><circle cx="552.4" cy="142.2"/><circle cx="649.1" cy="163.8"/><circle cx="623.3" cy="147.5"/><circle cx="564.9" cy="160.4"/><circle cx="672.1" cy="132"/><circle cx="622.2" cy="163.9"/><circle cx="585.2" cy="182.8"/><circle cx="608.9" cy="135.1"/><circle cx="639.5" cy="157.9"/><circle cx="616.5" cy="148.2"/><circle cx="582" cy="126.3"/><circle cx="613.7" cy="185.8"/><circle cx="590.7" cy="163"/><circle cx="644" cy="142.5"/><circle cx="671.4" cy="132.9"/><circle cx="657" cy="152.3"/><circle cx="597.8" cy="149.4"/><circle cx="576.5" cy="141"/><circle cx="588.7" cy="145.5"/><circle cx="557.7" cy="143"/><circle cx="665.1" cy="140.2"/><circle cx="680.6" cy="126"/><circle cx="566.4" cy="155.3"/><circle cx="569.4" cy="165"/><circle cx="545.8" cy="121.8"/><circle cx="578.1" cy="167"/><circle cx="570.9" cy="143.4"/><circle cx="668.8" cy="112.1"/><circle cx="602.9" cy="148.7"/><circle cx="597.2" cy="119.6"/><circle cx="687.4" cy="146.6"/><circle cx="624.8" cy="153"/><circle cx="601.4" cy="139.4"/><circle cx="603.8" cy="144.8"/><circle cx="567.8" cy="145.8"/><circle cx="624.9" cy="191.5"/><circle cx="615.2" cy="163.9"/><circle cx="659.6" cy="143.8"/><circle cx="579.8" cy="148.7"/><circle cx="623.3" cy="123.1"/><circle cx="583.4" cy="149.5"/><circle cx="588.5" cy="163.9"/><circle cx="602.9" cy="146.2"/><circle cx="616.5" cy="149.8"/><circle cx="647.6" cy="139.6"/><circle cx="592.3" cy="196.7"/><circle cx="559.9" cy="129.8"/><circle cx="583.6" cy="134.4"/><circle cx="585.4" cy="165"/><circle cx="577.6" cy="130.2"/><circle cx="615.9" cy="162.6"/><circle cx="618.2" cy="163.5"/><circle cx="586.9" cy="196.8"/><circle cx="565.1" cy="171.2"/><circle cx="673.9" cy="155.6"/><circle cx="634.9" cy="160.9"/><circle cx="601.7" cy="153.6"/><circle cx="595.5" cy="143.6"/><circle cx="573.8" cy="153.5"/><circle cx="576.5" cy="153.5"/><circle cx="591.1" cy="136.4"/><circle cx="569.8" cy="178.5"/><circle cx="559.2" cy="149.4"/><circle cx="642.5" cy="148.4"/><circle cx="578.3" cy="178.7"/><circle cx="605.1" cy="148.2"/><circle cx="566.2" cy="157.4"/><circle cx="665.1" cy="136.3"/><circle cx="642.3" cy="170.8"/><circle cx="639.2" cy="169.6"/><circle cx="627.2" cy="176"/><circle cx="615.8" cy="122.8"/><circle cx="610.9" cy="146.1"/><circle cx="591.5" cy="154.5"/><circle cx="619" cy="151.1"/><circle cx="633.3" cy="116.2"/><circle cx="598.2" cy="128.1"/><circle cx="666.1" cy="160.5"/><circle cx="572.4" cy="170.7"/><circle cx="658.1" cy="156.4"/><circle cx="605.1" cy="158"/><circle cx="579.9" cy="134.9"/><circle cx="643.9" cy="135.3"/><circle cx="630.7" cy="124.9"/><circle cx="628.9" cy="150.2"/><circle cx="633.6" cy="168.1"/><circle cx="619.5" cy="140.8"/><circle cx="605.1" cy="144"/><circle cx="556.2" cy="136.8"/><circle cx="607.5" cy="185.4"/><circle cx="573.7" cy="179.9"/><circle cx="664.5" cy="119.9"/><circle cx="548.4" cy="141.7"/><circle cx="575.1" cy="134.1"/><circle cx="626.2" cy="168.6"/><circle cx="675.5" cy="123.9"/><circle cx="627.9" cy="169.9"/><circle cx="606.8" cy="123.5"/><circle cx="559.6" cy="156.7"/><circle cx="609.1" cy="133.1"/><circle cx="684.6" cy="130.4"/><circle cx="641.7" cy="137.6"/><circle cx="555.4" cy="135.3"/><circle cx="600.9" cy="152.4"/><circle cx="581.5" cy="162.3"/><circle cx="676" cy="133.2"/><circle cx="602" cy="170.6"/><circle cx="650.7" cy="173.2"/><circle cx="656.6" cy="148.7"/><circle cx="561.6" cy="156.6"/><circle cx="654.8" cy="168"/><circle cx="601.6" cy="175.6"/><circle cx="583.9" cy="139.4"/><circle cx="577.9" cy="165.1"/><circle cx="621.7" cy="151.1"/><circle cx="590.8" cy="192.1"/><circle cx="649.3" cy="162.4"/><circle cx="631.4" cy="135.1"/><circle cx="600.9" cy="168.2"/><circle cx="646.2" cy="134.3"/><circle cx="671.7" cy="149.4"/><circle cx="572.9" cy="163.6"/><circle cx="592.6" cy="141.6"/><circle cx="654.6" cy="139.9"/><circle cx="645.6" cy="162.7"/><circle cx="663.4" cy="167.2"/><circle cx="573.1" cy="163.3"/><circle cx="557.4" cy="146.5"/><circle cx="582" cy="131.2"/><circle cx="621.7" cy="190.1"/><circle cx="584.8" cy="180.3"/><circle cx="597.2" cy="185.6"/><circle cx="577.6" cy="186.7"/><circle cx="591.9" cy="142.3"/><circle cx="576.5" cy="163.2"/><circle cx="631.5" cy="170.4"/><circle cx="648.7" cy="145.9"/><circle cx="608.5" cy="146.7"/><circle cx="593.5" cy="128.8"/><circle cx="638.1" cy="167.2"/><circle cx="680.8" cy="153.1"/><circle cx="572.8" cy="135"/><circle cx="634.6" cy="163.7"/><circle cx="640.2" cy="153.2"/><circle cx="559" cy="134.6"/><circle cx="562.9" cy="134.6"/><circle cx="653.7" cy="154.9"/><circle cx="571.8" cy="157"/><circle cx="663" cy="160.4"/><circle cx="601.3" cy="161.8"/><circle cx="623.1" cy="120.4"/><circle cx="618.9" cy="154.1"/><circle cx="660.9" cy="160.6"/><circle cx="603.9" cy="136.9"/><circle cx="586.3" cy="158.5"/><circle cx="624.1" cy="197.7"/><circle cx="657.5" cy="130.7"/><circle cx="610.8" cy="133"/><circle cx="557" cy="135.9"/><circle cx="672.3" cy="125"/><circle cx="660.2" cy="159"/><circle cx="571.1" cy="151.2"/><circle cx="610.5" cy="153"/><circle cx="660" cy="152.8"/><circle cx="579.2" cy="150"/><circle cx="655.1" cy="160.9"/><circle cx="638.6" cy="143.8"/><circle cx="556.6" cy="148.1"/><circle cx="671.3" cy="125.2"/><circle cx="614.2" cy="141.1"/><circle cx="646.8" cy="153.1"/><circle cx="659.3" cy="178.2"/><circle cx="660.1" cy="165.4"/><circle cx="668.3" cy="150.3"/><circle cx="595.1" cy="157.7"/><circle cx="616.1" cy="165.6"/><circle cx="633.9" cy="152.7"/><circle cx="612.7" cy="149.3"/><circle cx="583.5" cy="155.4"/><circle cx="581" cy="164.4"/><circle cx="663.8" cy="141.3"/><circle cx="613.4" cy="146.1"/><circle cx="648.4" cy="157.7"/><circle cx="564.7" cy="130"/><circle cx="574.7" cy="168.1"/><circle cx="659.6" cy="192.2"/><circle cx="630.1" cy="150.3"/><circle cx="611.5" cy="174"/><circle cx="604.8" cy="170.6"/><circle cx="602.9" cy="165.1"/><circle cx="582.3" cy="173.3"/><circle cx="677.6" cy="115.8"/><circle cx="623.2" cy="167.7"/><circle cx="673" cy="138.2"/><circle cx="601" cy="169"/><circle cx="606.6" cy="202"/><circle cx="569.6" cy="168.8"/><circle cx="671.2" cy="145.9"/><circle cx="616.9" cy="137.1"/><circle cx="622.5" cy="172.8"/><circle cx="589.6" cy="154.9"/><circle cx="662.7" cy="150"/><circle cx="541" cy="149.6"/><circle cx="608.2" cy="148.2"/><circle cx="643.5" cy="124.9"/><circle cx="563.1" cy="184.5"/><circle cx="631.3" cy="140.9"/><circle cx="668.7" cy="121.1"/><circle cx="635" cy="140.1"/><circle cx="548.9" cy="135.1"/><circle cx="666.2" cy="155"/><circle cx="616.4" cy="175.6"/><circle cx="634.5" cy="151.8"/><circle cx="588.3" cy="153.7"/><circle cx="605.1" cy="155.5"/><circle cx="611.4" cy="125.8"/><circle cx="668.9" cy="128"/><circle cx="577.9" cy="138.5"/><circle cx="694.1" cy="136.3"/><circle cx="548" cy="144.3"/><circle cx="611.1" cy="140.5"/><circle cx="586.2" cy="170.9"/><circle cx="607.2" cy="158.6"/><circle cx="646.4" cy="176.2"/><circle cx="596.3" cy="154.3"/><circle cx="690.1" cy="132.9"/><circle cx="612.7" cy="168.9"/><circle cx="674.9" cy="116.2"/><circle cx="631.6" cy="156.6"/><circle cx="689.6" cy="151.5"/><circle cx="553.5" cy="158.1"/><circle cx="631.7" cy="158.3"/><circle cx="570.9" cy="162"/><circle cx="547.9" cy="152.7"/><circle cx="668.2" cy="154.7"/><circle cx="628.1" cy="152.3"/><circle cx="649.1" cy="157"/><circle cx="567.6" cy="145.3"/><circle cx="621.8" cy="151"/><circle cx="651.4" cy="127"/><circle cx="621.4" cy="156.8"/><circle cx="649" cy="147.6"/><circle cx="596.5" cy="136.3"/><circle cx="631.1" cy="180.8"/><circle cx="633.4" cy="173.1"/><circle cx="566.6" cy="154.8"/><circle cx="623.8" cy="150"/><circle cx="603.9" cy="143.5"/><circle cx="540.4" cy="153.4"/><circle cx="582.6" cy="171.2"/><circle cx="622.3" cy="156.5"/><circle cx="677.3" cy="160.4"/><circle cx="610.1" cy="147.5"/><circle cx="635.7" cy="194.1"/><circle cx="671.9" cy="145"/><circle cx="638.2" cy="141.2"/><circle cx="659.7" cy="147.3"/><circle cx="597.7" cy="165"/><circle cx="647.7" cy="176.3"/><circle cx="576.5" cy="179.4"/><circle cx="585.5" cy="150.2"/><circle cx="667.7" cy="137.2"/><circle cx="608.9" cy="166.6"/><circle cx="619.9" cy="143.5"/><circle cx="589.1" cy="135.7"/><circle cx="670.2" cy="165.2"/><circle cx="566.6" cy="135.2"/><circle cx="630.7" cy="154.1"/><circle cx="612.6" cy="122.7"/><circle cx="584.6" cy="155.7"/><circle cx="581.9" cy="189.5"/><circle cx="633.8" cy="143"/><circle cx="575.4" cy="156.6"/><circle cx="555.6" cy="163.3"/><circle cx="594.5" cy="153.6"/><circle cx="618.2" cy="133.6"/><circle cx="566.5" cy="133.4"/><circle cx="642.9" cy="155.2"/><circle cx="575.2" cy="134.8"/><circle cx="555.8" cy="133.1"/><circle cx="553.9" cy="120.5"/><circle cx="570.4" cy="145.4"/><circle cx="562" cy="146.5"/><circle cx="607.5" cy="153.6"/><circle cx="627.9" cy="158.5"/><circle cx="625.3" cy="135.3"/><circle cx="562.9" cy="133.1"/><circle cx="599.5" cy="166.1"/><circle cx="627.3" cy="132.4"/><circle cx="616.1" cy="148.6"/><circle cx="590.1" cy="185.6"/><circle cx="606.4" cy="161.9"/><circle cx="585.7" cy="134.3"/><circle cx="568.8" cy="168.7"/><circle cx="635.9" cy="152.6"/><circle cx="679.3" cy="149.2"/><circle cx="689.6" cy="138"/><circle cx="652.6" cy="157.3"/><circle cx="653.2" cy="139.9"/><circle cx="548.6" cy="153"/><circle cx="618" cy="130.8"/><circle cx="641.2" cy="170.3"/><circle cx="559.8" cy="124.3"/><circle cx="618.1" cy="132.2"/><circle cx="666.5" cy="138.8"/><circle cx="631.3" cy="118.8"/><circle cx="653.2" cy="136.2"/><circle cx="686.3" cy="160.1"/><circle cx="622.9" cy="130.9"/><circle cx="666.1" cy="138.1"/><circle cx="614.2" cy="141.3"/><circle cx="566.1" cy="124.1"/><circle cx="612.5" cy="134.1"/><circle cx="675" cy="132.2"/><circle cx="595.9" cy="172.7"/><circle cx="595" cy="157.4"/><circle cx="671.5" cy="170.7"/><circle cx="638.7" cy="147.8"/><circle cx="656" cy="122.9"/><circle cx="646.8" cy="144.2"/><circle cx="589.2" cy="151.8"/><circle cx="640.7" cy="121.3"/><circle cx="592.8" cy="134.7"/><circle cx="647.6" cy="159.6"/><circle cx="549.1" cy="148.7"/><circle cx="661.7" cy="134.6"/><circle cx="663.4" cy="156.7"/><circle cx="576.2" cy="118.4"/><circle cx="610.7" cy="137.1"/><circle cx="622.4" cy="173.4"/><circle cx="630.1" cy="159.8"/><circle cx="567.8" cy="153.5"/><circle cx="573.7" cy="135.1"/><circle cx="672.9" cy="152.3"/><circle cx="628.5" cy="134.2"/><circle cx="615" cy="160.3"/><circle cx="631.1" cy="139.4"/><circle cx="570.4" cy="168.2"/><circle cx="576.7" cy="152.1"/><circle cx="669.1" cy="154.7"/><circle cx="622.8" cy="155.6"/><circle cx="650.9" cy="142.4"/><circle cx="672" cy="126.9"/><circle cx="630.6" cy="142.3"/><circle cx="636.1" cy="163.7"/><circle cx="638.8" cy="149.6"/><circle cx="584.8" cy="158.4"/><circle cx="541.9" cy="155.2"/><circle cx="573.6" cy="159.1"/><circle cx="682.2" cy="133.6"/><circle cx="669" cy="178.8"/><circle cx="602.9" cy="149.8"/><circle cx="604.7" cy="136.7"/><circle cx="658.4" cy="145"/><circle cx="610" cy="172.5"/><circle cx="564.6" cy="128.1"/><circle cx="667.6" cy="143.6"/><circle cx="635.9" cy="133.2"/><circle cx="622.5" cy="133.1"/><circle cx="622.9" cy="137.5"/><circle cx="591.3" cy="179"/><circle cx="628.6" cy="143.9"/><circle cx="606" cy="166"/><circle cx="601.9" cy="140.8"/><circle cx="667" cy="151.4"/><circle cx="578.8" cy="161.1"/><circle cx="638.5" cy="151.5"/><circle cx="650" cy="119.7"/><circle cx="638.8" cy="124.4"/><circle cx="653.6" cy="132.1"/><circle cx="634.5" cy="166.9"/><circle cx="630.5" cy="160.7"/><circle cx="635.8" cy="177.9"/><circle cx="606" cy="176.5"/><circle cx="558.1" cy="181.6"/><circle cx="578.2" cy="141.6"/><circle cx="612.7" cy="140.8"/><circle cx="589.3" cy="149"/><circle cx="601.5" cy="182.9"/><circle cx="618.6" cy="142.3"/><circle cx="566.9" cy="140.9"/><circle cx="557.9" cy="143.3"/><circle cx="594" cy="169.5"/><circle cx="569.2" cy="139.5"/><circle cx="574.3" cy="143"/><circle cx="547.8" cy="135.2"/><circle cx="665.7" cy="150.9"/><circle cx="637.2" cy="159.1"/><circle cx="592.8" cy="186.5"/><circle cx="589.9" cy="173.1"/><circle cx="589" cy="155.4"/><circle cx="558.7" cy="186.9"/><circle cx="647.1" cy="178.2"/><circle cx="600.9" cy="159.8"/><circle cx="637.9" cy="138.3"/><circle cx="672" cy="140.5"/><circle cx="543.9" cy="130.4"/><circle cx="686.5" cy="116.8"/><circle cx="667.7" cy="109"/><circle cx="625" cy="164.6"/><circle cx="649.7" cy="150"/><circle cx="587.1" cy="175.5"/><circle cx="598.7" cy="137"/><circle cx="701.7" cy="109.5"/><circle cx="604.5" cy="152.5"/><circle cx="617.1" cy="137.2"/><circle cx="586.5" cy="144.4"/><circle cx="657.2" cy="162.3"/><circle cx="568" cy="112.8"/><circle cx="641" cy="162.2"/><circle cx="639.4" cy="117.9"/><circle cx="574.9" cy="167.4"/><circle cx="568.2" cy="147.9"/><circle cx="547.2" cy="142"/><circle cx="570.5" cy="148"/><circle cx="673.8" cy="137.8"/><circle cx="609.7" cy="171.4"/><circle cx="601.8" cy="159.8"/><circle cx="614.3" cy="118.9"/><circle cx="592.8" cy="171.6"/><circle cx="589.1" cy="142.7"/><circle cx="645.2" cy="139.2"/><circle cx="574.4" cy="170.5"/><circle cx="626.4" cy="169"/><circle cx="648.4" cy="136.7"/><circle cx="573.4" cy="131"/><circle cx="596.6" cy="139.6"/><circle cx="575.1" cy="153.2"/><circle cx="565" cy="144.8"/><circle cx="620.9" cy="145.7"/><circle cx="587.2" cy="169.1"/><circle cx="642.1" cy="139.6"/><circle cx="615.6" cy="181.5"/><circle cx="633.3" cy="131.3"/><circle cx="591.3" cy="141"/><circle cx="616.6" cy="180"/><circle cx="623.1" cy="177.5"/><circle cx="685.5" cy="124.5"/><circle cx="591.4" cy="138.1"/><circle cx="600.4" cy="111"/><circle cx="626.2" cy="175.4"/><circle cx="583.5" cy="163.8"/><circle cx="661.5" cy="149.5"/><circle cx="623.8" cy="159.6"/><circle cx="664.6" cy="159.3"/><circle cx="566" cy="131.2"/><circle cx="597" cy="153.6"/><circle cx="581" cy="164.7"/><circle cx="589" cy="196.8"/><circle cx="611.9" cy="127.7"/><circle cx="616.1" cy="172.5"/><circle cx="624.3" cy="163.4"/><circle cx="651.9" cy="162.9"/><circle cx="580.6" cy="172.2"/><circle cx="616.8" cy="194.4"/><circle cx="635.6" cy="147.6"/><circle cx="614.2" cy="168.5"/><circle cx="616.1" cy="154"/><circle cx="577" cy="158.4"/><circle cx="617.6" cy="164.3"/><circle cx="579.8" cy="157.3"/><circle cx="637.5" cy="137.4"/><circle cx="618.4" cy="174.3"/><circle cx="581" cy="140.6"/><circle cx="649" cy="165"/><circle cx="651.3" cy="143.1"/><circle cx="614.7" cy="206.8"/><circle cx="665.1" cy="144.9"/><circle cx="611.8" cy="168.5"/><circle cx="632.6" cy="158.6"/><circle cx="631.4" cy="125.5"/><circle cx="604.6" cy="189.4"/><circle cx="618.4" cy="130.6"/><circle cx="638.3" cy="156.6"/><circle cx="686.9" cy="122.7"/><circle cx="583" cy="153.6"/><circle cx="544.3" cy="147.2"/><circle cx="597.3" cy="181.1"/><circle cx="620.5" cy="138"/><circle cx="664.2" cy="125.5"/><circle cx="655.9" cy="168.1"/><circle cx="614.8" cy="177.1"/><circle cx="597.9" cy="175.3"/><circle cx="602.5" cy="158.3"/><circle cx="607.7" cy="170.7"/><circle cx="553.7" cy="178.6"/><circle cx="598.3" cy="154"/><circle cx="599.7" cy="180.3"/><circle cx="609.2" cy="175.8"/><circle cx="643.7" cy="176.7"/><circle cx="638.5" cy="146.8"/><circle cx="607.3" cy="142.4"/><circle cx="625.5" cy="137.9"/><circle cx="626.8" cy="174.3"/><circle cx="608.9" cy="140.6"/><circle cx="644.1" cy="178.3"/><circle cx="623.8" cy="141.7"/><circle cx="596.5" cy="169.4"/><circle cx="578.2" cy="180.2"/><circle cx="541.2" cy="126"/><circle cx="589.5" cy="166"/><circle cx="670.4" cy="162.8"/><circle cx="648.4" cy="152.2"/><circle cx="588.7" cy="138.2"/><circle cx="670.5" cy="142.1"/><circle cx="546.5" cy="145.1"/><circle cx="658.6" cy="150.3"/><circle cx="573.6" cy="168.7"/><circle cx="643.6" cy="156.1"/><circle cx="604.7" cy="211.4"/><circle cx="661.7" cy="153.6"/><circle cx="647.3" cy="165.7"/><circle cx="553.5" cy="125.6"/><circle cx="597.8" cy="146.9"/><circle cx="628.1" cy="184.1"/><circle cx="608.1" cy="192.5"/><circle cx="648.9" cy="128.8"/><circle cx="629.5" cy="171.7"/><circle cx="579.8" cy="155.9"/><circle cx="623.8" cy="139.7"/><circle cx="592.2" cy="166.2"/><circle cx="568" cy="157.6"/><circle cx="571.4" cy="169.3"/><circle cx="628.3" cy="137.1"/><circle cx="615.6" cy="126"/><circle cx="617" cy="156.4"/><circle cx="570.8" cy="161.4"/><circle cx="579.6" cy="146.7"/><circle cx="610.1" cy="153.3"/><circle cx="561.3" cy="140.2"/><circle cx="643.6" cy="149.4"/><circle cx="574.9" cy="178.3"/><circle cx="605.9" cy="171.4"/><circle cx="554.4" cy="147.2"/><circle cx="640.4" cy="146"/><circle cx="628.8" cy="164.3"/><circle cx="687.2" cy="116.1"/><circle cx="588.7" cy="158.2"/><circle cx="582.1" cy="145.7"/><circle cx="619" cy="160.2"/><circle cx="595.5" cy="159.9"/><circle cx="605.9" cy="134.6"/><circle cx="598.3" cy="143"/><circle cx="553.2" cy="182.3"/><circle cx="606.9" cy="139.9"/><circle cx="647.2" cy="172"/><circle cx="579.9" cy="155.8"/><circle cx="607.4" cy="159.9"/><circle cx="603.1" cy="170.2"/><circle cx="647.3" cy="151.1"/><circle cx="555.5" cy="152.2"/><circle cx="630.3" cy="138.5"/><circle cx="570.2" cy="135.9"/><circle cx="604.2" cy="138"/><circle cx="581.6" cy="127.2"/><circle cx="539.7" cy="143.6"/><circle cx="585.9" cy="162.4"/><circle cx="614.3" cy="136.3"/><circle cx="613.7" cy="136.3"/><circle cx="620.1" cy="146.8"/><circle cx="652.8" cy="149.1"/><circle cx="560.4" cy="151.8"/><circle cx="613" cy="149.8"/><circle cx="619.6" cy="158.7"/><circle cx="570.1" cy="162"/><circle cx="627.7" cy="132.5"/><circle cx="586" cy="159.7"/><circle cx="632.9" cy="145.8"/><circle cx="603.7" cy="177.2"/><circle cx="546.8" cy="150.8"/><circle cx="610.8" cy="155.8"/><circle cx="559.6" cy="134.1"/><circle cx="672.6" cy="123.5"/><circle cx="590.1" cy="152.5"/><circle cx="624.5" cy="176.6"/><circle cx="627.4" cy="147.5"/><circle cx="562" cy="168.4"/><circle cx="601.1" cy="164.6"/><circle cx="578.4" cy="176.6"/><circle cx="594.9" cy="177.1"/><circle cx="615" cy="144.7"/><circle cx="613.7" cy="156.6"/><circle cx="615.3" cy="176"/><circle cx="615.4" cy="178.3"/><circle cx="590.6" cy="161.3"/><circle cx="574.5" cy="142.7"/><circle cx="590.1" cy="145.7"/><circle cx="659.8" cy="112.3"/><circle cx="631.8" cy="119.7"/><circle cx="640.3" cy="159.5"/><circle cx="672.2" cy="145.5"/><circle cx="569.4" cy="172.7"/><circle cx="573.6" cy="173.4"/><circle cx="681.6" cy="125.6"/><circle cx="585.4" cy="147.9"/><circle cx="663.2" cy="151.1"/><circle cx="557" cy="172.4"/><circle cx="581.4" cy="174.1"/><circle cx="580.2" cy="124.5"/><circle cx="632" cy="166.5"/><circle cx="623.7" cy="148.7"/><circle cx="566.9" cy="149.5"/><circle cx="679.1" cy="114"/><circle cx="660.5" cy="130.8"/><circle cx="582.3" cy="142.5"/><circle cx="542.9" cy="163.2"/><circle cx="658.9" cy="162.3"/><circle cx="617.1" cy="157.2"/><circle cx="693.3" cy="132.8"/><circle cx="624.4" cy="127.1"/><circle cx="578.6" cy="179.7"/><circle cx="626" cy="162.6"/><circle cx="662.4" cy="136.8"/><circle cx="570" cy="145.8"/><circle cx="572.9" cy="151.5"/><circle cx="648.7" cy="107.6"/><circle cx="593.2" cy="159"/><circle cx="551.5" cy="152.6"/><circle cx="560.2" cy="153.8"/><circle cx="595.8" cy="160.8"/><circle cx="601.8" cy="133.5"/><circle cx="620.1" cy="165.3"/><circle cx="601.9" cy="141.9"/><circle cx="613.5" cy="150.8"/><circle cx="619.1" cy="166.1"/><circle cx="613.3" cy="173.1"/><circle cx="620.5" cy="167.3"/><circle cx="560.4" cy="165"/><circle cx="529.8" cy="66.1"/><circle cx="672.2" cy="132"/><circle cx="565.2" cy="137.2"/><circle cx="624" cy="138.2"/><circle cx="636.2" cy="154.7"/><circle cx="574.7" cy="130.3"/><circle cx="631.7" cy="186.5"/><circle cx="663.5" cy="170.5"/><circle cx="658.8" cy="134.6"/><circle cx="685.8" cy="128.1"/><circle cx="680.5" cy="151.7"/><circle cx="640.3" cy="163.6"/><circle cx="634.8" cy="167.4"/><circle cx="640.9" cy="176.8"/><circle cx="622.9" cy="146.2"/><circle cx="636.4" cy="154.4"/><circle cx="654.4" cy="145.6"/><circle cx="672.6" cy="167.1"/><circle cx="629.5" cy="172.6"/><circle cx="638.6" cy="165.7"/><circle cx="656.5" cy="133.4"/><circle cx="682.3" cy="126.4"/><circle cx="666" cy="143.4"/><circle cx="567.7" cy="107.1"/><circle cx="575.2" cy="123.3"/><circle cx="575.7" cy="149.8"/><circle cx="642.9" cy="150.4"/><circle cx="665" cy="167.3"/><circle cx="622.5" cy="162.3"/><circle cx="643.8" cy="163.8"/><circle cx="623.4" cy="143.6"/><circle cx="597.6" cy="143.5"/><circle cx="618" cy="158.7"/><circle cx="650" cy="143.5"/><circle cx="644.8" cy="142.6"/><circle cx="568.8" cy="153.2"/><circle cx="657.9" cy="173.7"/><circle cx="608.2" cy="126.9"/><circle cx="649.5" cy="170.4"/><circle cx="588.8" cy="138.7"/><circle cx="642.4" cy="118.5"/><circle cx="622" cy="128.5"/><circle cx="605.3" cy="154"/><circle cx="594" cy="131.2"/><circle cx="610.6" cy="166.8"/><circle cx="546.9" cy="158.2"/><circle cx="652" cy="152.5"/><circle cx="655.4" cy="146.7"/><circle cx="599" cy="153.3"/><circle cx="561.4" cy="158.8"/><circle cx="654.8" cy="152.7"/><circle cx="641.9" cy="177"/><circle cx="604.7" cy="163.4"/><circle cx="652.8" cy="147.8"/><circle cx="575" cy="144.3"/><circle cx="592.2" cy="135"/><circle cx="635.8" cy="169.5"/><circle cx="612.9" cy="175.5"/><circle cx="593.1" cy="149.6"/><circle cx="643.7" cy="177"/><circle cx="629.8" cy="158.5"/><circle cx="546.8" cy="147.1"/><circle cx="640.9" cy="138.7"/><circle cx="616.2" cy="148.4"/><circle cx="628" cy="143.9"/><circle cx="654.7" cy="165.8"/><circle cx="587.1" cy="181.4"/><circle cx="644.2" cy="147.5"/><circle cx="647.3" cy="122.1"/><circle cx="682.4" cy="145.8"/><circle cx="643.2" cy="177.8"/><circle cx="594.2" cy="160.5"/><circle cx="572.3" cy="134.9"/><circle cx="598.2" cy="161.1"/><circle cx="578.1" cy="165.8"/><circle cx="612.7" cy="161.1"/><circle cx="660.2" cy="137.2"/><circle cx="668.9" cy="167.7"/><circle cx="635.4" cy="175.1"/><circle cx="592.3" cy="145.6"/><circle cx="594.6" cy="125"/><circle cx="655" cy="131.7"/><circle cx="580.4" cy="169.5"/><circle cx="651.5" cy="162.4"/><circle cx="615.5" cy="182.5"/><circle cx="677.4" cy="155.4"/><circle cx="597.7" cy="146.6"/><circle cx="683.5" cy="126.9"/><circle cx="560.2" cy="151.4"/><circle cx="583.7" cy="139"/><circle cx="553.4" cy="164.9"/><circle cx="586.8" cy="127.8"/><circle cx="640.2" cy="168.3"/><circle cx="646.4" cy="159.3"/><circle cx="629.1" cy="165.1"/><circle cx="569.7" cy="165.5"/><circle cx="563.5" cy="136.7"/><circle cx="670.9" cy="99"/><circle cx="602.2" cy="147.3"/><circle cx="555.2" cy="126.9"/><circle cx="680.2" cy="154.7"/><circle cx="608.4" cy="162.1"/><circle cx="575.1" cy="193.2"/><circle cx="597.4" cy="172.1"/><circle cx="627.4" cy="133.4"/><circle cx="590.3" cy="178.5"/><circle cx="581.1" cy="153.4"/><circle cx="609.2" cy="202.7"/><circle cx="635.6" cy="196.5"/><circle cx="645.6" cy="141.6"/><circle cx="598.4" cy="170"/><circle cx="548.8" cy="132.9"/><circle cx="628.2" cy="123.9"/><circle cx="563.3" cy="161.5"/><circle cx="593.1" cy="146.1"/><circle cx="661.7" cy="111.4"/><circle cx="671.8" cy="150"/><circle cx="579.1" cy="126.2"/><circle cx="662.2" cy="155.6"/><circle cx="653.3" cy="176.3"/><circle cx="678.7" cy="134.8"/><circle cx="607.4" cy="182.1"/><circle cx="625.1" cy="156"/><circle cx="544.8" cy="130.3"/><circle cx="576" cy="146.1"/><circle cx="661.7" cy="139.8"/><circle cx="602.2" cy="174.4"/><circle cx="683.7" cy="125"/><circle cx="613.2" cy="169.4"/><circle cx="646.5" cy="162.4"/><circle cx="593.2" cy="157"/><circle cx="579.1" cy="131.3"/><circle cx="649" cy="145.5"/><circle cx="585.9" cy="165.5"/><circle cx="652.8" cy="171.1"/><circle cx="570.1" cy="130.7"/><circle cx="559.8" cy="128.8"/><circle cx="602.1" cy="157.3"/><circle cx="562.8" cy="162.3"/><circle cx="571.9" cy="124.6"/><circle cx="643.5" cy="157.7"/><circle cx="677.7" cy="135.8"/><circle cx="565.3" cy="140.4"/><circle cx="608.7" cy="141.5"/><circle cx="662.7" cy="139.8"/><circle cx="614.7" cy="144.4"/><circle cx="546.6" cy="144.9"/><circle cx="643.7" cy="137.1"/><circle cx="645.6" cy="180.9"/><circle cx="663.5" cy="147.7"/><circle cx="583.9" cy="151.6"/><circle cx="686.8" cy="129.9"/><circle cx="685.6" cy="143.1"/><circle cx="551.2" cy="121.5"/><circle cx="580.3" cy="126.8"/><circle cx="616.5" cy="196.5"/><circle cx="603.8" cy="181"/><circle cx="635.4" cy="144.4"/><circle cx="666.3" cy="134.6"/><circle cx="577" cy="156.7"/><circle cx="611.7" cy="165.6"/><circle cx="572.8" cy="145.3"/><circle cx="620.3" cy="148"/><circle cx="653.7" cy="169.7"/><circle cx="664.8" cy="131.3"/><circle cx="681.9" cy="155.5"/><circle cx="680.5" cy="140.3"/><circle cx="631.8" cy="147.3"/><circle cx="539.1" cy="121"/><circle cx="616.6" cy="115.1"/><circle cx="549" cy="147"/><circle cx="655.2" cy="160.9"/><circle cx="567.1" cy="142.8"/><circle cx="668.7" cy="161.1"/><circle cx="635.8" cy="150.4"/><circle cx="607.6" cy="130.7"/><circle cx="611.1" cy="177.7"/><circle cx="650.1" cy="175.5"/><circle cx="559.3" cy="160.8"/><circle cx="586.1" cy="141.6"/><circle cx="665.8" cy="144.6"/><circle cx="648.5" cy="137.7"/><circle cx="670" cy="150"/><circle cx="658.8" cy="163.1"/><circle cx="565.6" cy="168"/><circle cx="597.8" cy="162.7"/><circle cx="624.7" cy="159.7"/><circle cx="616.1" cy="177.2"/><circle cx="534.4" cy="112.1"/><circle cx="658.7" cy="142.2"/><circle cx="686.2" cy="165.8"/><circle cx="675.5" cy="132.6"/><circle cx="575.9" cy="158.3"/><circle cx="634.3" cy="162.3"/><circle cx="531.4" cy="123.6"/><circle cx="684.6" cy="146.3"/><circle cx="538.9" cy="113.9"/><circle cx="663.4" cy="170.7"/><circle cx="668.6" cy="161.3"/><circle cx="559.6" cy="184.1"/><circle cx="612.7" cy="175.6"/><circle cx="606" cy="177"/><circle cx="631.6" cy="192.3"/><circle cx="656.4" cy="156.6"/><circle cx="643.3" cy="161.6"/><circle cx="601.2" cy="159.2"/><circle cx="682.2" cy="159.7"/><circle cx="604.2" cy="171.7"/><circle cx="628.1" cy="142.2"/><circle cx="624" cy="172.7"/><circle cx="628.4" cy="153.1"/><circle cx="611.1" cy="155.4"/><circle cx="565.2" cy="163.3"/><circle cx="620.1" cy="139.4"/><circle cx="677.1" cy="171.2"/><circle cx="609.7" cy="159.8"/><circle cx="592.4" cy="149.6"/><circle cx="562.4" cy="157.8"/><circle cx="650.7" cy="161.8"/><circle cx="693.9" cy="145.9"/><circle cx="669.4" cy="126.9"/><circle cx="613.2" cy="161.3"/><circle cx="554.9" cy="147.7"/><circle cx="674.1" cy="149.3"/><circle cx="675.3" cy="177.5"/><circle cx="572.4" cy="158.1"/><circle cx="646.7" cy="182.1"/><circle cx="584.6" cy="144.1"/><circle cx="585.6" cy="194.9"/><circle cx="552.2" cy="162.3"/><circle cx="654.2" cy="146.9"/><circle cx="627.7" cy="129.7"/><circle cx="636.6" cy="142.4"/><circle cx="675.1" cy="149.4"/><circle cx="574.1" cy="177.4"/><circle cx="615.4" cy="130.5"/><circle cx="568.4" cy="137.2"/><circle cx="580.7" cy="144.5"/><circle cx="659.4" cy="157.8"/><circle cx="573.2" cy="139.7"/><circle cx="623.7" cy="160.7"/><circle cx="613.9" cy="156.1"/><circle cx="640.1" cy="143.9"/><circle cx="578" cy="146.9"/><circle cx="632.6" cy="173.1"/><circle cx="652.6" cy="186.9"/><circle cx="596.2" cy="117.3"/><circle cx="591.3" cy="176.5"/><circle cx="628.7" cy="146"/><circle cx="606.4" cy="164.6"/><circle cx="561.9" cy="140.4"/><circle cx="680.8" cy="160.3"/><circle cx="697.1" cy="145.3"/><circle cx="594" cy="175.2"/><circle cx="653.1" cy="140"/><circle cx="622.1" cy="173.9"/><circle cx="667.6" cy="135.5"/><circle cx="651" cy="154"/><circle cx="579.5" cy="143.5"/><circle cx="571.7" cy="149.8"/><circle cx="614.2" cy="184.7"/><circle cx="629.8" cy="145.6"/><circle cx="637" cy="173.4"/><circle cx="648.2" cy="134.6"/><circle cx="656.1" cy="141.4"/><circle cx="653" cy="160.4"/><circle cx="574.7" cy="137.6"/><circle cx="661.5" cy="168.9"/><circle cx="630.3" cy="130.6"/><circle cx="642.1" cy="181.3"/><circle cx="595.1" cy="152.4"/><circle cx="628.1" cy="154.3"/><circle cx="541.8" cy="166.8"/><circle cx="660.7" cy="122.8"/><circle cx="659.4" cy="174.5"/><circle cx="684.1" cy="142.6"/><circle cx="665.4" cy="138.6"/><circle cx="586.7" cy="142.6"/><circle cx="602.4" cy="181.4"/><circle cx="622.1" cy="128.3"/><circle cx="506.6" cy="114.6"/><circle cx="513.6" cy="114.6"/><circle cx="524.2" cy="116.4"/><circle cx="532.4" cy="116.4"/><circle cx="544.7" cy="109.5"/><circle cx="518.5" cy="128.3"/><circle cx="530.8" cy="135.2"/><circle cx="518.5" cy="143.9"/><circle cx="534.1" cy="167.9"/><circle cx="558.6" cy="199"/><circle cx="596.3" cy="213.9"/><circle cx="627.4" cy="200.6"/><circle cx="717.5" cy="82"/><circle cx="724.1" cy="122.9"/><circle cx="708.5" cy="140.1"/><circle cx="689.7" cy="163.8"/><circle cx="696.2" cy="113.1"/><circle cx="689.7" cy="119.6"/><circle cx="596.9" cy="103.1"/><circle cx="559.1" cy="202.3"/></g>
<rect x="441.5" y="10.9" width="325.1" height="233.1" fill="none" stroke="#444" stroke-width="1.5"/>
<path d="M449.7 244v4M490.6 244v4M531.6 244v4M572.5 244v4M613.5 244v4M654.5 244v4M695.4 244v4M736.4 244v4" stroke="#444" stroke-width="1.0"/>
<text x="449.7" y="260.8" font-size="12.1" text-anchor="middle" fill="#262626" >−20</text>
<text x="490.6" y="260.8" font-size="12.1" text-anchor="middle" fill="#262626" >−15</text>
<text x="531.6" y="260.8" font-size="12.1" text-anchor="middle" fill="#262626" >−10</text>
<text x="572.5" y="260.8" font-size="12.1" text-anchor="middle" fill="#262626" >−5</text>
<text x="613.5" y="260.8" font-size="12.1" text-anchor="middle" fill="#262626" >0</text>
<text x="654.5" y="260.8" font-size="12.1" text-anchor="middle" fill="#262626" >5</text>
<text x="695.4" y="260.8" font-size="12.1" text-anchor="middle" fill="#262626" >10</text>
<text x="736.4" y="260.8" font-size="12.1" text-anchor="middle" fill="#262626" >15</text>
<path d="M441.5 219.4h-4M441.5 186.7h-4M441.5 154h-4M441.5 121.3h-4M441.5 88.6h-4M441.5 55.8h-4M441.5 23.1h-4" stroke="#444" stroke-width="1.0"/>
<text x="433.2" y="225.3" font-size="12.1" text-anchor="end" fill="#262626" >−4</text>
<text x="433.2" y="192.6" font-size="12.1" text-anchor="end" fill="#262626" >−2</text>
<text x="433.2" y="159.9" font-size="12.1" text-anchor="end" fill="#262626" >0</text>
<text x="433.2" y="127.2" font-size="12.1" text-anchor="end" fill="#262626" >2</text>
<text x="433.2" y="94.5" font-size="12.1" text-anchor="end" fill="#262626" >4</text>
<text x="433.2" y="61.7" font-size="12.1" text-anchor="end" fill="#262626" >6</text>
<text x="433.2" y="29" font-size="12.1" text-anchor="end" fill="#262626" >8</text>
<text x="604" y="276.7" font-size="11.5" text-anchor="middle" fill="#262626" >x_1</text>
<text x="411.3" y="129.9" font-size="11.5" text-anchor="middle" fill="#262626" transform="rotate(-90 411.3 129.9)">x_2</text>
<rect x="523.3" y="18.6" width="235.5" height="49.5" rx="2.5" fill="#fff" fill-opacity="0.8" stroke="#d0d0d0" stroke-width="1"/>
<circle cx="543.9" cy="32.3" r="3.8" fill="#ff7f0e" fill-opacity="0.7"/>
<text x="570.6" y="36.7" font-size="14.5" text-anchor="start" fill="#262626" textLength="97.4" lengthAdjust="spacingAndGlyphs" >True samples</text>
<circle cx="543.9" cy="54.8" r="3.8" fill="#1f77b4" fill-opacity="0.7"/>
<text x="570.6" y="59.2" font-size="14.5" text-anchor="start" fill="#262626" textLength="181" lengthAdjust="spacingAndGlyphs" >Adaptive i-SIR algorithm</text>
<g fill="#ff7f0e" fill-opacity=".7"><circle cx="194.1" cy="509.8"/><circle cx="254.4" cy="494"/><circle cx="257.9" cy="516.6"/><circle cx="230.2" cy="496.2"/><circle cx="283.7" cy="499.6"/><circle cx="145.6" cy="506.1"/><circle cx="173.9" cy="505.7"/><circle cx="182.2" cy="504.2"/><circle cx="244.8" cy="513.2"/><circle cx="236.6" cy="516.5"/><circle cx="235.7" cy="518.4"/><circle cx="270.6" cy="527.4"/><circle cx="200.9" cy="508.7"/><circle cx="247.2" cy="495"/><circle cx="182.2" cy="504.8"/><circle cx="281.3" cy="512.2"/><circle cx="188" cy="506.9"/><circle cx="182.8" cy="507.1"/><circle cx="239" cy="497.4"/><circle cx="161.5" cy="507"/><circle cx="281.1" cy="508.7"/><circle cx="186.8" cy="504.1"/><circle cx="299.5" cy="523.7"/><circle cx="244" cy="494.9"/><circle cx="291.6" cy="515.2"/><circle cx="154" cy="505.4"/><circle cx="201.4" cy="508.8"/><circle cx="289.3" cy="498.8"/><circle cx="267.8" cy="488.9"/><circle cx="295.2" cy="535.9"/><circle cx="198.5" cy="502"/><circle cx="244.6" cy="515.3"/><circle cx="230.9" cy="513.4"/><circle cx="263.2" cy="517.6"/><circle cx="307.1" cy="497.9"/><circle cx="246.3" cy="494.5"/><circle cx="181.4" cy="507.4"/><circle cx="284.5" cy="506.3"/><circle cx="206.9" cy="500.5"/><circle cx="269.4" cy="524"/><circle cx="212.2" cy="512.7"/><circle cx="185.5" cy="507.2"/><circle cx="244.9" cy="495"/><circle cx="281.3" cy="515.6"/><circle cx="145.6" cy="506.1"/><circle cx="277.3" cy="497.9"/><circle cx="202.3" cy="508.1"/><circle cx="302.1" cy="541.9"/><circle cx="308.7" cy="525.6"/><circle cx="195.4" cy="508.1"/><circle cx="303.4" cy="532"/><circle cx="195.5" cy="503.4"/><circle cx="225.3" cy="497.8"/><circle cx="169.4" cy="504.4"/><circle cx="190.4" cy="507.7"/><circle cx="265.6" cy="520.8"/><circle cx="183.7" cy="507.2"/><circle cx="301.5" cy="491.5"/><circle cx="237" cy="514.3"/><circle cx="231.2" cy="497.8"/><circle cx="260.4" cy="491.1"/><circle cx="178.4" cy="504.2"/><circle cx="154.3" cy="505.2"/><circle cx="177.7" cy="503.2"/><circle cx="207.7" cy="502"/><circle cx="191.1" cy="507.9"/><circle cx="231.3" cy="515"/><circle cx="273.6" cy="497.4"/><circle cx="212.1" cy="501.6"/><circle cx="300.6" cy="489.9"/><circle cx="288.7" cy="496.2"/><circle cx="288.6" cy="524.4"/><circle cx="235.1" cy="499.7"/><circle cx="190.7" cy="504"/><circle cx="181.6" cy="507.4"/><circle cx="287" cy="473.8"/><circle cx="232.6" cy="516.1"/><circle cx="238" cy="499.1"/><circle cx="255.8" cy="519.7"/><circle cx="294.2" cy="528.9"/><circle cx="160.4" cy="506.4"/><circle cx="248.1" cy="520.2"/><circle cx="259.5" cy="496.1"/><circle cx="193.8" cy="503.9"/><circle cx="246" cy="496.2"/><circle cx="181" cy="504.7"/><circle cx="269.2" cy="521"/><circle cx="280.1" cy="475.8"/><circle cx="285" cy="515.6"/><circle cx="197.7" cy="501.8"/><circle cx="256.9" cy="525"/><circle cx="274.2" cy="497.7"/><circle cx="291.4" cy="504.9"/><circle cx="273.2" cy="521"/><circle cx="207.9" cy="509.9"/><circle cx="278.3" cy="512.5"/><circle cx="265.6" cy="493.9"/><circle cx="245.6" cy="516.4"/><circle cx="191.7" cy="507.3"/><circle cx="307.6" cy="456.8"/><circle cx="183.9" cy="506.6"/><circle cx="252.1" cy="488.6"/><circle cx="279.8" cy="530.2"/><circle cx="160.4" cy="506.7"/><circle cx="227.8" cy="494.4"/><circle cx="275.3" cy="527.5"/><circle cx="268.9" cy="493.1"/><circle cx="290" cy="496.7"/><circle cx="299.1" cy="470.9"/><circle cx="201" cy="508"/><circle cx="276.6" cy="535"/><circle cx="286.5" cy="522.5"/><circle cx="302.3" cy="543.8"/><circle cx="285.9" cy="495.2"/><circle cx="300" cy="563.3"/><circle cx="294.5" cy="465.9"/><circle cx="238.7" cy="514.7"/><circle cx="186.6" cy="504.8"/><circle cx="248.9" cy="496.1"/><circle cx="273.6" cy="516.9"/><circle cx="273.5" cy="521.7"/><circle cx="282.7" cy="527.2"/><circle cx="277.3" cy="506.8"/><circle cx="165.4" cy="506.6"/><circle cx="191.2" cy="508.7"/><circle cx="277.3" cy="501.8"/><circle cx="194" cy="502.4"/><circle cx="218" cy="497.8"/><circle cx="296.7" cy="479.5"/><circle cx="266.9" cy="486.5"/><circle cx="264.6" cy="495.2"/><circle cx="292.1" cy="492.3"/><circle cx="287.2" cy="490.1"/><circle cx="188" cy="503.6"/><circle cx="170.5" cy="505.7"/><circle cx="303.7" cy="541.3"/><circle cx="280.3" cy="518"/><circle cx="205.7" cy="502.4"/><circle cx="281.1" cy="504.7"/><circle cx="187.5" cy="506.9"/><circle cx="284.3" cy="510"/><circle cx="275.1" cy="491"/><circle cx="271.2" cy="491.4"/><circle cx="300.7" cy="517.2"/><circle cx="174.2" cy="504.4"/><circle cx="303.9" cy="537.9"/><circle cx="269.4" cy="478.1"/><circle cx="171.1" cy="506.9"/><circle cx="176.6" cy="506.1"/><circle cx="262.8" cy="527.4"/><circle cx="272" cy="490.8"/><circle cx="268.4" cy="495.2"/><circle cx="145" cy="506.4"/><circle cx="202.5" cy="508.5"/><circle cx="132.9" cy="505.7"/><circle cx="189.9" cy="504.6"/><circle cx="282.5" cy="488.7"/><circle cx="304.4" cy="531.1"/><circle cx="252.4" cy="514.6"/><circle cx="249.8" cy="490.1"/><circle cx="303.2" cy="484.2"/><circle cx="230.7" cy="515.2"/><circle cx="298.2" cy="525.9"/><circle cx="209.9" cy="510.8"/><circle cx="302.6" cy="483.2"/><circle cx="231.7" cy="497.4"/><circle cx="297.3" cy="519.4"/><circle cx="174.1" cy="505.8"/><circle cx="240.1" cy="495.7"/><circle cx="277.3" cy="509.4"/><circle cx="183.2" cy="504.4"/><circle cx="274.6" cy="524.5"/><circle cx="164.1" cy="504.8"/><circle cx="230.8" cy="496.1"/><circle cx="165.9" cy="505.6"/><circle cx="245.4" cy="496.6"/><circle cx="167.1" cy="507.1"/><circle cx="301.7" cy="540.6"/><circle cx="279.1" cy="508.8"/><circle cx="164.7" cy="505.3"/><circle cx="261.2" cy="521.4"/><circle cx="290.4" cy="512.9"/><circle cx="288.5" cy="482.5"/><circle cx="144.5" cy="506.3"/><circle cx="272.8" cy="497.5"/><circle cx="258.5" cy="490.6"/><circle cx="220.1" cy="513"/><circle cx="170.2" cy="506"/><circle cx="159.5" cy="506.9"/><circle cx="308.7" cy="540.5"/><circle cx="297.1" cy="496.9"/><circle cx="292.9" cy="527.4"/><circle cx="248.5" cy="518.1"/><circle cx="199.3" cy="502.8"/><circle cx="248" cy="491.1"/><circle cx="271.8" cy="491"/><circle cx="298.8" cy="479.4"/><circle cx="275" cy="520.7"/><circle cx="208.2" cy="509.9"/><circle cx="272.8" cy="526.3"/><circle cx="282.9" cy="501.7"/><circle cx="179" cy="504.1"/><circle cx="279.9" cy="489.3"/><circle cx="198" cy="507.9"/><circle cx="280.4" cy="508.1"/><circle cx="188.7" cy="507"/><circle cx="296.2" cy="496.8"/><circle cx="177" cy="505.4"/><circle cx="177.8" cy="504"/><circle cx="162.8" cy="506.6"/><circle cx="164.9" cy="504.9"/><circle cx="290.2" cy="494.4"/><circle cx="264.4" cy="487.3"/><circle cx="207" cy="502.6"/><circle cx="186.1" cy="504.1"/><circle cx="293.6" cy="478.9"/><circle cx="286.2" cy="466.9"/><circle cx="300.3" cy="506.3"/><circle cx="177.6" cy="504.4"/><circle cx="283.5" cy="508.8"/><circle cx="149.1" cy="505.7"/><circle cx="177.8" cy="506.3"/><circle cx="298.6" cy="493.8"/><circle cx="237.7" cy="499.5"/><circle cx="274.1" cy="482.3"/><circle cx="244.8" cy="514.2"/><circle cx="283" cy="486.9"/><circle cx="183.7" cy="502.7"/><circle cx="206.2" cy="508.9"/><circle cx="283.6" cy="485.7"/><circle cx="264.9" cy="516.7"/><circle cx="284" cy="511.3"/><circle cx="278.8" cy="506.4"/><circle cx="164.2" cy="505.9"/><circle cx="282.3" cy="509.1"/><circle cx="248.9" cy="516.9"/><circle cx="281.6" cy="518.8"/><circle cx="292.7" cy="502.9"/><circle cx="215.6" cy="500.9"/><circle cx="288.8" cy="496.9"/><circle cx="291.1" cy="500.9"/><circle cx="286.2" cy="505.4"/><circle cx="194.3" cy="503.8"/><circle cx="247.6" cy="493.3"/><circle cx="286.8" cy="502.3"/><circle cx="192.4" cy="507.1"/><circle cx="299.5" cy="521.7"/><circle cx="282.7" cy="496.8"/><circle cx="267.8" cy="519.4"/><circle cx="218.6" cy="500.4"/><circle cx="226.9" cy="498.7"/><circle cx="245.6" cy="494.9"/><circle cx="164.4" cy="505.3"/><circle cx="202.1" cy="507.4"/><circle cx="277.3" cy="506.5"/><circle cx="176.9" cy="507.3"/><circle cx="184.3" cy="506.7"/><circle cx="191.6" cy="504"/><circle cx="300.7" cy="463.4"/><circle cx="238.6" cy="498.9"/><circle cx="191.1" cy="504.5"/><circle cx="280" cy="484.1"/><circle cx="302.1" cy="513.1"/><circle cx="285.2" cy="513.9"/><circle cx="214.2" cy="512.7"/><circle cx="176" cy="504.5"/><circle cx="241.7" cy="512.7"/><circle cx="263.3" cy="516.9"/><circle cx="270.9" cy="492.9"/><circle cx="269.2" cy="491.9"/><circle cx="166.5" cy="505.3"/><circle cx="303.2" cy="505.2"/><circle cx="258.7" cy="482.9"/><circle cx="261" cy="489"/><circle cx="261.4" cy="492.9"/><circle cx="276.8" cy="481.9"/><circle cx="130.3" cy="506.1"/><circle cx="138.6" cy="506"/><circle cx="121.3" cy="505.9"/><circle cx="139.9" cy="505.3"/><circle cx="131.2" cy="505.9"/><circle cx="138.3" cy="505.3"/><circle cx="148.6" cy="505.7"/><circle cx="121.3" cy="505.8"/><circle cx="127.8" cy="506.2"/><circle cx="122.9" cy="505.5"/><circle cx="114.3" cy="505.7"/><circle cx="136.3" cy="505.6"/><circle cx="136.5" cy="505.8"/><circle cx="150.8" cy="506"/><circle cx="135.5" cy="506.3"/><circle cx="127.6" cy="505.5"/><circle cx="147" cy="505.7"/><circle cx="112.9" cy="505.9"/><circle cx="71.7" cy="505.8"/><circle cx="108.2" cy="505.8"/><circle cx="339.4" cy="361.7"/><circle cx="347.6" cy="411.4"/><circle cx="319.2" cy="413.4"/><circle cx="365.8" cy="468.1"/><circle cx="321.2" cy="571.4"/><circle cx="311" cy="551.6"/><circle cx="317.1" cy="451.4"/><circle cx="315.1" cy="451.4"/><circle cx="321.2" cy="459.2"/><circle cx="319.2" cy="461.1"/><circle cx="329.3" cy="526.4"/><circle cx="327.3" cy="527.5"/><circle cx="325.2" cy="533"/><circle cx="327.3" cy="505.8"/></g>
<g fill="#1f77b4" fill-opacity=".7"><circle cx="244.2" cy="513.8"/><circle cx="290.7" cy="495.2"/><circle cx="207.1" cy="502.5"/><circle cx="253.4" cy="521.6"/><circle cx="235" cy="502.2"/><circle cx="213.8" cy="505.8"/><circle cx="265.6" cy="499.4"/><circle cx="205.8" cy="509.6"/><circle cx="191.8" cy="507.2"/><circle cx="295.8" cy="506.6"/><circle cx="273.8" cy="493.1"/><circle cx="281.1" cy="517.2"/><circle cx="231.5" cy="493.9"/><circle cx="240.7" cy="505.8"/><circle cx="283.3" cy="499.3"/><circle cx="284.1" cy="494"/><circle cx="263" cy="526.3"/><circle cx="275.1" cy="508.9"/><circle cx="184.4" cy="506.5"/><circle cx="281.6" cy="505"/><circle cx="230.9" cy="496.9"/><circle cx="257" cy="510.8"/><circle cx="241.8" cy="495.3"/><circle cx="273.6" cy="514.3"/><circle cx="274.4" cy="503.6"/><circle cx="281.7" cy="523.7"/><circle cx="194.1" cy="504.6"/><circle cx="241.3" cy="510.3"/><circle cx="222.7" cy="503.5"/><circle cx="265.1" cy="498.1"/><circle cx="270.4" cy="521.3"/><circle cx="257.3" cy="513.7"/><circle cx="229.1" cy="498.7"/><circle cx="239.3" cy="499.6"/><circle cx="180.1" cy="504.5"/><circle cx="248.9" cy="523.2"/><circle cx="261.1" cy="518.7"/><circle cx="272.8" cy="524"/><circle cx="272" cy="505.6"/><circle cx="239.5" cy="494.7"/><circle cx="230.6" cy="511.2"/><circle cx="251.7" cy="502.7"/><circle cx="245.8" cy="513.9"/><circle cx="259.6" cy="495.6"/><circle cx="289.9" cy="506.7"/><circle cx="243.6" cy="502.4"/><circle cx="278.4" cy="499"/><circle cx="263.5" cy="518.9"/><circle cx="275.8" cy="523"/><circle cx="244.7" cy="497.3"/><circle cx="181.1" cy="503.7"/><circle cx="287.5" cy="524.4"/><circle cx="275.7" cy="505"/><circle cx="270.5" cy="495.6"/><circle cx="277.3" cy="480.9"/><circle cx="219.2" cy="505.2"/><circle cx="213.7" cy="498.4"/><circle cx="263.3" cy="516.6"/><circle cx="188.8" cy="506.1"/><circle cx="198.6" cy="502.9"/><circle cx="250.3" cy="505.8"/><circle cx="217.2" cy="507.7"/><circle cx="217.9" cy="507.7"/><circle cx="245.8" cy="507.8"/><circle cx="188" cy="506.4"/><circle cx="271.7" cy="495.2"/><circle cx="263.9" cy="496.4"/><circle cx="278.8" cy="500.7"/><circle cx="207.8" cy="509.6"/><circle cx="246.3" cy="500.4"/><circle cx="249.4" cy="514.6"/><circle cx="212.5" cy="511.1"/><circle cx="212.9" cy="505.8"/><circle cx="275.4" cy="490.1"/><circle cx="200.6" cy="501.9"/><circle cx="251.1" cy="500.4"/><circle cx="231.3" cy="515"/><circle cx="244.2" cy="511.1"/><circle cx="269" cy="519.5"/><circle cx="252.1" cy="508.1"/><circle cx="206.6" cy="507.5"/><circle cx="245.9" cy="501"/><circle cx="286.5" cy="506.5"/><circle cx="293.2" cy="491"/><circle cx="277.6" cy="515.5"/><circle cx="181.5" cy="504.4"/><circle cx="260.3" cy="532.6"/><circle cx="158.3" cy="506.1"/><circle cx="254" cy="492.8"/><circle cx="156.4" cy="506.6"/><circle cx="213.7" cy="508.8"/><circle cx="267" cy="479.7"/><circle cx="184.6" cy="506.5"/><circle cx="290.2" cy="515.6"/><circle cx="289.2" cy="505.3"/><circle cx="270.5" cy="489.5"/><circle cx="257.7" cy="519.6"/><circle cx="250.8" cy="506.7"/><circle cx="272.3" cy="500.2"/><circle cx="165.4" cy="506.1"/><circle cx="203.3" cy="503"/><circle cx="242" cy="488.7"/><circle cx="183.4" cy="505.3"/><circle cx="235.7" cy="500.2"/><circle cx="238.4" cy="514"/><circle cx="236.2" cy="513.5"/><circle cx="267.9" cy="500.5"/><circle cx="284.5" cy="524"/><circle cx="229.3" cy="503.4"/><circle cx="269" cy="488.3"/><circle cx="244.9" cy="499.5"/><circle cx="242" cy="503.9"/><circle cx="237.3" cy="509.8"/><circle cx="262.9" cy="487.3"/><circle cx="227.9" cy="497.2"/><circle cx="155.9" cy="505.7"/><circle cx="247.9" cy="501.9"/><circle cx="179.5" cy="507.3"/><circle cx="240" cy="517.9"/><circle cx="280.4" cy="501.4"/><circle cx="170.6" cy="505.1"/><circle cx="279.5" cy="501.2"/><circle cx="278.3" cy="489.8"/><circle cx="215.7" cy="501"/><circle cx="275.7" cy="518.2"/><circle cx="291.8" cy="523.2"/><circle cx="259.5" cy="511.9"/><circle cx="279.1" cy="529.1"/><circle cx="274.5" cy="514.5"/><circle cx="217.3" cy="500.8"/><circle cx="281.4" cy="521.9"/><circle cx="262.7" cy="523.8"/><circle cx="279.7" cy="513.2"/><circle cx="268.2" cy="498.3"/><circle cx="262.8" cy="513"/><circle cx="224.6" cy="506.5"/><circle cx="265.4" cy="514.5"/><circle cx="188.6" cy="505.6"/><circle cx="250.7" cy="497.4"/><circle cx="213.1" cy="511.2"/><circle cx="229.9" cy="513.2"/><circle cx="215.2" cy="514.3"/><circle cx="288.4" cy="481.4"/><circle cx="244.3" cy="512.8"/><circle cx="278.9" cy="490.5"/><circle cx="257" cy="507.6"/><circle cx="233.2" cy="502.2"/><circle cx="258.9" cy="497.9"/><circle cx="211" cy="498.8"/><circle cx="235.6" cy="503.5"/><circle cx="190.1" cy="508.6"/><circle cx="238.9" cy="492.2"/><circle cx="249.4" cy="505.2"/><circle cx="220.1" cy="513.9"/><circle cx="291.1" cy="499.5"/><circle cx="213.3" cy="513"/><circle cx="188.3" cy="505.1"/><circle cx="192.4" cy="501.7"/><circle cx="269.9" cy="521.3"/><circle cx="257.7" cy="507"/><circle cx="201.7" cy="508"/><circle cx="290.7" cy="505.8"/><circle cx="223" cy="511.7"/><circle cx="238.1" cy="506.6"/><circle cx="276.3" cy="500.1"/><circle cx="190.4" cy="504.3"/><circle cx="253.8" cy="514.2"/><circle cx="247.3" cy="516"/><circle cx="253.4" cy="511.6"/><circle cx="209" cy="511.8"/><circle cx="271.5" cy="515.4"/><circle cx="249.6" cy="495.1"/><circle cx="259.6" cy="504.5"/><circle cx="160.2" cy="505.5"/><circle cx="236.5" cy="516.2"/><circle cx="277.1" cy="505.9"/><circle cx="206.5" cy="497.7"/><circle cx="236.4" cy="509.1"/><circle cx="272.2" cy="500.3"/><circle cx="273.9" cy="523.7"/><circle cx="246.7" cy="518.9"/><circle cx="215.3" cy="508.6"/><circle cx="204.1" cy="507.6"/><circle cx="264" cy="516.2"/><circle cx="267.7" cy="523.4"/><circle cx="291.3" cy="508.8"/><circle cx="234.4" cy="504"/><circle cx="252.9" cy="514.3"/><circle cx="243" cy="520"/><circle cx="279.5" cy="495.7"/><circle cx="219.6" cy="512"/><circle cx="233.4" cy="499.2"/><circle cx="270.6" cy="523"/><circle cx="172.3" cy="506.8"/><circle cx="233.1" cy="507.8"/><circle cx="267.3" cy="525.2"/><circle cx="181.1" cy="506.7"/><circle cx="245.8" cy="496.3"/><circle cx="279.6" cy="531.4"/><circle cx="276.3" cy="501.7"/><circle cx="216.8" cy="500.6"/><circle cx="277.1" cy="492.9"/><circle cx="273" cy="527.7"/><circle cx="278.1" cy="510.7"/><circle cx="289.2" cy="511.6"/><circle cx="239.6" cy="514.1"/><circle cx="190.4" cy="507"/><circle cx="289.7" cy="502.9"/><circle cx="272.9" cy="509.2"/><circle cx="242.3" cy="510.8"/><circle cx="216.6" cy="510.9"/><circle cx="250.9" cy="517.9"/><circle cx="264" cy="525.7"/><circle cx="255.4" cy="512.6"/><circle cx="277.2" cy="496.6"/><circle cx="271.2" cy="499.8"/><circle cx="274.4" cy="487.6"/><circle cx="193.6" cy="505.7"/><circle cx="281" cy="505.2"/><circle cx="289.2" cy="518.7"/><circle cx="271.9" cy="524.4"/><circle cx="262.7" cy="511.2"/><circle cx="277.6" cy="495.8"/><circle cx="232.9" cy="513.7"/><circle cx="201.9" cy="501.5"/><circle cx="271.8" cy="522"/><circle cx="176.9" cy="506"/><circle cx="280" cy="517"/><circle cx="283.6" cy="511.6"/><circle cx="228.6" cy="507.5"/><circle cx="192.5" cy="509"/><circle cx="281.5" cy="488.6"/><circle cx="263.1" cy="506.3"/><circle cx="232.1" cy="514.6"/><circle cx="280.9" cy="517.7"/><circle cx="266.2" cy="491.8"/><circle cx="277.9" cy="510.7"/><circle cx="267.2" cy="516.4"/><circle cx="271.4" cy="492.1"/><circle cx="261.7" cy="500.9"/><circle cx="256.5" cy="490"/><circle cx="202.5" cy="507.6"/><circle cx="239" cy="513.7"/><circle cx="240.7" cy="496.6"/><circle cx="227.1" cy="508.3"/><circle cx="263" cy="510"/><circle cx="203" cy="502.5"/><circle cx="232.3" cy="495"/><circle cx="239.7" cy="498.9"/><circle cx="256.3" cy="531.8"/><circle cx="198.9" cy="501.2"/><circle cx="234" cy="515.4"/><circle cx="281.1" cy="504.7"/><circle cx="270.7" cy="497.9"/><circle cx="168" cy="507.2"/><circle cx="275.3" cy="493"/><circle cx="269.1" cy="505.5"/><circle cx="265.3" cy="504.2"/><circle cx="188.9" cy="505.2"/><circle cx="264.9" cy="509.9"/><circle cx="257.9" cy="504.5"/><circle cx="221.1" cy="499"/><circle cx="286" cy="508.8"/><circle cx="230.6" cy="505.5"/><circle cx="258.7" cy="513.3"/><circle cx="281.7" cy="481.3"/><circle cx="273.6" cy="516.7"/><circle cx="244" cy="504.3"/><circle cx="198.7" cy="507.5"/><circle cx="282.4" cy="517"/><circle cx="251.3" cy="495.2"/><circle cx="225.4" cy="517"/><circle cx="250" cy="513.1"/><circle cx="290.8" cy="488.3"/><circle cx="268.4" cy="503.1"/><circle cx="218.2" cy="511.3"/><circle cx="229.5" cy="508.8"/><circle cx="269.6" cy="501.2"/><circle cx="290.7" cy="494.5"/><circle cx="254.3" cy="509.7"/><circle cx="247.1" cy="494.5"/><circle cx="194.8" cy="508.2"/><circle cx="182.3" cy="504.3"/><circle cx="278.4" cy="515.5"/><circle cx="195.1" cy="508.3"/><circle cx="255.6" cy="502.1"/><circle cx="253" cy="502.3"/><circle cx="232.3" cy="498.1"/><circle cx="242.7" cy="502.6"/><circle cx="220.5" cy="509.3"/><circle cx="251.1" cy="517.1"/><circle cx="252.9" cy="499.4"/><circle cx="223.9" cy="512.6"/><circle cx="250.3" cy="520.5"/><circle cx="216.7" cy="502.5"/><circle cx="268.3" cy="509.9"/><circle cx="235.9" cy="513.4"/><circle cx="227.9" cy="513.6"/><circle cx="221.2" cy="500.6"/><circle cx="182.8" cy="506.5"/><circle cx="259.5" cy="520.3"/><circle cx="288.9" cy="508.5"/><circle cx="252.3" cy="503.5"/><circle cx="223.6" cy="505.6"/><circle cx="258.7" cy="531.4"/><circle cx="209.4" cy="501.8"/><circle cx="267" cy="487.9"/><circle cx="285.3" cy="510.2"/><circle cx="279.3" cy="512.2"/><circle cx="217.8" cy="501.4"/><circle cx="268.5" cy="495.6"/><circle cx="242.6" cy="495.6"/><circle cx="184.6" cy="505.1"/><circle cx="190.3" cy="503.5"/><circle cx="256.3" cy="500.8"/><circle cx="283.5" cy="493.3"/><circle cx="246.4" cy="510.3"/><circle cx="257.1" cy="496.7"/><circle cx="226.7" cy="507.1"/><circle cx="284.2" cy="505.7"/><circle cx="278.1" cy="497.5"/><circle cx="179.9" cy="507.7"/><circle cx="225" cy="498"/><circle cx="207.3" cy="510.6"/><circle cx="269.4" cy="513"/><circle cx="279.1" cy="494.3"/><circle cx="222.4" cy="512.3"/><circle cx="221.4" cy="500.4"/><circle cx="269.3" cy="518.6"/><circle cx="269.3" cy="522.4"/><circle cx="204.3" cy="508.9"/><circle cx="168.3" cy="506"/><circle cx="208.2" cy="502.2"/><circle cx="240.1" cy="511.9"/><circle cx="240.4" cy="496.4"/><circle cx="269.3" cy="493.7"/><circle cx="284" cy="492.5"/><circle cx="198.6" cy="509.2"/><circle cx="269.8" cy="510.6"/><circle cx="200.7" cy="501.8"/><circle cx="211.4" cy="505.3"/><circle cx="265.2" cy="508.4"/><circle cx="262.1" cy="490.8"/><circle cx="174" cy="506.1"/><circle cx="260.7" cy="500.4"/><circle cx="270.4" cy="507.6"/><circle cx="288.5" cy="493.5"/><circle cx="247.9" cy="513.9"/><circle cx="200.3" cy="507.8"/><circle cx="209.7" cy="506.4"/><circle cx="260.1" cy="505.1"/><circle cx="276.7" cy="530.2"/><circle cx="247.5" cy="516.7"/><circle cx="265.9" cy="524.3"/><circle cx="261" cy="493.9"/><circle cx="265.4" cy="518.3"/><circle cx="247.7" cy="520.4"/><circle cx="178.4" cy="508.7"/><circle cx="255" cy="495.2"/><circle cx="210.4" cy="501.7"/><circle cx="185.5" cy="507.2"/><circle cx="170.5" cy="504.5"/><circle cx="258" cy="516.3"/><circle cx="284.6" cy="514.1"/><circle cx="253.4" cy="510.5"/><circle cx="274" cy="511.6"/><circle cx="238" cy="500.1"/><circle cx="258.3" cy="498.1"/><circle cx="222.9" cy="502.3"/><circle cx="262.3" cy="492.7"/><circle cx="294.1" cy="499.1"/><circle cx="261.7" cy="486.2"/><circle cx="154" cy="505.9"/><circle cx="289.1" cy="503.1"/><circle cx="243.3" cy="519.5"/><circle cx="257.8" cy="517"/><circle cx="249.3" cy="522.9"/><circle cx="271.8" cy="493.9"/><circle cx="208.9" cy="509.4"/><circle cx="260.6" cy="520.1"/><circle cx="228.5" cy="501.1"/><circle cx="235.4" cy="500.5"/><circle cx="262.6" cy="493.3"/><circle cx="249.4" cy="493.9"/><circle cx="258.8" cy="500.7"/><circle cx="283.4" cy="526.2"/><circle cx="214" cy="501.7"/><circle cx="275.3" cy="528.8"/><circle cx="266.4" cy="491.1"/><circle cx="243" cy="491.2"/><circle cx="275.9" cy="488.8"/><circle cx="223.5" cy="502.1"/><circle cx="228.4" cy="513.1"/><circle cx="190.7" cy="505.5"/><circle cx="248.7" cy="512"/><circle cx="204.1" cy="502.9"/><circle cx="238.7" cy="504.7"/><circle cx="255.9" cy="493.9"/><circle cx="247.1" cy="506.8"/><circle cx="237.4" cy="502.1"/><circle cx="238.5" cy="509.4"/><circle cx="224" cy="497.8"/><circle cx="264" cy="503.6"/><circle cx="284.5" cy="513.5"/><circle cx="229.5" cy="499.4"/><circle cx="197.3" cy="508.1"/><circle cx="268.9" cy="513.2"/><circle cx="182.9" cy="504.2"/><circle cx="240.7" cy="512.9"/><circle cx="256.8" cy="514.9"/><circle cx="160.8" cy="506.4"/><circle cx="272" cy="518.3"/><circle cx="236.7" cy="494.8"/><circle cx="222.7" cy="498.9"/><circle cx="287.8" cy="503.5"/><circle cx="229.8" cy="504"/><circle cx="247.2" cy="509.4"/><circle cx="274.4" cy="510.9"/><circle cx="207.6" cy="505.9"/><circle cx="263.1" cy="493.9"/><circle cx="278.4" cy="508.7"/><circle cx="237.2" cy="508.4"/><circle cx="261.9" cy="504.6"/><circle cx="245.1" cy="507.5"/><circle cx="223.4" cy="497.2"/><circle cx="255.8" cy="520.8"/><circle cx="252.8" cy="496.1"/><circle cx="273.8" cy="504.1"/><circle cx="212.3" cy="502.1"/><circle cx="264.9" cy="495.5"/><circle cx="258.8" cy="515.9"/><circle cx="216.7" cy="504.4"/><circle cx="292.7" cy="507.2"/><circle cx="228.1" cy="513.1"/><circle cx="194.5" cy="503.7"/><circle cx="194.5" cy="501.3"/><circle cx="181" cy="507.1"/><circle cx="282.1" cy="520.7"/><circle cx="227.1" cy="501.5"/><circle cx="255.8" cy="501"/><circle cx="196.9" cy="503.8"/><circle cx="260.2" cy="520.4"/><circle cx="277.6" cy="497.7"/><circle cx="255.6" cy="495.2"/><circle cx="244.9" cy="495.5"/><circle cx="268" cy="507.3"/><circle cx="222.5" cy="506.8"/><circle cx="284.5" cy="514.4"/><circle cx="225.6" cy="497.9"/><circle cx="224.7" cy="511.9"/><circle cx="219.3" cy="510.3"/><circle cx="255" cy="490.9"/><circle cx="195" cy="509.1"/><circle cx="253.4" cy="507"/><circle cx="185.5" cy="507.6"/><circle cx="244.6" cy="514.7"/><circle cx="168.3" cy="506.6"/><circle cx="276.4" cy="519.9"/><circle cx="230" cy="512.9"/><circle cx="233.6" cy="509.1"/><circle cx="277.2" cy="516"/><circle cx="168.7" cy="505"/><circle cx="237.8" cy="513.9"/><circle cx="258.4" cy="508"/><circle cx="248.5" cy="500.6"/><circle cx="263.4" cy="501.7"/><circle cx="216.6" cy="499.1"/><circle cx="231.7" cy="507.1"/><circle cx="335.4" cy="417.3"/><circle cx="337.4" cy="419.6"/><circle cx="333.4" cy="421.2"/><circle cx="341.5" cy="419.2"/><circle cx="339.4" cy="418"/><circle cx="345.5" cy="420"/><circle cx="300.9" cy="564.8"/><circle cx="305" cy="565.6"/><circle cx="302.9" cy="460.4"/><circle cx="302.9" cy="537.3"/><circle cx="298.9" cy="536.9"/><circle cx="305" cy="484.4"/><circle cx="296.9" cy="486"/><circle cx="290.8" cy="470.9"/><circle cx="311" cy="512.8"/><circle cx="313.1" cy="522.9"/></g>
<rect x="57" y="351" width="322.4" height="231" fill="none" stroke="#444" stroke-width="1.5"/>
<path d="M65.7 582v4M106.2 582v4M146.8 582v4M187.3 582v4M227.9 582v4M268.5 582v4M309 582v4M349.6 582v4" stroke="#444" stroke-width="1.0"/>
<text x="65.7" y="598.8" font-size="12.1" text-anchor="middle" fill="#262626" >−8</text>
<text x="106.2" y="598.8" font-size="12.1" text-anchor="middle" fill="#262626" >−6</text>
<text x="146.8" y="598.8" font-size="12.1" text-anchor="middle" fill="#262626" >−4</text>
<text x="187.3" y="598.8" font-size="12.1" text-anchor="middle" fill="#262626" >−2</text>
<text x="227.9" y="598.8" font-size="12.1" text-anchor="middle" fill="#262626" >0</text>
<text x="268.5" y="598.8" font-size="12.1" text-anchor="middle" fill="#262626" >2</text>
<text x="309" y="598.8" font-size="12.1" text-anchor="middle" fill="#262626" >4</text>
<text x="349.6" y="598.8" font-size="12.1" text-anchor="middle" fill="#262626" >6</text>
<path d="M57 544.6h-4M57 505.8h-4M57 467h-4M57 428.1h-4M57 389.3h-4" stroke="#444" stroke-width="1.0"/>
<text x="48.7" y="550.5" font-size="12.1" text-anchor="end" fill="#262626" >−10</text>
<text x="48.7" y="511.7" font-size="12.1" text-anchor="end" fill="#262626" >0</text>
<text x="48.7" y="472.9" font-size="12.1" text-anchor="end" fill="#262626" >10</text>
<text x="48.7" y="434" font-size="12.1" text-anchor="end" fill="#262626" >20</text>
<text x="48.7" y="395.2" font-size="12.1" text-anchor="end" fill="#262626" >30</text>
<text x="218.2" y="614" font-size="11.5" text-anchor="middle" fill="#262626" >x_1</text>
<text x="19.9" y="469" font-size="11.5" text-anchor="middle" fill="#262626" transform="rotate(-90 19.9 469)">x_2</text>
<rect x="64.5" y="358.3" width="248.8" height="57" rx="2.5" fill="#fff" fill-opacity="0.8" stroke="#d0d0d0" stroke-width="1"/>
<circle cx="85.7" cy="372.2" r="3.8" fill="#ff7f0e" fill-opacity="0.7"/>
<text x="112.8" y="376.7" font-size="14.5" text-anchor="start" fill="#262626" textLength="97.4" lengthAdjust="spacingAndGlyphs" >True samples</text>
<circle cx="85.7" cy="399.5" r="3.8" fill="#1f77b4" fill-opacity="0.7"/>
<text x="112.8" y="402.5" font-size="14.5" text-anchor="start" fill="#262626" textLength="192.6" lengthAdjust="spacingAndGlyphs" >Flex<tspan font-size="10" dy="-6">2</tspan><tspan dy="6">MCMC, 5 MALA steps</tspan></text>
<g fill="#ff7f0e" fill-opacity=".7"><circle cx="581.2" cy="509.8"/><circle cx="657.6" cy="517.1"/><circle cx="641.7" cy="494"/><circle cx="645.2" cy="516.6"/><circle cx="600.8" cy="510.6"/><circle cx="620.7" cy="511.3"/><circle cx="609.6" cy="511"/><circle cx="617.4" cy="496.2"/><circle cx="671" cy="499.6"/><circle cx="661.1" cy="508.7"/><circle cx="532.5" cy="506.1"/><circle cx="613.2" cy="499"/><circle cx="569.3" cy="504.2"/><circle cx="632.1" cy="513.2"/><circle cx="623.8" cy="516.5"/><circle cx="622.9" cy="518.4"/><circle cx="657.1" cy="496.3"/><circle cx="637.4" cy="511.2"/><circle cx="651.6" cy="514.5"/><circle cx="656.7" cy="504.2"/><circle cx="657.9" cy="527.4"/><circle cx="635.7" cy="514.7"/><circle cx="588" cy="508.7"/><circle cx="610.1" cy="501.5"/><circle cx="634.4" cy="495"/><circle cx="652.5" cy="501.2"/><circle cx="635.1" cy="509.3"/><circle cx="668.6" cy="512.2"/><circle cx="635.1" cy="514"/><circle cx="575" cy="506.9"/><circle cx="610.9" cy="500.7"/><circle cx="653.1" cy="504.2"/><circle cx="569.9" cy="507.1"/><circle cx="649.8" cy="494.3"/><circle cx="626.3" cy="497.4"/><circle cx="656.6" cy="497.4"/><circle cx="662.8" cy="500.6"/><circle cx="548.5" cy="507"/><circle cx="656.1" cy="509.4"/><circle cx="639.5" cy="495.9"/><circle cx="573.9" cy="504.1"/><circle cx="686.9" cy="523.7"/><circle cx="631.3" cy="494.9"/><circle cx="679" cy="515.2"/><circle cx="541" cy="505.4"/><circle cx="626.5" cy="499.3"/><circle cx="588.5" cy="508.8"/><circle cx="676.7" cy="498.8"/><circle cx="655.1" cy="488.9"/><circle cx="612.8" cy="511.6"/><circle cx="682.6" cy="535.9"/><circle cx="585.6" cy="502"/><circle cx="631.8" cy="515.3"/><circle cx="618.1" cy="513.4"/><circle cx="650.5" cy="517.6"/><circle cx="694.5" cy="497.9"/><circle cx="633.5" cy="494.5"/><circle cx="623.8" cy="501.9"/><circle cx="625.2" cy="513.4"/><circle cx="568.5" cy="507.4"/><circle cx="671.8" cy="506.3"/><circle cx="594.1" cy="500.5"/><circle cx="656.7" cy="524"/><circle cx="599.3" cy="512.7"/><circle cx="572.5" cy="507.2"/><circle cx="632.1" cy="495"/><circle cx="668.7" cy="515.6"/><circle cx="532.5" cy="506.1"/><circle cx="664.7" cy="497.9"/><circle cx="632.1" cy="497.4"/><circle cx="589.5" cy="508.1"/><circle cx="689.5" cy="541.9"/><circle cx="696.1" cy="525.6"/><circle cx="589.5" cy="503.8"/><circle cx="582.5" cy="508.1"/><circle cx="690.8" cy="532"/><circle cx="619.1" cy="510.5"/><circle cx="616.2" cy="498.9"/><circle cx="652.3" cy="516"/><circle cx="582.6" cy="503.4"/><circle cx="612.5" cy="497.8"/><circle cx="556.5" cy="504.4"/><circle cx="640.8" cy="513.7"/><circle cx="577.4" cy="507.7"/><circle cx="652.9" cy="520.8"/><circle cx="620.1" cy="499.2"/><circle cx="570.8" cy="507.2"/><circle cx="689" cy="491.5"/><circle cx="624.2" cy="514.3"/><circle cx="596.2" cy="503"/><circle cx="618.4" cy="497.8"/><circle cx="647.7" cy="491.1"/><circle cx="565.4" cy="504.2"/><circle cx="627.3" cy="511.2"/><circle cx="657.4" cy="501.1"/><circle cx="541.3" cy="505.2"/><circle cx="564.8" cy="503.2"/><circle cx="648" cy="518.7"/><circle cx="655.9" cy="504.1"/><circle cx="594.9" cy="502"/><circle cx="578.2" cy="507.9"/><circle cx="618.5" cy="515"/><circle cx="660.9" cy="497.4"/><circle cx="599.2" cy="501.6"/><circle cx="688" cy="489.9"/><circle cx="615.6" cy="512.8"/><circle cx="620.8" cy="499.7"/><circle cx="609.6" cy="502"/><circle cx="676" cy="496.2"/><circle cx="676" cy="524.4"/><circle cx="622.3" cy="499.7"/><circle cx="577.8" cy="504"/><circle cx="568.6" cy="507.4"/><circle cx="674.4" cy="473.8"/><circle cx="619.8" cy="516.1"/><circle cx="665.6" cy="499.3"/><circle cx="625.2" cy="499.1"/><circle cx="643" cy="519.7"/><circle cx="681.6" cy="528.9"/><circle cx="547.4" cy="506.4"/><circle cx="635.3" cy="520.2"/><circle cx="646.8" cy="496.1"/><circle cx="633.3" cy="496.2"/><circle cx="626.1" cy="512.8"/><circle cx="655.5" cy="510.2"/><circle cx="656.5" cy="521"/><circle cx="609.3" cy="500.6"/><circle cx="661.1" cy="511.6"/><circle cx="667.4" cy="475.8"/><circle cx="650.9" cy="499.2"/><circle cx="652.1" cy="500.6"/><circle cx="672.4" cy="515.6"/><circle cx="584.8" cy="501.8"/><circle cx="644.2" cy="525"/><circle cx="661.5" cy="497.7"/><circle cx="678.8" cy="504.9"/><circle cx="660.5" cy="521"/><circle cx="595.1" cy="509.9"/><circle cx="619.9" cy="500.9"/><circle cx="665.7" cy="512.5"/><circle cx="600.3" cy="509.1"/><circle cx="652.9" cy="493.9"/><circle cx="617.4" cy="511.7"/><circle cx="632.8" cy="516.4"/><circle cx="652" cy="505.9"/><circle cx="607.2" cy="510.2"/><circle cx="695" cy="456.8"/><circle cx="658.9" cy="505"/><circle cx="639.3" cy="488.6"/><circle cx="667.2" cy="530.2"/><circle cx="591.6" cy="503.6"/><circle cx="547.4" cy="506.7"/><circle cx="652.8" cy="511.1"/><circle cx="615" cy="494.4"/><circle cx="662.7" cy="527.5"/><circle cx="656.2" cy="493.1"/><circle cx="661.1" cy="514.1"/><circle cx="677.4" cy="496.7"/><circle cx="686.6" cy="470.9"/><circle cx="603" cy="509"/><circle cx="588.1" cy="508"/><circle cx="664" cy="535"/><circle cx="673.9" cy="522.5"/><circle cx="656.3" cy="509.1"/><circle cx="611.5" cy="511.7"/><circle cx="609.6" cy="509.5"/><circle cx="619.9" cy="500"/><circle cx="689.8" cy="543.8"/><circle cx="673.2" cy="495.2"/><circle cx="687.4" cy="563.3"/><circle cx="681.9" cy="465.9"/><circle cx="626" cy="514.7"/><circle cx="636.2" cy="496.1"/><circle cx="618" cy="510"/><circle cx="660.9" cy="516.9"/><circle cx="660.9" cy="521.7"/><circle cx="670.1" cy="527.2"/><circle cx="664.7" cy="506.8"/><circle cx="552.4" cy="506.6"/><circle cx="634.3" cy="513"/><circle cx="627.3" cy="499"/><circle cx="578.3" cy="508.7"/><circle cx="664.7" cy="501.8"/><circle cx="581.1" cy="502.4"/><circle cx="605.1" cy="497.8"/><circle cx="684.1" cy="479.5"/><circle cx="581.7" cy="507.6"/><circle cx="654.3" cy="486.5"/><circle cx="651.9" cy="495.2"/><circle cx="659" cy="499.6"/><circle cx="679.5" cy="492.3"/><circle cx="674.6" cy="490.1"/><circle cx="575.1" cy="503.6"/><circle cx="691.1" cy="541.3"/><circle cx="667.7" cy="518"/><circle cx="660.6" cy="502.2"/><circle cx="660.3" cy="512.8"/><circle cx="592.9" cy="502.4"/><circle cx="652.3" cy="495.8"/><circle cx="665.4" cy="498.4"/><circle cx="588.6" cy="502.8"/><circle cx="668.4" cy="504.7"/><circle cx="587.2" cy="503.3"/><circle cx="574.6" cy="506.9"/><circle cx="671.6" cy="510"/><circle cx="662.4" cy="491"/><circle cx="658.5" cy="491.4"/><circle cx="607.9" cy="509.8"/><circle cx="688.1" cy="517.2"/><circle cx="632.5" cy="500.1"/><circle cx="561.2" cy="504.4"/><circle cx="691.4" cy="537.9"/><circle cx="656.7" cy="478.1"/><circle cx="558.1" cy="506.9"/><circle cx="583.2" cy="507.4"/><circle cx="650.1" cy="527.4"/><circle cx="659.4" cy="490.8"/><circle cx="655.7" cy="495.2"/><circle cx="594.7" cy="508.5"/><circle cx="531.9" cy="506.4"/><circle cx="589.6" cy="508.5"/><circle cx="519.8" cy="505.7"/><circle cx="669.9" cy="488.7"/><circle cx="691.8" cy="531.1"/><circle cx="639.7" cy="514.6"/><circle cx="637" cy="490.1"/><circle cx="690.6" cy="484.2"/><circle cx="657" cy="510.4"/><circle cx="617.9" cy="515.2"/><circle cx="651.5" cy="505.6"/><circle cx="685.6" cy="525.9"/><circle cx="602.7" cy="510.5"/><circle cx="597.1" cy="510.8"/><circle cx="690" cy="483.2"/><circle cx="618.9" cy="497.4"/><circle cx="684.7" cy="519.4"/><circle cx="659.2" cy="517.8"/><circle cx="627.3" cy="495.7"/><circle cx="664.7" cy="509.4"/><circle cx="570.2" cy="504.4"/><circle cx="661.9" cy="524.5"/><circle cx="605.6" cy="509.5"/><circle cx="606.7" cy="502"/><circle cx="576.8" cy="507.2"/><circle cx="661.5" cy="511.5"/><circle cx="551.1" cy="504.8"/><circle cx="618" cy="496.1"/><circle cx="632.6" cy="496.6"/><circle cx="554.2" cy="507.1"/><circle cx="689.1" cy="540.6"/><circle cx="630.1" cy="510.7"/><circle cx="666.5" cy="508.8"/><circle cx="648.5" cy="521.4"/><circle cx="593.8" cy="508.2"/><circle cx="588.2" cy="502.7"/><circle cx="677.8" cy="512.9"/><circle cx="675.8" cy="482.5"/><circle cx="531.4" cy="506.3"/><circle cx="662" cy="493"/><circle cx="660.1" cy="497.5"/><circle cx="645.8" cy="490.6"/><circle cx="607.2" cy="502.1"/><circle cx="607.3" cy="513"/><circle cx="546.5" cy="506.9"/><circle cx="696.2" cy="540.5"/><circle cx="684.5" cy="496.9"/><circle cx="680.3" cy="527.4"/><circle cx="635.8" cy="518.1"/><circle cx="606.5" cy="510"/><circle cx="586.4" cy="502.8"/><circle cx="635.3" cy="491.1"/><circle cx="659.2" cy="491"/><circle cx="686.2" cy="479.4"/><circle cx="662.4" cy="520.7"/><circle cx="595.4" cy="509.9"/><circle cx="660.2" cy="526.3"/><circle cx="670.3" cy="501.7"/><circle cx="635.8" cy="497.6"/><circle cx="635.6" cy="498.7"/><circle cx="566.1" cy="504.1"/><circle cx="604.5" cy="509.6"/><circle cx="659.2" cy="507.8"/><circle cx="645.9" cy="497"/><circle cx="667.2" cy="489.3"/><circle cx="585.1" cy="507.9"/><circle cx="667.7" cy="508.1"/><circle cx="575.8" cy="507"/><circle cx="683.6" cy="496.8"/><circle cx="658.1" cy="507"/><circle cx="599.9" cy="510"/><circle cx="564.8" cy="504"/><circle cx="549.8" cy="506.6"/><circle cx="551.9" cy="504.9"/><circle cx="677.6" cy="494.4"/><circle cx="651.7" cy="487.3"/><circle cx="594.2" cy="502.6"/><circle cx="573.2" cy="504.1"/><circle cx="660.9" cy="510.9"/><circle cx="681" cy="478.9"/><circle cx="627.5" cy="499.9"/><circle cx="673.6" cy="466.9"/><circle cx="687.7" cy="506.3"/><circle cx="602.3" cy="502.1"/><circle cx="564.6" cy="504.4"/><circle cx="670.8" cy="508.8"/><circle cx="536.1" cy="505.7"/><circle cx="656.8" cy="516.6"/><circle cx="686" cy="493.8"/><circle cx="624.9" cy="499.5"/><circle cx="661.5" cy="482.3"/><circle cx="616.9" cy="500.8"/><circle cx="615.4" cy="512"/><circle cx="632" cy="514.2"/><circle cx="670.3" cy="486.9"/><circle cx="644.6" cy="497.4"/><circle cx="570.7" cy="502.7"/><circle cx="593.3" cy="508.9"/><circle cx="671" cy="485.7"/><circle cx="652.2" cy="516.7"/><circle cx="671.4" cy="511.3"/><circle cx="666.1" cy="506.4"/><circle cx="669.6" cy="509.1"/><circle cx="636.2" cy="516.9"/><circle cx="668.9" cy="518.8"/><circle cx="680.1" cy="502.9"/><circle cx="612.7" cy="510.6"/><circle cx="625" cy="501.3"/><circle cx="645.9" cy="515.6"/><circle cx="651.4" cy="503.2"/><circle cx="602.8" cy="500.9"/><circle cx="676.2" cy="496.9"/><circle cx="678.5" cy="500.9"/><circle cx="673.5" cy="505.4"/><circle cx="634.1" cy="511.8"/><circle cx="634.8" cy="493.3"/><circle cx="674.2" cy="502.3"/><circle cx="686.9" cy="521.7"/><circle cx="670.1" cy="496.8"/><circle cx="655.1" cy="519.4"/><circle cx="638.2" cy="513.7"/><circle cx="605.8" cy="500.4"/><circle cx="614.1" cy="498.7"/><circle cx="632.9" cy="494.9"/><circle cx="651.3" cy="508.9"/><circle cx="654.7" cy="498.3"/><circle cx="664.6" cy="506.5"/><circle cx="564" cy="507.3"/><circle cx="657.4" cy="516.2"/><circle cx="578.7" cy="504"/><circle cx="688.2" cy="463.4"/><circle cx="653.1" cy="515"/><circle cx="625.8" cy="498.9"/><circle cx="667.3" cy="484.1"/><circle cx="661.5" cy="501.9"/><circle cx="689.5" cy="513.1"/><circle cx="672.5" cy="513.9"/><circle cx="601.4" cy="512.7"/><circle cx="617.1" cy="499.6"/><circle cx="611.4" cy="510.3"/><circle cx="563.1" cy="504.5"/><circle cx="653.4" cy="509.9"/><circle cx="628.9" cy="512.7"/><circle cx="650.6" cy="516.9"/><circle cx="658.2" cy="492.9"/><circle cx="656.5" cy="491.9"/><circle cx="624.3" cy="511.5"/><circle cx="599.3" cy="502.7"/><circle cx="649.3" cy="517.1"/><circle cx="653.1" cy="506.5"/><circle cx="690.6" cy="505.2"/><circle cx="657.8" cy="500.1"/><circle cx="646" cy="482.9"/><circle cx="596.4" cy="507.8"/><circle cx="648.3" cy="489"/><circle cx="656.5" cy="515.7"/><circle cx="659.3" cy="504.3"/><circle cx="648.7" cy="492.9"/><circle cx="664.1" cy="481.9"/><circle cx="517.2" cy="506.1"/><circle cx="525.5" cy="506"/><circle cx="508.2" cy="505.9"/><circle cx="526.8" cy="505.3"/><circle cx="518.1" cy="505.9"/><circle cx="525.2" cy="505.3"/><circle cx="535.5" cy="505.7"/><circle cx="508.2" cy="505.8"/><circle cx="514.7" cy="506.2"/><circle cx="509.8" cy="505.5"/><circle cx="501.2" cy="505.7"/><circle cx="523.2" cy="505.6"/><circle cx="523.5" cy="505.8"/><circle cx="537.8" cy="506"/><circle cx="522.4" cy="506.3"/><circle cx="514.5" cy="505.5"/><circle cx="534" cy="505.7"/><circle cx="499.8" cy="505.9"/><circle cx="458.5" cy="505.8"/><circle cx="495.1" cy="505.8"/><circle cx="727" cy="361.7"/><circle cx="735.1" cy="411.4"/><circle cx="706.6" cy="413.4"/><circle cx="753.4" cy="468.1"/><circle cx="708.7" cy="571.4"/><circle cx="698.5" cy="551.6"/><circle cx="704.6" cy="451.4"/><circle cx="702.6" cy="451.4"/><circle cx="708.7" cy="459.2"/><circle cx="706.6" cy="461.1"/><circle cx="716.8" cy="526.4"/><circle cx="714.8" cy="527.5"/><circle cx="712.7" cy="533"/><circle cx="714.8" cy="505.8"/></g>
<g fill="#1f77b4" fill-opacity=".7"><circle cx="648.8" cy="505.1"/><circle cx="651.1" cy="507.1"/><circle cx="610.8" cy="504.5"/><circle cx="588" cy="503.5"/><circle cx="602.1" cy="508.5"/><circle cx="545.1" cy="505.6"/><circle cx="615.5" cy="499.7"/><circle cx="611.2" cy="500.4"/><circle cx="646.8" cy="498.9"/><circle cx="638.2" cy="506.3"/><circle cx="638.1" cy="521.1"/><circle cx="577.6" cy="506.5"/><circle cx="603.3" cy="508.3"/><circle cx="546.4" cy="505"/><circle cx="584.9" cy="502.1"/><circle cx="641.8" cy="520.2"/><circle cx="623.2" cy="509.9"/><circle cx="574.2" cy="504.9"/><circle cx="599.6" cy="507"/><circle cx="624" cy="499.8"/><circle cx="637.7" cy="497.1"/><circle cx="650.2" cy="513.3"/><circle cx="553.6" cy="505.9"/><circle cx="548.4" cy="506.9"/><circle cx="605.2" cy="509.2"/><circle cx="584.8" cy="507.7"/><circle cx="609.3" cy="509.9"/><circle cx="635.7" cy="517.5"/><circle cx="595.9" cy="502.4"/><circle cx="650.2" cy="496.7"/><circle cx="618.9" cy="509.5"/><circle cx="551.1" cy="504.9"/><circle cx="560.5" cy="506.5"/><circle cx="652.6" cy="510.5"/><circle cx="568.6" cy="507.3"/><circle cx="545.4" cy="506.6"/><circle cx="562" cy="504.9"/><circle cx="579.3" cy="504.1"/><circle cx="629.8" cy="502.1"/><circle cx="613.9" cy="502.3"/><circle cx="557.8" cy="505.1"/><circle cx="625.4" cy="504"/><circle cx="596.8" cy="507.3"/><circle cx="588.8" cy="508.5"/><circle cx="566.3" cy="503.8"/><circle cx="631.5" cy="500.7"/><circle cx="581.7" cy="503.7"/><circle cx="643.1" cy="512.1"/><circle cx="615.6" cy="508.3"/><circle cx="638.5" cy="489"/><circle cx="554.4" cy="506.4"/><circle cx="631.8" cy="500.2"/><circle cx="569.2" cy="506.6"/><circle cx="582.1" cy="503.2"/><circle cx="550.8" cy="504.4"/><circle cx="545.2" cy="505.3"/><circle cx="557.4" cy="507.1"/><circle cx="578" cy="507.3"/><circle cx="589.5" cy="508.1"/><circle cx="582.1" cy="507.7"/><circle cx="633.6" cy="510.8"/><circle cx="634.5" cy="510.2"/><circle cx="651.1" cy="510.7"/><circle cx="645.4" cy="496"/><circle cx="650.3" cy="507.4"/><circle cx="648.2" cy="512"/><circle cx="632" cy="498.9"/><circle cx="565.7" cy="504.6"/><circle cx="598.9" cy="501.8"/><circle cx="641.6" cy="501.3"/><circle cx="644.4" cy="489.1"/><circle cx="652.2" cy="500.8"/><circle cx="563.4" cy="507.2"/><circle cx="651.2" cy="502.1"/><circle cx="610.7" cy="509.6"/><circle cx="646.3" cy="508.7"/><circle cx="545.9" cy="506.4"/><circle cx="596.7" cy="507.4"/><circle cx="570" cy="507.1"/><circle cx="553.8" cy="507.5"/><circle cx="636.7" cy="498.2"/><circle cx="588" cy="507.9"/><circle cx="641.1" cy="501.4"/><circle cx="649.6" cy="516.8"/><circle cx="634.4" cy="506.5"/><circle cx="640.5" cy="515.2"/><circle cx="612.3" cy="506.5"/><circle cx="644.9" cy="514.3"/><circle cx="562.5" cy="506.8"/><circle cx="645.5" cy="515.3"/><circle cx="605.7" cy="501.7"/><circle cx="552.9" cy="505"/><circle cx="594.8" cy="503.6"/><circle cx="554.1" cy="504.7"/><circle cx="592.5" cy="502.4"/><circle cx="649.2" cy="511.9"/><circle cx="634.6" cy="501.6"/><circle cx="648.4" cy="496"/><circle cx="578.2" cy="503.5"/><circle cx="600.7" cy="508"/><circle cx="609.7" cy="503"/><circle cx="626.5" cy="511.3"/><circle cx="652.4" cy="489.1"/><circle cx="652.7" cy="502.7"/><circle cx="631.4" cy="506.1"/><circle cx="596.7" cy="507"/><circle cx="636.9" cy="510.8"/><circle cx="644.3" cy="495.5"/><circle cx="637" cy="496"/><circle cx="582.5" cy="508.1"/><circle cx="592.1" cy="508.5"/><circle cx="642.9" cy="520.9"/><circle cx="566.1" cy="503.7"/><circle cx="544.9" cy="505.7"/><circle cx="639.5" cy="508.4"/><circle cx="561" cy="505.1"/><circle cx="572.6" cy="507.1"/><circle cx="650.7" cy="515.2"/><circle cx="626.3" cy="500.8"/><circle cx="557.3" cy="504.6"/><circle cx="557.6" cy="504.2"/><circle cx="552.6" cy="505.1"/><circle cx="642.6" cy="502.2"/><circle cx="551.4" cy="506.4"/><circle cx="621.6" cy="504.9"/><circle cx="605.8" cy="509.9"/><circle cx="630.2" cy="511.7"/><circle cx="621.5" cy="501.8"/><circle cx="564.2" cy="507.1"/><circle cx="622.5" cy="507.2"/><circle cx="603.4" cy="502.6"/><circle cx="634" cy="518.4"/><circle cx="651.9" cy="503.9"/><circle cx="650.4" cy="499.6"/><circle cx="597.6" cy="509.1"/><circle cx="559.7" cy="505.1"/><circle cx="629" cy="508.6"/><circle cx="612.9" cy="507.5"/><circle cx="640.4" cy="499.4"/><circle cx="608.9" cy="504.5"/><circle cx="547.8" cy="504.9"/><circle cx="559.9" cy="505"/><circle cx="552.3" cy="506.4"/><circle cx="596.9" cy="502.6"/><circle cx="612.2" cy="502.6"/><circle cx="605.7" cy="502.3"/><circle cx="647.7" cy="499.8"/><circle cx="646.9" cy="496.9"/><circle cx="626.4" cy="505.7"/><circle cx="604.5" cy="507.6"/><circle cx="561.9" cy="506.8"/><circle cx="605.2" cy="506.5"/><circle cx="592" cy="503.2"/><circle cx="620.6" cy="509.1"/><circle cx="645.3" cy="496.9"/><circle cx="639.3" cy="512.8"/><circle cx="618" cy="501.8"/><circle cx="629.5" cy="513.4"/><circle cx="564.2" cy="504.6"/><circle cx="629.3" cy="495.3"/><circle cx="615.2" cy="510"/><circle cx="545.2" cy="505.4"/><circle cx="640.8" cy="504.9"/><circle cx="645.2" cy="507.8"/><circle cx="621.5" cy="501.9"/><circle cx="546" cy="506.7"/><circle cx="557.6" cy="506.6"/><circle cx="564.3" cy="506.9"/><circle cx="652.4" cy="498.3"/><circle cx="587.4" cy="502.7"/><circle cx="593.5" cy="508.4"/><circle cx="616.8" cy="510.1"/><circle cx="650.6" cy="492.4"/><circle cx="600.1" cy="507.9"/><circle cx="576.7" cy="504.6"/><circle cx="637" cy="499.1"/><circle cx="631.2" cy="511.5"/><circle cx="649.9" cy="491.5"/><circle cx="585.9" cy="508"/><circle cx="566.4" cy="507.3"/><circle cx="580.4" cy="503.9"/><circle cx="548.9" cy="504.8"/><circle cx="646.2" cy="505.5"/><circle cx="600.5" cy="502.1"/><circle cx="623.1" cy="510.8"/><circle cx="650.9" cy="512.4"/><circle cx="560.1" cy="504.4"/><circle cx="639.2" cy="496.2"/><circle cx="634.5" cy="508.6"/><circle cx="636" cy="516.5"/><circle cx="632.9" cy="504.7"/><circle cx="642.5" cy="503.5"/><circle cx="645.3" cy="511.5"/><circle cx="626.6" cy="498.7"/><circle cx="643.8" cy="520.9"/><circle cx="648.7" cy="515.9"/><circle cx="570.6" cy="503.9"/><circle cx="577.2" cy="504.5"/><circle cx="611.4" cy="510.5"/><circle cx="652.3" cy="507.6"/><circle cx="551.3" cy="506.3"/><circle cx="619.7" cy="502.6"/><circle cx="618.1" cy="508.7"/><circle cx="568.9" cy="504.1"/><circle cx="635.4" cy="517.5"/><circle cx="578" cy="508.6"/><circle cx="586.9" cy="508.1"/><circle cx="643.3" cy="509.2"/><circle cx="628" cy="503.2"/><circle cx="613" cy="509.7"/><circle cx="643.3" cy="504.9"/><circle cx="639.7" cy="509.8"/><circle cx="592.1" cy="503.8"/><circle cx="642" cy="509.3"/><circle cx="615.6" cy="501.4"/><circle cx="637.6" cy="514.7"/><circle cx="621.5" cy="502.7"/><circle cx="607.4" cy="502.2"/><circle cx="574.7" cy="506.7"/><circle cx="643.2" cy="515.9"/><circle cx="572.2" cy="504.5"/><circle cx="625.4" cy="499.1"/><circle cx="585.7" cy="508"/><circle cx="593.7" cy="508"/><circle cx="606.6" cy="501.9"/><circle cx="606.3" cy="509.2"/><circle cx="629.7" cy="498.9"/><circle cx="551.4" cy="506.9"/><circle cx="638.1" cy="505.1"/><circle cx="591.9" cy="508.1"/><circle cx="547.4" cy="506.6"/><circle cx="617.3" cy="514.4"/><circle cx="601" cy="501.4"/><circle cx="566.5" cy="506.8"/><circle cx="588.5" cy="504.1"/><circle cx="638.7" cy="515.7"/><circle cx="577.1" cy="506.6"/><circle cx="617.4" cy="510.4"/><circle cx="629.6" cy="497.6"/><circle cx="593.3" cy="508.2"/><circle cx="567" cy="506.4"/><circle cx="647.6" cy="494.7"/><circle cx="549.7" cy="506.7"/><circle cx="634.4" cy="500.5"/><circle cx="616" cy="507.2"/><circle cx="616.2" cy="501.6"/><circle cx="591.3" cy="503.9"/><circle cx="609.8" cy="509"/><circle cx="545.1" cy="506.5"/><circle cx="647.5" cy="507.7"/><circle cx="571.8" cy="504.1"/><circle cx="624.1" cy="511.6"/><circle cx="641.5" cy="498.3"/><circle cx="648" cy="516.7"/><circle cx="611.8" cy="509.7"/><circle cx="557.9" cy="504.7"/><circle cx="567.6" cy="504.6"/><circle cx="600.3" cy="501.4"/><circle cx="634.9" cy="516.3"/><circle cx="617" cy="502.3"/><circle cx="624.2" cy="506.8"/><circle cx="651.2" cy="502.5"/><circle cx="611.7" cy="501.6"/><circle cx="649.8" cy="496.6"/><circle cx="611.6" cy="502.8"/><circle cx="634.3" cy="522.2"/><circle cx="645.1" cy="503.6"/><circle cx="578.8" cy="507"/><circle cx="646.7" cy="501.1"/><circle cx="629.2" cy="509.2"/><circle cx="550.6" cy="504.1"/><circle cx="549.5" cy="506.1"/><circle cx="639.7" cy="503.2"/><circle cx="558.4" cy="506.8"/><circle cx="574" cy="506.9"/><circle cx="562.4" cy="505"/><circle cx="652.1" cy="492.2"/><circle cx="574.2" cy="506.6"/><circle cx="559.1" cy="506.9"/><circle cx="581.2" cy="508.2"/><circle cx="629.7" cy="508.1"/><circle cx="614.5" cy="510"/><circle cx="649.8" cy="515.6"/><circle cx="616.8" cy="504.1"/><circle cx="585.7" cy="502.6"/><circle cx="602.3" cy="508.3"/><circle cx="610.9" cy="504.3"/><circle cx="647.2" cy="495"/><circle cx="628.2" cy="512.4"/><circle cx="582.3" cy="507.1"/><circle cx="651.7" cy="511.9"/><circle cx="647.4" cy="516.2"/><circle cx="629.4" cy="497.7"/><circle cx="626.7" cy="505.7"/><circle cx="647.5" cy="520.3"/><circle cx="623.4" cy="512.9"/><circle cx="639.8" cy="495.5"/><circle cx="558.2" cy="507"/><circle cx="547.3" cy="504.9"/><circle cx="592.6" cy="509.3"/><circle cx="562.9" cy="505.2"/><circle cx="570.5" cy="507"/><circle cx="614.5" cy="510.2"/><circle cx="576.8" cy="504.1"/><circle cx="571.7" cy="503.9"/><circle cx="544.9" cy="505.3"/><circle cx="640.3" cy="503.9"/><circle cx="553.8" cy="504.9"/><circle cx="604.3" cy="506.2"/><circle cx="643.3" cy="515.3"/><circle cx="605.3" cy="510.6"/><circle cx="572.4" cy="504.4"/><circle cx="618.5" cy="507.6"/><circle cx="573.4" cy="507.4"/><circle cx="561.5" cy="507.7"/><circle cx="584.9" cy="502.4"/><circle cx="581.3" cy="503.4"/><circle cx="574.7" cy="505.1"/><circle cx="555" cy="506.4"/><circle cx="608.8" cy="507.4"/><circle cx="631.9" cy="503"/><circle cx="634.7" cy="504.4"/></g>
<rect x="444" y="351" width="323.5" height="231" fill="none" stroke="#444" stroke-width="1.5"/>
<path d="M452.4 582v4M493.1 582v4M533.7 582v4M574.4 582v4M615.1 582v4M655.8 582v4M696.5 582v4M737.1 582v4" stroke="#444" stroke-width="1.0"/>
<text x="452.4" y="598.8" font-size="12.1" text-anchor="middle" fill="#262626" >−8</text>
<text x="493.1" y="598.8" font-size="12.1" text-anchor="middle" fill="#262626" >−6</text>
<text x="533.7" y="598.8" font-size="12.1" text-anchor="middle" fill="#262626" >−4</text>
<text x="574.4" y="598.8" font-size="12.1" text-anchor="middle" fill="#262626" >−2</text>
<text x="615.1" y="598.8" font-size="12.1" text-anchor="middle" fill="#262626" >0</text>
<text x="655.8" y="598.8" font-size="12.1" text-anchor="middle" fill="#262626" >2</text>
<text x="696.5" y="598.8" font-size="12.1" text-anchor="middle" fill="#262626" >4</text>
<text x="737.1" y="598.8" font-size="12.1" text-anchor="middle" fill="#262626" >6</text>
<path d="M444 544.6h-4M444 505.8h-4M444 467h-4M444 428.1h-4M444 389.3h-4" stroke="#444" stroke-width="1.0"/>
<text x="435.7" y="550.5" font-size="12.1" text-anchor="end" fill="#262626" >−10</text>
<text x="435.7" y="511.7" font-size="12.1" text-anchor="end" fill="#262626" >0</text>
<text x="435.7" y="472.9" font-size="12.1" text-anchor="end" fill="#262626" >10</text>
<text x="435.7" y="434" font-size="12.1" text-anchor="end" fill="#262626" >20</text>
<text x="435.7" y="395.2" font-size="12.1" text-anchor="end" fill="#262626" >30</text>
<text x="605.8" y="614" font-size="11.5" text-anchor="middle" fill="#262626" >x_1</text>
<text x="407" y="469" font-size="11.5" text-anchor="middle" fill="#262626" transform="rotate(-90 407 469)">x_2</text>
<rect x="451.7" y="358.5" width="160.6" height="49.9" rx="2.5" fill="#fff" fill-opacity="0.8" stroke="#d0d0d0" stroke-width="1"/>
<circle cx="472.6" cy="372" r="3.8" fill="#ff7f0e" fill-opacity="0.7"/>
<text x="499.4" y="376.8" font-size="14.5" text-anchor="start" fill="#262626" textLength="97.4" lengthAdjust="spacingAndGlyphs" >True samples</text>
<circle cx="472.6" cy="394" r="3.8" fill="#1f77b4" fill-opacity="0.7"/>
<text x="499.4" y="398.4" font-size="14.5" text-anchor="start" fill="#262626" textLength="106" lengthAdjust="spacingAndGlyphs" >NUTS samples</text>
<path d="M833.7 25.2H1068.5" stroke="#8c8c8c" stroke-width="1.3"/><path d="M1068.5 25.2V227.2" stroke="#6e6e6e" stroke-width="1.2"/><path d="M833.7 227.2H1068.5" stroke="#808080" stroke-width="1.3"/><path d="M833.7 24.6V227.8" stroke="#333" stroke-width="1.1"/>
<path d="M833.7 218.6h-3M833.7 194.5h-3M833.7 170.3h-3M833.7 146.2h-3M833.7 122.1h-3M833.7 97.9h-3M833.7 73.8h-3M833.7 49.7h-3" stroke="#444" stroke-width="0.9"/>
<text x="825.5" y="222.8" font-size="10" text-anchor="end" fill="#262626" >0.03</text>
<text x="825.5" y="198.7" font-size="10" text-anchor="end" fill="#262626" >0.04</text>
<text x="825.5" y="174.5" font-size="10" text-anchor="end" fill="#262626" >0.05</text>
<text x="825.5" y="150.4" font-size="10" text-anchor="end" fill="#262626" >0.06</text>
<text x="825.5" y="126.3" font-size="10" text-anchor="end" fill="#262626" >0.07</text>
<text x="825.5" y="102.1" font-size="10" text-anchor="end" fill="#262626" >0.08</text>
<text x="825.5" y="78" font-size="10" text-anchor="end" fill="#262626" >0.09</text>
<text x="825.5" y="53.9" font-size="10" text-anchor="end" fill="#262626" >0.10</text>
<path d="M843.5 227.2v3M897.3 227.2v3M950.2 227.2v3M1004 227.2v3M1057.6 227.2v3" stroke="#444" stroke-width="0.9"/>
<text x="843.5" y="245.6" font-size="15.6" text-anchor="middle" fill="#262626" >20</text>
<text x="897.3" y="245.6" font-size="15.6" text-anchor="middle" fill="#262626" >40</text>
<text x="950.2" y="245.6" font-size="15.6" text-anchor="middle" fill="#262626" >60</text>
<text x="1004" y="245.6" font-size="15.6" text-anchor="middle" fill="#262626" >80</text>
<text x="1057.6" y="245.6" font-size="15.6" text-anchor="middle" fill="#262626" >100</text>
<text x="951.1" y="261.8" font-size="13" text-anchor="middle" fill="#262626" textLength="65.8" lengthAdjust="spacingAndGlyphs" >dimension</text>
<path d="M843.5 208 L897.3 210.1 L950.2 214 L1004 212.9 L1057.6 214" fill="none" stroke="#008000" stroke-width="1.4" stroke-linejoin="round"/>
<circle cx="843.5" cy="208" r="3.3" fill="#008000"/><circle cx="897.3" cy="210.1" r="3.3" fill="#008000"/><circle cx="950.2" cy="214" r="3.3" fill="#008000"/><circle cx="1004" cy="212.9" r="3.3" fill="#008000"/><circle cx="1057.6" cy="214" r="3.3" fill="#008000"/>
<path d="M843.5 217.8 L897.3 210.1 L950.2 212.2 L1004 198.2 L1057.6 175.1" fill="none" stroke="#ff0000" stroke-width="1.4" stroke-linejoin="round"/>
<circle cx="843.5" cy="217.8" r="3.3" fill="#ff0000"/><circle cx="897.3" cy="210.1" r="3.3" fill="#ff0000"/><circle cx="950.2" cy="212.2" r="3.3" fill="#ff0000"/><circle cx="1004" cy="198.2" r="3.3" fill="#ff0000"/><circle cx="1057.6" cy="175.1" r="3.3" fill="#ff0000"/>
<path d="M843.5 212.9 L897.3 174.1 L950.2 136.8 L1004 140.7 L1057.6 44.4" fill="none" stroke="#bfbf00" stroke-width="1.4" stroke-linejoin="round"/>
<circle cx="843.5" cy="212.9" r="3.3" fill="#bfbf00"/><circle cx="897.3" cy="174.1" r="3.3" fill="#bfbf00"/><circle cx="950.2" cy="136.8" r="3.3" fill="#bfbf00"/><circle cx="1004" cy="140.7" r="3.3" fill="#bfbf00"/><circle cx="1057.6" cy="44.4" r="3.3" fill="#bfbf00"/>
<path d="M843.5 90.4 L897.3 67.2 L950.2 59.9 L1004 41.2 L1057.6 33.8" fill="none" stroke="#0000ff" stroke-width="1.4" stroke-linejoin="round"/>
<circle cx="843.5" cy="90.4" r="3.3" fill="#0000ff"/><circle cx="897.3" cy="67.2" r="3.3" fill="#0000ff"/><circle cx="950.2" cy="59.9" r="3.3" fill="#0000ff"/><circle cx="1004" cy="41.2" r="3.3" fill="#0000ff"/><circle cx="1057.6" cy="33.8" r="3.3" fill="#0000ff"/>
<path d="M843.5 90.4 L897.3 73 L950.2 53.4 L1004 46.1 L1057.6 37.6" fill="none" stroke="#bf00bf" stroke-width="1.4" stroke-linejoin="round"/>
<circle cx="843.5" cy="90.4" r="3.3" fill="#bf00bf"/><circle cx="897.3" cy="73" r="3.3" fill="#bf00bf"/><circle cx="950.2" cy="53.4" r="3.3" fill="#bf00bf"/><circle cx="1004" cy="46.1" r="3.3" fill="#bf00bf"/><circle cx="1057.6" cy="37.6" r="3.3" fill="#bf00bf"/>
<text x="792.5" y="127" font-size="13.5" text-anchor="middle" fill="#262626" textLength="58.7" lengthAdjust="spacingAndGlyphs" transform="rotate(-90 792.5 127)" dy="4.5">Sliced TV</text>
<path d="M1115.6 25.1H1350.5" stroke="#8c8c8c" stroke-width="1.3"/><path d="M1350.5 25.1V227.2" stroke="#6e6e6e" stroke-width="1.2"/><path d="M1115.6 227.2H1350.5" stroke="#808080" stroke-width="1.3"/><path d="M1115.6 24.5V227.8" stroke="#333" stroke-width="1.1"/>
<path d="M1115.6 226.2h-3M1115.6 203h-3M1115.6 179.7h-3M1115.6 156.5h-3M1115.6 133.3h-3M1115.6 110h-3M1115.6 86.8h-3M1115.6 63.6h-3M1115.6 40.4h-3" stroke="#444" stroke-width="0.9"/>
<text x="1107.4" y="230.4" font-size="10" text-anchor="end" fill="#262626" >0.05</text>
<text x="1107.4" y="207.2" font-size="10" text-anchor="end" fill="#262626" >0.10</text>
<text x="1107.4" y="183.9" font-size="10" text-anchor="end" fill="#262626" >0.15</text>
<text x="1107.4" y="160.7" font-size="10" text-anchor="end" fill="#262626" >0.20</text>
<text x="1107.4" y="137.5" font-size="10" text-anchor="end" fill="#262626" >0.25</text>
<text x="1107.4" y="114.2" font-size="10" text-anchor="end" fill="#262626" >0.30</text>
<text x="1107.4" y="91" font-size="10" text-anchor="end" fill="#262626" >0.35</text>
<text x="1107.4" y="67.8" font-size="10" text-anchor="end" fill="#262626" >0.40</text>
<text x="1107.4" y="44.6" font-size="10" text-anchor="end" fill="#262626" >0.45</text>
<path d="M1125.5 227.2v3M1179.2 227.2v3M1232.9 227.2v3M1285.8 227.2v3M1339.9 227.2v3" stroke="#444" stroke-width="0.9"/>
<text x="1125.5" y="245.6" font-size="15.6" text-anchor="middle" fill="#262626" >20</text>
<text x="1179.2" y="245.6" font-size="15.6" text-anchor="middle" fill="#262626" >40</text>
<text x="1232.9" y="245.6" font-size="15.6" text-anchor="middle" fill="#262626" >60</text>
<text x="1285.8" y="245.6" font-size="15.6" text-anchor="middle" fill="#262626" >80</text>
<text x="1339.9" y="245.6" font-size="15.6" text-anchor="middle" fill="#262626" >100</text>
<text x="1233" y="261.8" font-size="13" text-anchor="middle" fill="#262626" textLength="65.8" lengthAdjust="spacingAndGlyphs" >dimension</text>
<path d="M1125.5 72.1 L1179.2 58 L1232.9 59.1 L1285.8 61.9 L1339.9 61.9" fill="none" stroke="#008000" stroke-width="1.4" stroke-linejoin="round"/>
<circle cx="1125.5" cy="72.1" r="3.3" fill="#008000"/><circle cx="1179.2" cy="58" r="3.3" fill="#008000"/><circle cx="1232.9" cy="59.1" r="3.3" fill="#008000"/><circle cx="1285.8" cy="61.9" r="3.3" fill="#008000"/><circle cx="1339.9" cy="61.9" r="3.3" fill="#008000"/>
<path d="M1125.5 33.8 L1179.2 36.8 L1232.9 52.6 L1285.8 102.6 L1339.9 150.1" fill="none" stroke="#ff0000" stroke-width="1.4" stroke-linejoin="round"/>
<circle cx="1125.5" cy="33.8" r="3.3" fill="#ff0000"/><circle cx="1179.2" cy="36.8" r="3.3" fill="#ff0000"/><circle cx="1232.9" cy="52.6" r="3.3" fill="#ff0000"/><circle cx="1285.8" cy="102.6" r="3.3" fill="#ff0000"/><circle cx="1339.9" cy="150.1" r="3.3" fill="#ff0000"/>
<path d="M1125.5 36.8 L1179.2 64 L1232.9 90.9 L1285.8 142.8 L1339.9 196.2" fill="none" stroke="#bfbf00" stroke-width="1.4" stroke-linejoin="round"/>
<circle cx="1125.5" cy="36.8" r="3.3" fill="#bfbf00"/><circle cx="1179.2" cy="64" r="3.3" fill="#bfbf00"/><circle cx="1232.9" cy="90.9" r="3.3" fill="#bfbf00"/><circle cx="1285.8" cy="142.8" r="3.3" fill="#bfbf00"/><circle cx="1339.9" cy="196.2" r="3.3" fill="#bfbf00"/>
<path d="M1125.5 203.9 L1179.2 210.7 L1232.9 212.9 L1285.8 215.8 L1339.9 217.8" fill="none" stroke="#0000ff" stroke-width="1.4" stroke-linejoin="round"/>
<circle cx="1125.5" cy="203.9" r="3.3" fill="#0000ff"/><circle cx="1179.2" cy="210.7" r="3.3" fill="#0000ff"/><circle cx="1232.9" cy="212.9" r="3.3" fill="#0000ff"/><circle cx="1285.8" cy="215.8" r="3.3" fill="#0000ff"/><circle cx="1339.9" cy="217.8" r="3.3" fill="#0000ff"/>
<path d="M1125.5 203.9 L1179.2 210.7 L1232.9 212.9 L1285.8 215.8 L1339.9 217.8" fill="none" stroke="#bf00bf" stroke-width="1.4" stroke-linejoin="round"/>
<circle cx="1125.5" cy="203.9" r="3.3" fill="#bf00bf"/><circle cx="1179.2" cy="210.7" r="3.3" fill="#bf00bf"/><circle cx="1232.9" cy="212.9" r="3.3" fill="#bf00bf"/><circle cx="1285.8" cy="215.8" r="3.3" fill="#bf00bf"/><circle cx="1339.9" cy="217.8" r="3.3" fill="#bf00bf"/>
<text x="1076.7" y="128" font-size="13" text-anchor="middle" fill="#262626" textLength="21.6" lengthAdjust="spacingAndGlyphs" transform="rotate(-90 1076.7 128)" dy="4.5">ESS</text>
<rect x="1119.3" y="89.6" width="85.4" height="72.8" rx="2" fill="#fff" fill-opacity="0.8" stroke="#d0d0d0" stroke-width="1"/>
<path d="M1122.3 98H1142.3" stroke="#008000" stroke-width="1.4"/><circle cx="1132.7" cy="98" r="3.3" fill="#008000"/>
<text x="1149.6" y="101.7" font-size="10.5" text-anchor="start" fill="#262626" textLength="24.4" lengthAdjust="spacingAndGlyphs" >NUTS</text>
<path d="M1122.3 111.7H1142.3" stroke="#ff0000" stroke-width="1.4"/><circle cx="1132.7" cy="111.7" r="3.3" fill="#ff0000"/>
<text x="1149.6" y="115.4" font-size="10.5" text-anchor="start" fill="#262626" textLength="23.7" lengthAdjust="spacingAndGlyphs" >Flex2</text>
<path d="M1122.3 125.7H1142.3" stroke="#bfbf00" stroke-width="1.4"/><circle cx="1132.7" cy="125.7" r="3.3" fill="#bfbf00"/>
<text x="1149.6" y="129.4" font-size="10.5" text-anchor="start" fill="#262626" textLength="50" lengthAdjust="spacingAndGlyphs" >Adapt i-SIR</text>
<path d="M1122.3 139.6H1142.3" stroke="#0000ff" stroke-width="1.4"/><circle cx="1132.7" cy="139.6" r="3.3" fill="#0000ff"/>
<text x="1149.6" y="143.3" font-size="10.5" text-anchor="start" fill="#262626" textLength="15.7" lengthAdjust="spacingAndGlyphs" >Ex2</text>
<path d="M1122.3 153.3H1142.3" stroke="#bf00bf" stroke-width="1.4"/><circle cx="1132.7" cy="153.3" r="3.3" fill="#bf00bf"/>
<text x="1149.6" y="157" font-size="10.5" text-anchor="start" fill="#262626" textLength="25.3" lengthAdjust="spacingAndGlyphs" >MALA</text>
<path d="M833.7 363.9H1067.9" stroke="#8c8c8c" stroke-width="1.3"/><path d="M1067.9 363.9V565.7" stroke="#6e6e6e" stroke-width="1.2"/><path d="M833.7 565.7H1067.9" stroke="#808080" stroke-width="1.3"/><path d="M833.7 363.3V566.3" stroke="#333" stroke-width="1.1"/>
<path d="M833.7 555.6h-3M833.7 533.1h-3M833.7 510.7h-3M833.7 488.2h-3M833.7 465.7h-3M833.7 443.2h-3M833.7 420.8h-3M833.7 398.3h-3M833.7 375.8h-3" stroke="#444" stroke-width="0.9"/>
<text x="825.5" y="559.8" font-size="10" text-anchor="end" fill="#262626" >0.05</text>
<text x="825.5" y="537.3" font-size="10" text-anchor="end" fill="#262626" >0.10</text>
<text x="825.5" y="514.9" font-size="10" text-anchor="end" fill="#262626" >0.15</text>
<text x="825.5" y="492.4" font-size="10" text-anchor="end" fill="#262626" >0.20</text>
<text x="825.5" y="469.9" font-size="10" text-anchor="end" fill="#262626" >0.25</text>
<text x="825.5" y="447.4" font-size="10" text-anchor="end" fill="#262626" >0.30</text>
<text x="825.5" y="425" font-size="10" text-anchor="end" fill="#262626" >0.35</text>
<text x="825.5" y="402.5" font-size="10" text-anchor="end" fill="#262626" >0.40</text>
<text x="825.5" y="380" font-size="10" text-anchor="end" fill="#262626" >0.45</text>
<path d="M843.8 565.7v3M897.3 565.7v3M950.2 565.7v3M1004 565.7v3M1057.6 565.7v3" stroke="#444" stroke-width="0.9"/>
<text x="843.8" y="584.1" font-size="15.6" text-anchor="middle" fill="#262626" >10</text>
<text x="897.3" y="584.1" font-size="15.6" text-anchor="middle" fill="#262626" >20</text>
<text x="950.2" y="584.1" font-size="15.6" text-anchor="middle" fill="#262626" >50</text>
<text x="1004" y="584.1" font-size="15.6" text-anchor="middle" fill="#262626" >100</text>
<text x="1057.6" y="584.1" font-size="15.6" text-anchor="middle" fill="#262626" >200</text>
<text x="950.8" y="600.3" font-size="13" text-anchor="middle" fill="#262626" textLength="65.8" lengthAdjust="spacingAndGlyphs" >dimension</text>
<path d="M843.8 535.3 L897.3 530.5 L950.2 521.6 L1004 502.8 L1057.6 486.9" fill="none" stroke="#008000" stroke-width="1.4" stroke-linejoin="round"/>
<circle cx="843.8" cy="535.3" r="3.3" fill="#008000"/><circle cx="897.3" cy="530.5" r="3.3" fill="#008000"/><circle cx="950.2" cy="521.6" r="3.3" fill="#008000"/><circle cx="1004" cy="502.8" r="3.3" fill="#008000"/><circle cx="1057.6" cy="486.9" r="3.3" fill="#008000"/>
<path d="M843.8 554.2 L897.3 553.7 L950.2 554.8 L1004 556.1 L1057.6 542.8" fill="none" stroke="#ff0000" stroke-width="1.4" stroke-linejoin="round"/>
<circle cx="843.8" cy="554.2" r="3.3" fill="#ff0000"/><circle cx="897.3" cy="553.7" r="3.3" fill="#ff0000"/><circle cx="950.2" cy="554.8" r="3.3" fill="#ff0000"/><circle cx="1004" cy="556.1" r="3.3" fill="#ff0000"/><circle cx="1057.6" cy="542.8" r="3.3" fill="#ff0000"/>
<path d="M843.8 555.8 L897.3 555.8 L950.2 549.6 L1004 555.3 L1057.6 539.8" fill="none" stroke="#bfbf00" stroke-width="1.4" stroke-linejoin="round"/>
<circle cx="843.8" cy="555.8" r="3.3" fill="#bfbf00"/><circle cx="897.3" cy="555.8" r="3.3" fill="#bfbf00"/><circle cx="950.2" cy="549.6" r="3.3" fill="#bfbf00"/><circle cx="1004" cy="555.3" r="3.3" fill="#bfbf00"/><circle cx="1057.6" cy="539.8" r="3.3" fill="#bfbf00"/>
<path d="M843.8 523.2 L897.3 515.1 L950.2 480.4 L1004 437.9 L1057.6 414.9" fill="none" stroke="#0000ff" stroke-width="1.4" stroke-linejoin="round"/>
<circle cx="843.8" cy="523.2" r="3.3" fill="#0000ff"/><circle cx="897.3" cy="515.1" r="3.3" fill="#0000ff"/><circle cx="950.2" cy="480.4" r="3.3" fill="#0000ff"/><circle cx="1004" cy="437.9" r="3.3" fill="#0000ff"/><circle cx="1057.6" cy="414.9" r="3.3" fill="#0000ff"/>
<path d="M843.8 500.7 L897.3 510 L950.2 434.1 L1004 398 L1057.6 373" fill="none" stroke="#bf00bf" stroke-width="1.4" stroke-linejoin="round"/>
<circle cx="843.8" cy="500.7" r="3.3" fill="#bf00bf"/><circle cx="897.3" cy="510" r="3.3" fill="#bf00bf"/><circle cx="950.2" cy="434.1" r="3.3" fill="#bf00bf"/><circle cx="1004" cy="398" r="3.3" fill="#bf00bf"/><circle cx="1057.6" cy="373" r="3.3" fill="#bf00bf"/>
<path d="M843.8 497.1 L897.3 452.9 L950.2 420.5 L1004 409.2 L1057.6 403.7" fill="none" stroke="#00bfbf" stroke-width="1.4" stroke-linejoin="round"/>
<circle cx="843.8" cy="497.1" r="3.3" fill="#00bfbf"/><circle cx="897.3" cy="452.9" r="3.3" fill="#00bfbf"/><circle cx="950.2" cy="420.5" r="3.3" fill="#00bfbf"/><circle cx="1004" cy="409.2" r="3.3" fill="#00bfbf"/><circle cx="1057.6" cy="403.7" r="3.3" fill="#00bfbf"/>
<text x="792.5" y="465" font-size="13.5" text-anchor="middle" fill="#262626" textLength="58.7" lengthAdjust="spacingAndGlyphs" transform="rotate(-90 792.5 465)" dy="4.5">Sliced TV</text>
<path d="M1115.6 363.7H1350.5" stroke="#8c8c8c" stroke-width="1.3"/><path d="M1350.5 363.7V565.7" stroke="#6e6e6e" stroke-width="1.2"/><path d="M1115.6 565.7H1350.5" stroke="#808080" stroke-width="1.3"/><path d="M1115.6 363.1V566.3" stroke="#333" stroke-width="1.1"/>
<path d="M1115.6 559.6h-3M1115.6 537h-3M1115.6 514.4h-3M1115.6 491.8h-3M1115.6 469.2h-3M1115.6 446.6h-3M1115.6 424h-3M1115.6 401.4h-3M1115.6 378.8h-3" stroke="#444" stroke-width="0.9"/>
<text x="1107.4" y="563.8" font-size="10" text-anchor="end" fill="#262626" >0.00</text>
<text x="1107.4" y="541.2" font-size="10" text-anchor="end" fill="#262626" >0.05</text>
<text x="1107.4" y="518.6" font-size="10" text-anchor="end" fill="#262626" >0.10</text>
<text x="1107.4" y="496" font-size="10" text-anchor="end" fill="#262626" >0.15</text>
<text x="1107.4" y="473.4" font-size="10" text-anchor="end" fill="#262626" >0.20</text>
<text x="1107.4" y="450.8" font-size="10" text-anchor="end" fill="#262626" >0.25</text>
<text x="1107.4" y="428.2" font-size="10" text-anchor="end" fill="#262626" >0.30</text>
<text x="1107.4" y="405.6" font-size="10" text-anchor="end" fill="#262626" >0.35</text>
<text x="1107.4" y="383" font-size="10" text-anchor="end" fill="#262626" >0.40</text>
<path d="M1125.5 565.7v3M1179.2 565.7v3M1232.9 565.7v3M1285.8 565.7v3M1339.9 565.7v3" stroke="#444" stroke-width="0.9"/>
<text x="1125.5" y="584.1" font-size="15.6" text-anchor="middle" fill="#262626" >10</text>
<text x="1179.2" y="584.1" font-size="15.6" text-anchor="middle" fill="#262626" >20</text>
<text x="1232.9" y="584.1" font-size="15.6" text-anchor="middle" fill="#262626" >50</text>
<text x="1285.8" y="584.1" font-size="15.6" text-anchor="middle" fill="#262626" >100</text>
<text x="1339.9" y="584.1" font-size="15.6" text-anchor="middle" fill="#262626" >200</text>
<text x="1233" y="600.3" font-size="13" text-anchor="middle" fill="#262626" textLength="65.8" lengthAdjust="spacingAndGlyphs" >dimension</text>
<path d="M1125.5 388 L1179.2 406.4 L1232.9 418.3 L1285.8 434.5 L1339.9 438.5" fill="none" stroke="#008000" stroke-width="1.4" stroke-linejoin="round"/>
<circle cx="1125.5" cy="388" r="3.3" fill="#008000"/><circle cx="1179.2" cy="406.4" r="3.3" fill="#008000"/><circle cx="1232.9" cy="418.3" r="3.3" fill="#008000"/><circle cx="1285.8" cy="434.5" r="3.3" fill="#008000"/><circle cx="1339.9" cy="438.5" r="3.3" fill="#008000"/>
<path d="M1125.5 396.2 L1179.2 393.7 L1232.9 408.9 L1285.8 393.7 L1339.9 449.3" fill="none" stroke="#ff0000" stroke-width="1.4" stroke-linejoin="round"/>
<circle cx="1125.5" cy="396.2" r="3.3" fill="#ff0000"/><circle cx="1179.2" cy="393.7" r="3.3" fill="#ff0000"/><circle cx="1232.9" cy="408.9" r="3.3" fill="#ff0000"/><circle cx="1285.8" cy="393.7" r="3.3" fill="#ff0000"/><circle cx="1339.9" cy="449.3" r="3.3" fill="#ff0000"/>
<path d="M1125.5 373 L1179.2 373 L1232.9 382.3 L1285.8 386.9 L1339.9 443.4" fill="none" stroke="#bfbf00" stroke-width="1.4" stroke-linejoin="round"/>
<circle cx="1125.5" cy="373" r="3.3" fill="#bfbf00"/><circle cx="1179.2" cy="373" r="3.3" fill="#bfbf00"/><circle cx="1232.9" cy="382.3" r="3.3" fill="#bfbf00"/><circle cx="1285.8" cy="386.9" r="3.3" fill="#bfbf00"/><circle cx="1339.9" cy="443.4" r="3.3" fill="#bfbf00"/>
<path d="M1125.5 451.7 L1179.2 483.6 L1232.9 519.5 L1285.8 527.6 L1339.9 525.2" fill="none" stroke="#0000ff" stroke-width="1.4" stroke-linejoin="round"/>
<circle cx="1125.5" cy="451.7" r="3.3" fill="#0000ff"/><circle cx="1179.2" cy="483.6" r="3.3" fill="#0000ff"/><circle cx="1232.9" cy="519.5" r="3.3" fill="#0000ff"/><circle cx="1285.8" cy="527.6" r="3.3" fill="#0000ff"/><circle cx="1339.9" cy="525.2" r="3.3" fill="#0000ff"/>
<path d="M1125.5 543.6 L1179.2 542.8 L1232.9 554 L1285.8 555.6 L1339.9 556.4" fill="none" stroke="#bf00bf" stroke-width="1.4" stroke-linejoin="round"/>
<circle cx="1125.5" cy="543.6" r="3.3" fill="#bf00bf"/><circle cx="1179.2" cy="542.8" r="3.3" fill="#bf00bf"/><circle cx="1232.9" cy="554" r="3.3" fill="#bf00bf"/><circle cx="1285.8" cy="555.6" r="3.3" fill="#bf00bf"/><circle cx="1339.9" cy="556.4" r="3.3" fill="#bf00bf"/>
<path d="M1125.5 456.4 L1179.2 481.2 L1232.9 503.7 L1285.8 503.7 L1339.9 504.5" fill="none" stroke="#00bfbf" stroke-width="1.4" stroke-linejoin="round"/>
<circle cx="1125.5" cy="456.4" r="3.3" fill="#00bfbf"/><circle cx="1179.2" cy="481.2" r="3.3" fill="#00bfbf"/><circle cx="1232.9" cy="503.7" r="3.3" fill="#00bfbf"/><circle cx="1285.8" cy="503.7" r="3.3" fill="#00bfbf"/><circle cx="1339.9" cy="504.5" r="3.3" fill="#00bfbf"/>
<text x="1076.7" y="466" font-size="13" text-anchor="middle" fill="#262626" textLength="21.6" lengthAdjust="spacingAndGlyphs" transform="rotate(-90 1076.7 466)" dy="4.5">ESS</text>
<rect x="1192.6" y="422.1" width="80.1" height="86.3" rx="2" fill="#fff" fill-opacity="0.8" stroke="#d0d0d0" stroke-width="1"/>
<path d="M1194.8 429.4H1214.8" stroke="#008000" stroke-width="1.4"/><circle cx="1205.2" cy="429.4" r="3.3" fill="#008000"/>
<text x="1221.5" y="433.1" font-size="10.5" text-anchor="start" fill="#262626" textLength="24.8" lengthAdjust="spacingAndGlyphs" >NUTS</text>
<path d="M1194.8 443.2H1214.8" stroke="#ff0000" stroke-width="1.4"/><circle cx="1205.2" cy="443.2" r="3.3" fill="#ff0000"/>
<text x="1221.5" y="446.9" font-size="10.5" text-anchor="start" fill="#262626" textLength="24.2" lengthAdjust="spacingAndGlyphs" >Flex2</text>
<path d="M1194.8 457.3H1214.8" stroke="#bfbf00" stroke-width="1.4"/><circle cx="1205.2" cy="457.3" r="3.3" fill="#bfbf00"/>
<text x="1221.5" y="461" font-size="10.5" text-anchor="start" fill="#262626" textLength="47.5" lengthAdjust="spacingAndGlyphs" >Adapt iSIR</text>
<path d="M1194.8 471.3H1214.8" stroke="#0000ff" stroke-width="1.4"/><circle cx="1205.2" cy="471.3" r="3.3" fill="#0000ff"/>
<text x="1221.5" y="475" font-size="10.5" text-anchor="start" fill="#262626" textLength="16.3" lengthAdjust="spacingAndGlyphs" >Ex2</text>
<path d="M1194.8 485.1H1214.8" stroke="#bf00bf" stroke-width="1.4"/><circle cx="1205.2" cy="485.1" r="3.3" fill="#bf00bf"/>
<text x="1221.5" y="488.8" font-size="10.5" text-anchor="start" fill="#262626" textLength="25.9" lengthAdjust="spacingAndGlyphs" >MALA</text>
<path d="M1194.8 499.2H1214.8" stroke="#00bfbf" stroke-width="1.4"/><circle cx="1205.2" cy="499.2" r="3.3" fill="#00bfbf"/>
<text x="1221.5" y="502.9" font-size="10.5" text-anchor="start" fill="#262626" textLength="20.5" lengthAdjust="spacingAndGlyphs" >i-SIR</text>
<text class="ser" x="152.8" y="330.6" font-size="32" fill="#000" textLength="31.9" lengthAdjust="spacingAndGlyphs">(a)</text>
<text class="ser" x="196" y="330.6" font-size="32" font-style="italic" fill="#000" textLength="14.6" lengthAdjust="spacingAndGlyphs">d</text>
<rect x="221.3" y="318.4" width="21.6" height="1.35" fill="#000"/><rect x="221.3" y="325.2" width="21.6" height="1.35" fill="#000"/>
<text class="ser" x="256.6" y="330.6" font-size="32" fill="#000" textLength="366.5" lengthAdjust="spacingAndGlyphs">100, 2000 samples projection</text>
<text class="ser" x="152.8" y="668.4" font-size="32" fill="#000" textLength="31.9" lengthAdjust="spacingAndGlyphs">(c)</text>
<text class="ser" x="196" y="668.4" font-size="32" font-style="italic" fill="#000" textLength="14.6" lengthAdjust="spacingAndGlyphs">d</text>
<rect x="221.3" y="656.2" width="21.6" height="1.35" fill="#000"/><rect x="221.3" y="663" width="21.6" height="1.35" fill="#000"/>
<text class="ser" x="256.6" y="668.4" font-size="32" fill="#000" textLength="366.5" lengthAdjust="spacingAndGlyphs">100, 1000 samples projection</text>
<text class="ser" x="886.1" y="314.6" font-size="32" fill="#000" textLength="368.1" lengthAdjust="spacingAndGlyphs">(b) Banana-shape distribution</text>
<text class="ser" x="965.7" y="654.1" font-size="32" fill="#000" textLength="208.8" lengthAdjust="spacingAndGlyphs">(d) Neal’s funnel</text>
</svg></body></html>
